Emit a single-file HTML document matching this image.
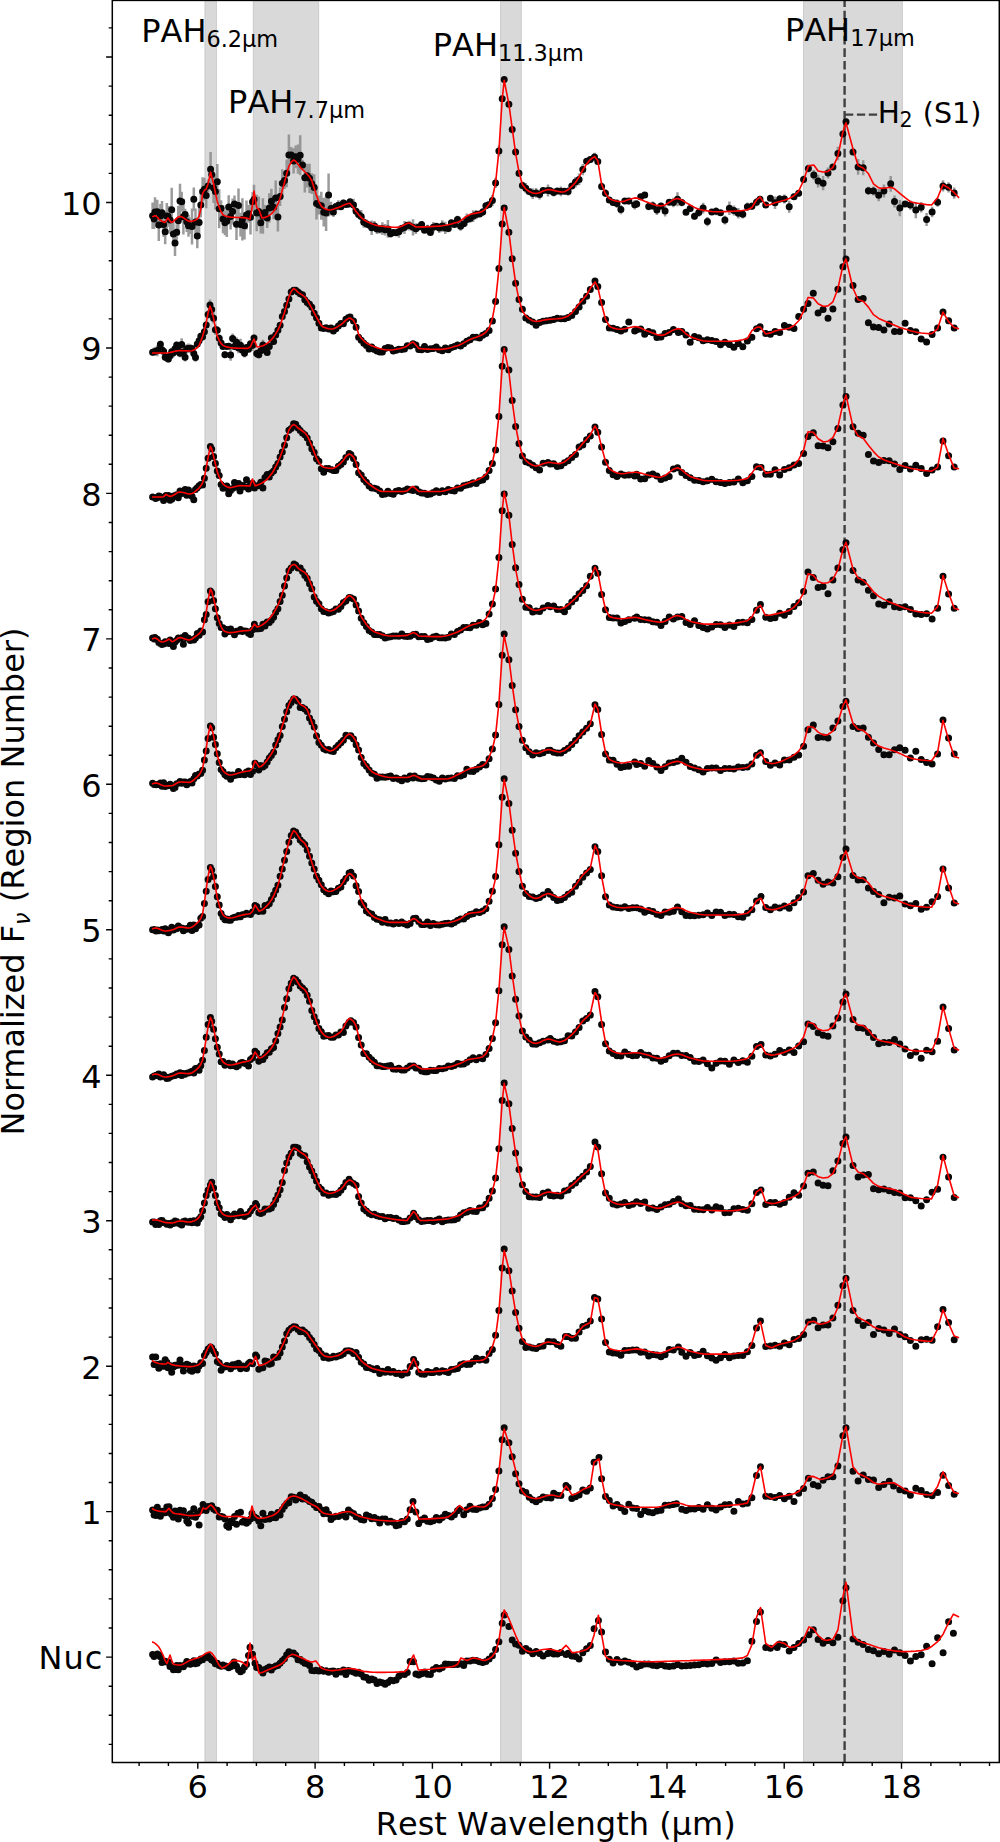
<!DOCTYPE html><html><head><meta charset="utf-8"><title>PAH spectra</title>
<style>html,body{margin:0;padding:0;background:#fff}svg{display:block}text{font-family:'DejaVu Sans', 'Liberation Sans', sans-serif;fill:#000;font-kerning:none}</style></head><body>
<svg width="1000" height="1842" viewBox="0 0 1000 1842">
<rect width="1000" height="1842" fill="#fff"/>
<rect x="204.6" y="0.4" width="12.3" height="1762.1" fill="#d9d9d9"/>
<path d="M205.1 0.4V1762.5M216.4 0.4V1762.5" stroke="#cdcdcd" stroke-width="1"/>
<rect x="252.9" y="0.4" width="66.2" height="1762.1" fill="#d9d9d9"/>
<path d="M253.4 0.4V1762.5M318.6 0.4V1762.5" stroke="#cdcdcd" stroke-width="1"/>
<rect x="500.1" y="0.4" width="21.6" height="1762.1" fill="#d9d9d9"/>
<path d="M500.6 0.4V1762.5M521.2 0.4V1762.5" stroke="#cdcdcd" stroke-width="1"/>
<rect x="803.1" y="0.4" width="99.7" height="1762.1" fill="#d9d9d9"/>
<path d="M803.6 0.4V1762.5M902.3 0.4V1762.5" stroke="#cdcdcd" stroke-width="1"/>
<line x1="844.6" y1="1762.5" x2="844.6" y2="0.4" stroke="#404040" stroke-width="2.4" stroke-dasharray="8.7 3.84"/>
<path d="M152.6 202.4V229M154.1 209V229M155 197.2V227.1M157.3 199.7V223.8M158.8 208.9V240.9M160.4 204V228.1M162 201V224.6M163.6 212.1V237.1M165.2 219.4V244.3M166.8 203V228.8M168 205.9V226.8M170.1 206.4V233.8M171.7 187.8V231.5M173.4 221.9V246.2M175 229.7V256.1M176.7 224.2V240.2M178.3 206.1V235.4M180 183.8V218.3M181.7 191.7V211.6M183.4 198.8V234.5M185.1 208.8V220.4M186.8 211.5V232.1M188.5 214.7V236.7M190.3 217.5V233.9M192 208.6V244.4M193.8 187.4V211.1M195.5 208.5V235.7M197.3 223.8V248.2M199.1 207.2V237.8M200.8 192.4V217.3M202.6 177.3V205.6M204.4 177.7V200.6M206.2 182.9V208.3M208.1 179.6V192.3M210.6 151.9V186.8M211.7 166V182.8M213.6 172.8V203M215.4 173.8V209.5M217.3 164.1V199.5M219.2 189.3V228.3M221.1 200.2V216.6M223 204.9V233.2M224.9 210.4V235.2M226.8 205.4V237.1M228.7 195.2V219M230.6 203.4V229.4M232.6 198.5V224.6M234.5 195.6V212.6M236.5 208.5V239.9M238.5 188.5V222.4M240.5 212.7V236.4M242.4 198.2V240.6M244.5 212.2V239.4M246.5 200.4V229.5M248.5 205.1V222.4M250.5 200.2V234.5M252.6 192V211.4M254 184.7V214.4M256.7 194.8V231.3M258.8 196.5V226.6M260.8 212V233.5M262.9 198.2V233.8M265 205.1V219.9M267.2 207.9V227.9M269.3 193.3V222.7M271.4 188.8V213.7M273.6 195.4V219.2M275.7 180.4V215.5M277.9 202.6V231.5M280.1 187.3V205.9M282.3 169.3V197.3M284.5 172V188.9M286.7 159.4V187.3M288.9 134.5V175.4M291.2 146.9V162.9M293.6 148.3V173.5M295.7 145.4V168.3M298 144.6V173.7M300.2 135.3V175.3M302.5 159.7V170.4M304.8 163.3V192.4M307.2 163.8V187.5M309.5 163.8V192.9M311.8 173.3V194M314.2 174.2V200.8M316.5 187.2V219.5M318.9 195.5V214.4M321.3 191.7V219.8M323.7 197.8V226.5M326.1 195.1V231.1M328.6 173.5V216.6M331 201.7V215.4M333.4 206.9V216.9M335.9 203.2V209.8M338.4 200.2V210.2M340.9 203.6V209.9M343.4 199.4V206.6M345.9 201.4V207.7M348.4 199.7V208M350 200.3V203.1M353.5 198.8V211.2M356.1 207.5V215.1M358.6 210.4V218.6M361.2 210V222.9M363.8 216.9V227.7M366.4 219.6V228.1M369.1 221.3V228.9M371.7 220.6V235M374.4 221V231M377 223.8V233.9M379.7 224.9V233.6M382.4 222.2V235.1M385.1 224V235.4M387.9 220.1V237.7M390.6 230V237.6M393.3 229.6V235.3M396.1 229.6V235.8M398.9 225.7V237.8M401.7 224.8V232.4M404.5 221.1V234M407.3 223.2V227.4M409.4 220.8V230.4M413 219.2V235.5M415.9 223.2V234.1M418.7 224.9V228.8M421.6 221.2V227.6M424.5 228.8V231.8M427.5 224.7V233.2M430.4 230.1V234.7M433.3 222.1V232.4M436.3 223.7V228.8M439.3 223.4V232.9M442.3 220.3V231.9M445.3 221.8V234.1M448.3 224.8V232.3M451.4 219.7V225.9M454.4 222.5V226.5M457.5 215.7V223.2M460.6 221.7V230.7M463.7 221.2V226.4M466.8 213.5V225.5M470 214.3V222.8M473.1 210.3V222.1M476.3 209.9V219.2M479.5 211.1V216.9M482.7 208.1V215.9M485.9 202.7V208.7M489.1 201.9V207.3M492.4 195.1V206.1M495.6 177.7V188M498.9 145.5V156.4M502.2 96.2V101.4M504.2 77.3V81.4M508.9 102.1V106.4M512.2 125.7V133.4M515.6 148.6V155.6M519 169.8V176.9M522.4 181.8V188.9M525.8 183.1V193.3M529.2 190.4V192.7M532.7 188.3V198.9M536.1 188.1V197.7M539.6 189.8V199.4M543.1 188.5V192.6M548 184.4V196.5M550.2 187.6V193.8M553.7 188.3V196.5M557.3 189.9V191.9M560.9 186.5V196.2M564.5 188.2V194.3M568.1 187.3V195.8M571.8 183V189.1M575.5 176.9V187.4M579.1 173.5V185.3M582.8 164V175.2M586.6 158.6V163.9M590.3 156.4V162.8M594.5 152.8V161M597.8 158.4V164.3M601.6 182.6V190.2M605.5 189.3V197.1M609.3 197.9V202.3M613.1 199.4V205.6M617 199V208.1M620.9 204.9V214.2M624.8 199.2V202.6M628.8 197.9V204.4M634.7 199.9V209.6M636.7 200V208M640.7 193.9V199.6M644.7 193.4V196.5M648.7 202.7V210.3M652.8 201.4V210M656.9 204.9V215.1M661 203V209.3M665.1 205.8V216.5M669.2 199.9V204.8M673.4 197.8V207.3M677.5 192.3V206.2M681.8 198.7V206.3M686 209.6V215M690.2 205.5V211.4M694.5 212.8V219.7M698.8 208.1V216.8M703.1 202.8V213.5M707.4 217V226.2M711.8 209.7V214.5M716.1 207.2V215.3M720.5 211.2V214.3M724.9 215.7V224.5M729.4 201.6V215.1M733.9 205.6V215.4M738.3 208V218.5M742.8 209.8V218.6M747.4 202.4V211M751.9 202.6V210.1M756.5 198.1V206.3M760 195.7V202.7M765.7 202.7V207.2M770.4 196.3V200.1M775 196.5V209.1M779.7 195.1V202.8M784.4 194.4V203.6M789.2 200.8V212.8M794 193.5V200.1M798.7 190.2V196.4M803.6 175.6V183.1M808.4 164.4V172.5M813.8 169.9V180.1M818.1 174.8V187.5M823.1 176.1V190.2M828 167.5V178.6M832.9 163.9V170.2M837.9 146.7V160.2M842.9 130.7V137.1M846 117.9V125.5M853 148.4V155.3M858.1 158.9V174.8M863.2 160.3V175.3M868.4 186.7V194.9M873.5 186.4V195.5M878.7 189.1V201.3M883.9 184.6V197.5M890.7 175.9V191.8M894.5 195.6V207.6M899.8 199.9V216.3M905.1 201.5V206.5M910.4 200.4V209.8M915.8 202V218.2M921.2 202.1V212.5M926.6 213V225.9M932.1 206.8V217.2M937.6 197.8V206.8M943 180.2V191.6M948.6 182.2V192.4M954.2 187.4V198.7" stroke="#8a8a8a" stroke-opacity="0.85" stroke-width="2.5" fill="none"/>
<path d="M149.1 215.7a3.5 3.5 0 1 0 7 0a3.5 3.5 0 1 0 -7 0M150.6 219a3.5 3.5 0 1 0 7 0a3.5 3.5 0 1 0 -7 0M151.5 212.1a3.5 3.5 0 1 0 7 0a3.5 3.5 0 1 0 -7 0M153.8 211.8a3.5 3.5 0 1 0 7 0a3.5 3.5 0 1 0 -7 0M155.3 224.9a3.5 3.5 0 1 0 7 0a3.5 3.5 0 1 0 -7 0M156.9 216.1a3.5 3.5 0 1 0 7 0a3.5 3.5 0 1 0 -7 0M158.5 212.8a3.5 3.5 0 1 0 7 0a3.5 3.5 0 1 0 -7 0M160.1 224.6a3.5 3.5 0 1 0 7 0a3.5 3.5 0 1 0 -7 0M161.7 231.8a3.5 3.5 0 1 0 7 0a3.5 3.5 0 1 0 -7 0M163.3 215.9a3.5 3.5 0 1 0 7 0a3.5 3.5 0 1 0 -7 0M164.5 216.3a3.5 3.5 0 1 0 7 0a3.5 3.5 0 1 0 -7 0M166.6 220.1a3.5 3.5 0 1 0 7 0a3.5 3.5 0 1 0 -7 0M168.2 209.7a3.5 3.5 0 1 0 7 0a3.5 3.5 0 1 0 -7 0M169.9 234.1a3.5 3.5 0 1 0 7 0a3.5 3.5 0 1 0 -7 0M171.5 242.9a3.5 3.5 0 1 0 7 0a3.5 3.5 0 1 0 -7 0M173.2 232.2a3.5 3.5 0 1 0 7 0a3.5 3.5 0 1 0 -7 0M174.8 220.8a3.5 3.5 0 1 0 7 0a3.5 3.5 0 1 0 -7 0M176.5 201.1a3.5 3.5 0 1 0 7 0a3.5 3.5 0 1 0 -7 0M178.2 201.7a3.5 3.5 0 1 0 7 0a3.5 3.5 0 1 0 -7 0M179.9 216.7a3.5 3.5 0 1 0 7 0a3.5 3.5 0 1 0 -7 0M181.6 214.6a3.5 3.5 0 1 0 7 0a3.5 3.5 0 1 0 -7 0M183.3 221.8a3.5 3.5 0 1 0 7 0a3.5 3.5 0 1 0 -7 0M185 225.7a3.5 3.5 0 1 0 7 0a3.5 3.5 0 1 0 -7 0M186.8 225.7a3.5 3.5 0 1 0 7 0a3.5 3.5 0 1 0 -7 0M188.5 226.5a3.5 3.5 0 1 0 7 0a3.5 3.5 0 1 0 -7 0M190.3 199.3a3.5 3.5 0 1 0 7 0a3.5 3.5 0 1 0 -7 0M192 222.1a3.5 3.5 0 1 0 7 0a3.5 3.5 0 1 0 -7 0M193.8 236a3.5 3.5 0 1 0 7 0a3.5 3.5 0 1 0 -7 0M195.6 222.5a3.5 3.5 0 1 0 7 0a3.5 3.5 0 1 0 -7 0M197.3 204.9a3.5 3.5 0 1 0 7 0a3.5 3.5 0 1 0 -7 0M199.1 191.4a3.5 3.5 0 1 0 7 0a3.5 3.5 0 1 0 -7 0M200.9 189.2a3.5 3.5 0 1 0 7 0a3.5 3.5 0 1 0 -7 0M202.7 195.6a3.5 3.5 0 1 0 7 0a3.5 3.5 0 1 0 -7 0M204.6 186a3.5 3.5 0 1 0 7 0a3.5 3.5 0 1 0 -7 0M207.1 169.3a3.5 3.5 0 1 0 7 0a3.5 3.5 0 1 0 -7 0M208.2 174.4a3.5 3.5 0 1 0 7 0a3.5 3.5 0 1 0 -7 0M210.1 187.9a3.5 3.5 0 1 0 7 0a3.5 3.5 0 1 0 -7 0M211.9 191.6a3.5 3.5 0 1 0 7 0a3.5 3.5 0 1 0 -7 0M213.8 181.8a3.5 3.5 0 1 0 7 0a3.5 3.5 0 1 0 -7 0M215.7 208.8a3.5 3.5 0 1 0 7 0a3.5 3.5 0 1 0 -7 0M217.6 208.4a3.5 3.5 0 1 0 7 0a3.5 3.5 0 1 0 -7 0M219.5 219a3.5 3.5 0 1 0 7 0a3.5 3.5 0 1 0 -7 0M221.4 222.8a3.5 3.5 0 1 0 7 0a3.5 3.5 0 1 0 -7 0M223.3 221.3a3.5 3.5 0 1 0 7 0a3.5 3.5 0 1 0 -7 0M225.2 207.1a3.5 3.5 0 1 0 7 0a3.5 3.5 0 1 0 -7 0M227.1 216.4a3.5 3.5 0 1 0 7 0a3.5 3.5 0 1 0 -7 0M229.1 211.5a3.5 3.5 0 1 0 7 0a3.5 3.5 0 1 0 -7 0M231 204.1a3.5 3.5 0 1 0 7 0a3.5 3.5 0 1 0 -7 0M233 224.2a3.5 3.5 0 1 0 7 0a3.5 3.5 0 1 0 -7 0M235 205.4a3.5 3.5 0 1 0 7 0a3.5 3.5 0 1 0 -7 0M237 224.6a3.5 3.5 0 1 0 7 0a3.5 3.5 0 1 0 -7 0M238.9 219.4a3.5 3.5 0 1 0 7 0a3.5 3.5 0 1 0 -7 0M241 225.8a3.5 3.5 0 1 0 7 0a3.5 3.5 0 1 0 -7 0M243 215a3.5 3.5 0 1 0 7 0a3.5 3.5 0 1 0 -7 0M245 213.7a3.5 3.5 0 1 0 7 0a3.5 3.5 0 1 0 -7 0M247 217.3a3.5 3.5 0 1 0 7 0a3.5 3.5 0 1 0 -7 0M249.1 201.7a3.5 3.5 0 1 0 7 0a3.5 3.5 0 1 0 -7 0M250.5 199.6a3.5 3.5 0 1 0 7 0a3.5 3.5 0 1 0 -7 0M253.2 213a3.5 3.5 0 1 0 7 0a3.5 3.5 0 1 0 -7 0M255.3 211.5a3.5 3.5 0 1 0 7 0a3.5 3.5 0 1 0 -7 0M257.3 222.7a3.5 3.5 0 1 0 7 0a3.5 3.5 0 1 0 -7 0M259.4 216a3.5 3.5 0 1 0 7 0a3.5 3.5 0 1 0 -7 0M261.5 212.5a3.5 3.5 0 1 0 7 0a3.5 3.5 0 1 0 -7 0M263.7 217.9a3.5 3.5 0 1 0 7 0a3.5 3.5 0 1 0 -7 0M265.8 208a3.5 3.5 0 1 0 7 0a3.5 3.5 0 1 0 -7 0M267.9 201.2a3.5 3.5 0 1 0 7 0a3.5 3.5 0 1 0 -7 0M270.1 207.3a3.5 3.5 0 1 0 7 0a3.5 3.5 0 1 0 -7 0M272.2 197.9a3.5 3.5 0 1 0 7 0a3.5 3.5 0 1 0 -7 0M274.4 217a3.5 3.5 0 1 0 7 0a3.5 3.5 0 1 0 -7 0M276.6 196.6a3.5 3.5 0 1 0 7 0a3.5 3.5 0 1 0 -7 0M278.8 183.3a3.5 3.5 0 1 0 7 0a3.5 3.5 0 1 0 -7 0M281 180.5a3.5 3.5 0 1 0 7 0a3.5 3.5 0 1 0 -7 0M283.2 173.3a3.5 3.5 0 1 0 7 0a3.5 3.5 0 1 0 -7 0M285.4 155a3.5 3.5 0 1 0 7 0a3.5 3.5 0 1 0 -7 0M287.7 154.9a3.5 3.5 0 1 0 7 0a3.5 3.5 0 1 0 -7 0M290.1 160.9a3.5 3.5 0 1 0 7 0a3.5 3.5 0 1 0 -7 0M292.2 156.8a3.5 3.5 0 1 0 7 0a3.5 3.5 0 1 0 -7 0M294.5 159.2a3.5 3.5 0 1 0 7 0a3.5 3.5 0 1 0 -7 0M296.7 155.3a3.5 3.5 0 1 0 7 0a3.5 3.5 0 1 0 -7 0M299 165.1a3.5 3.5 0 1 0 7 0a3.5 3.5 0 1 0 -7 0M301.3 177.8a3.5 3.5 0 1 0 7 0a3.5 3.5 0 1 0 -7 0M303.7 175.7a3.5 3.5 0 1 0 7 0a3.5 3.5 0 1 0 -7 0M306 178.3a3.5 3.5 0 1 0 7 0a3.5 3.5 0 1 0 -7 0M308.3 183.7a3.5 3.5 0 1 0 7 0a3.5 3.5 0 1 0 -7 0M310.7 187.5a3.5 3.5 0 1 0 7 0a3.5 3.5 0 1 0 -7 0M313 203.4a3.5 3.5 0 1 0 7 0a3.5 3.5 0 1 0 -7 0M315.4 204.9a3.5 3.5 0 1 0 7 0a3.5 3.5 0 1 0 -7 0M317.8 205.7a3.5 3.5 0 1 0 7 0a3.5 3.5 0 1 0 -7 0M320.2 212.2a3.5 3.5 0 1 0 7 0a3.5 3.5 0 1 0 -7 0M322.6 213.1a3.5 3.5 0 1 0 7 0a3.5 3.5 0 1 0 -7 0M325.1 195a3.5 3.5 0 1 0 7 0a3.5 3.5 0 1 0 -7 0M327.5 208.6a3.5 3.5 0 1 0 7 0a3.5 3.5 0 1 0 -7 0M329.9 211.9a3.5 3.5 0 1 0 7 0a3.5 3.5 0 1 0 -7 0M332.4 206.5a3.5 3.5 0 1 0 7 0a3.5 3.5 0 1 0 -7 0M334.9 205.2a3.5 3.5 0 1 0 7 0a3.5 3.5 0 1 0 -7 0M337.4 206.7a3.5 3.5 0 1 0 7 0a3.5 3.5 0 1 0 -7 0M339.9 203a3.5 3.5 0 1 0 7 0a3.5 3.5 0 1 0 -7 0M342.4 204.5a3.5 3.5 0 1 0 7 0a3.5 3.5 0 1 0 -7 0M344.9 203.9a3.5 3.5 0 1 0 7 0a3.5 3.5 0 1 0 -7 0M346.5 201.7a3.5 3.5 0 1 0 7 0a3.5 3.5 0 1 0 -7 0M350 205a3.5 3.5 0 1 0 7 0a3.5 3.5 0 1 0 -7 0M352.6 211.3a3.5 3.5 0 1 0 7 0a3.5 3.5 0 1 0 -7 0M355.1 214.5a3.5 3.5 0 1 0 7 0a3.5 3.5 0 1 0 -7 0M357.7 216.4a3.5 3.5 0 1 0 7 0a3.5 3.5 0 1 0 -7 0M360.3 222.3a3.5 3.5 0 1 0 7 0a3.5 3.5 0 1 0 -7 0M362.9 223.8a3.5 3.5 0 1 0 7 0a3.5 3.5 0 1 0 -7 0M365.6 225.1a3.5 3.5 0 1 0 7 0a3.5 3.5 0 1 0 -7 0M368.2 227.8a3.5 3.5 0 1 0 7 0a3.5 3.5 0 1 0 -7 0M370.9 226a3.5 3.5 0 1 0 7 0a3.5 3.5 0 1 0 -7 0M373.5 228.9a3.5 3.5 0 1 0 7 0a3.5 3.5 0 1 0 -7 0M376.2 229.2a3.5 3.5 0 1 0 7 0a3.5 3.5 0 1 0 -7 0M378.9 228.7a3.5 3.5 0 1 0 7 0a3.5 3.5 0 1 0 -7 0M381.6 229.7a3.5 3.5 0 1 0 7 0a3.5 3.5 0 1 0 -7 0M384.4 228.9a3.5 3.5 0 1 0 7 0a3.5 3.5 0 1 0 -7 0M387.1 233.8a3.5 3.5 0 1 0 7 0a3.5 3.5 0 1 0 -7 0M389.8 232.4a3.5 3.5 0 1 0 7 0a3.5 3.5 0 1 0 -7 0M392.6 232.7a3.5 3.5 0 1 0 7 0a3.5 3.5 0 1 0 -7 0M395.4 231.7a3.5 3.5 0 1 0 7 0a3.5 3.5 0 1 0 -7 0M398.2 228.6a3.5 3.5 0 1 0 7 0a3.5 3.5 0 1 0 -7 0M401 227.5a3.5 3.5 0 1 0 7 0a3.5 3.5 0 1 0 -7 0M403.8 225.3a3.5 3.5 0 1 0 7 0a3.5 3.5 0 1 0 -7 0M405.9 225.6a3.5 3.5 0 1 0 7 0a3.5 3.5 0 1 0 -7 0M409.5 227.3a3.5 3.5 0 1 0 7 0a3.5 3.5 0 1 0 -7 0M412.4 228.7a3.5 3.5 0 1 0 7 0a3.5 3.5 0 1 0 -7 0M415.2 226.9a3.5 3.5 0 1 0 7 0a3.5 3.5 0 1 0 -7 0M418.1 224.4a3.5 3.5 0 1 0 7 0a3.5 3.5 0 1 0 -7 0M421 230.3a3.5 3.5 0 1 0 7 0a3.5 3.5 0 1 0 -7 0M424 228.9a3.5 3.5 0 1 0 7 0a3.5 3.5 0 1 0 -7 0M426.9 232.4a3.5 3.5 0 1 0 7 0a3.5 3.5 0 1 0 -7 0M429.8 227.3a3.5 3.5 0 1 0 7 0a3.5 3.5 0 1 0 -7 0M432.8 226.2a3.5 3.5 0 1 0 7 0a3.5 3.5 0 1 0 -7 0M435.8 228.1a3.5 3.5 0 1 0 7 0a3.5 3.5 0 1 0 -7 0M438.8 226.1a3.5 3.5 0 1 0 7 0a3.5 3.5 0 1 0 -7 0M441.8 228a3.5 3.5 0 1 0 7 0a3.5 3.5 0 1 0 -7 0M444.8 228.5a3.5 3.5 0 1 0 7 0a3.5 3.5 0 1 0 -7 0M447.9 222.8a3.5 3.5 0 1 0 7 0a3.5 3.5 0 1 0 -7 0M450.9 224.5a3.5 3.5 0 1 0 7 0a3.5 3.5 0 1 0 -7 0M454 219.5a3.5 3.5 0 1 0 7 0a3.5 3.5 0 1 0 -7 0M457.1 226.2a3.5 3.5 0 1 0 7 0a3.5 3.5 0 1 0 -7 0M460.2 223.8a3.5 3.5 0 1 0 7 0a3.5 3.5 0 1 0 -7 0M463.3 219.5a3.5 3.5 0 1 0 7 0a3.5 3.5 0 1 0 -7 0M466.5 218.6a3.5 3.5 0 1 0 7 0a3.5 3.5 0 1 0 -7 0M469.6 216.2a3.5 3.5 0 1 0 7 0a3.5 3.5 0 1 0 -7 0M472.8 214.5a3.5 3.5 0 1 0 7 0a3.5 3.5 0 1 0 -7 0M476 214a3.5 3.5 0 1 0 7 0a3.5 3.5 0 1 0 -7 0M479.2 212a3.5 3.5 0 1 0 7 0a3.5 3.5 0 1 0 -7 0M482.4 205.7a3.5 3.5 0 1 0 7 0a3.5 3.5 0 1 0 -7 0M485.6 204.6a3.5 3.5 0 1 0 7 0a3.5 3.5 0 1 0 -7 0M488.9 200.6a3.5 3.5 0 1 0 7 0a3.5 3.5 0 1 0 -7 0M492.1 182.9a3.5 3.5 0 1 0 7 0a3.5 3.5 0 1 0 -7 0M495.4 150.9a3.5 3.5 0 1 0 7 0a3.5 3.5 0 1 0 -7 0M498.7 98.8a3.5 3.5 0 1 0 7 0a3.5 3.5 0 1 0 -7 0M500.7 79.4a3.5 3.5 0 1 0 7 0a3.5 3.5 0 1 0 -7 0M505.4 104.3a3.5 3.5 0 1 0 7 0a3.5 3.5 0 1 0 -7 0M508.7 129.5a3.5 3.5 0 1 0 7 0a3.5 3.5 0 1 0 -7 0M512.1 152.1a3.5 3.5 0 1 0 7 0a3.5 3.5 0 1 0 -7 0M515.5 173.3a3.5 3.5 0 1 0 7 0a3.5 3.5 0 1 0 -7 0M518.9 185.4a3.5 3.5 0 1 0 7 0a3.5 3.5 0 1 0 -7 0M522.3 188.2a3.5 3.5 0 1 0 7 0a3.5 3.5 0 1 0 -7 0M525.7 191.6a3.5 3.5 0 1 0 7 0a3.5 3.5 0 1 0 -7 0M529.2 193.6a3.5 3.5 0 1 0 7 0a3.5 3.5 0 1 0 -7 0M532.6 192.9a3.5 3.5 0 1 0 7 0a3.5 3.5 0 1 0 -7 0M536.1 194.6a3.5 3.5 0 1 0 7 0a3.5 3.5 0 1 0 -7 0M539.6 190.5a3.5 3.5 0 1 0 7 0a3.5 3.5 0 1 0 -7 0M544.5 190.5a3.5 3.5 0 1 0 7 0a3.5 3.5 0 1 0 -7 0M546.7 190.7a3.5 3.5 0 1 0 7 0a3.5 3.5 0 1 0 -7 0M550.2 192.4a3.5 3.5 0 1 0 7 0a3.5 3.5 0 1 0 -7 0M553.8 190.9a3.5 3.5 0 1 0 7 0a3.5 3.5 0 1 0 -7 0M557.4 191.3a3.5 3.5 0 1 0 7 0a3.5 3.5 0 1 0 -7 0M561 191.3a3.5 3.5 0 1 0 7 0a3.5 3.5 0 1 0 -7 0M564.6 191.6a3.5 3.5 0 1 0 7 0a3.5 3.5 0 1 0 -7 0M568.3 186.1a3.5 3.5 0 1 0 7 0a3.5 3.5 0 1 0 -7 0M572 182.1a3.5 3.5 0 1 0 7 0a3.5 3.5 0 1 0 -7 0M575.6 179.4a3.5 3.5 0 1 0 7 0a3.5 3.5 0 1 0 -7 0M579.3 169.6a3.5 3.5 0 1 0 7 0a3.5 3.5 0 1 0 -7 0M583.1 161.3a3.5 3.5 0 1 0 7 0a3.5 3.5 0 1 0 -7 0M586.8 159.6a3.5 3.5 0 1 0 7 0a3.5 3.5 0 1 0 -7 0M591 156.9a3.5 3.5 0 1 0 7 0a3.5 3.5 0 1 0 -7 0M594.3 161.4a3.5 3.5 0 1 0 7 0a3.5 3.5 0 1 0 -7 0M598.1 186.4a3.5 3.5 0 1 0 7 0a3.5 3.5 0 1 0 -7 0M602 193.2a3.5 3.5 0 1 0 7 0a3.5 3.5 0 1 0 -7 0M605.8 200.1a3.5 3.5 0 1 0 7 0a3.5 3.5 0 1 0 -7 0M609.6 202.5a3.5 3.5 0 1 0 7 0a3.5 3.5 0 1 0 -7 0M613.5 203.5a3.5 3.5 0 1 0 7 0a3.5 3.5 0 1 0 -7 0M617.4 209.6a3.5 3.5 0 1 0 7 0a3.5 3.5 0 1 0 -7 0M621.3 200.9a3.5 3.5 0 1 0 7 0a3.5 3.5 0 1 0 -7 0M625.3 201.1a3.5 3.5 0 1 0 7 0a3.5 3.5 0 1 0 -7 0M631.2 204.8a3.5 3.5 0 1 0 7 0a3.5 3.5 0 1 0 -7 0M633.2 204a3.5 3.5 0 1 0 7 0a3.5 3.5 0 1 0 -7 0M637.2 196.7a3.5 3.5 0 1 0 7 0a3.5 3.5 0 1 0 -7 0M641.2 195a3.5 3.5 0 1 0 7 0a3.5 3.5 0 1 0 -7 0M645.2 206.5a3.5 3.5 0 1 0 7 0a3.5 3.5 0 1 0 -7 0M649.3 205.7a3.5 3.5 0 1 0 7 0a3.5 3.5 0 1 0 -7 0M653.4 210a3.5 3.5 0 1 0 7 0a3.5 3.5 0 1 0 -7 0M657.5 206.1a3.5 3.5 0 1 0 7 0a3.5 3.5 0 1 0 -7 0M661.6 211.1a3.5 3.5 0 1 0 7 0a3.5 3.5 0 1 0 -7 0M665.7 202.3a3.5 3.5 0 1 0 7 0a3.5 3.5 0 1 0 -7 0M669.9 202.6a3.5 3.5 0 1 0 7 0a3.5 3.5 0 1 0 -7 0M674 199.2a3.5 3.5 0 1 0 7 0a3.5 3.5 0 1 0 -7 0M678.3 202.5a3.5 3.5 0 1 0 7 0a3.5 3.5 0 1 0 -7 0M682.5 212.3a3.5 3.5 0 1 0 7 0a3.5 3.5 0 1 0 -7 0M686.7 208.5a3.5 3.5 0 1 0 7 0a3.5 3.5 0 1 0 -7 0M691 216.3a3.5 3.5 0 1 0 7 0a3.5 3.5 0 1 0 -7 0M695.3 212.5a3.5 3.5 0 1 0 7 0a3.5 3.5 0 1 0 -7 0M699.6 208.1a3.5 3.5 0 1 0 7 0a3.5 3.5 0 1 0 -7 0M703.9 221.6a3.5 3.5 0 1 0 7 0a3.5 3.5 0 1 0 -7 0M708.3 212.1a3.5 3.5 0 1 0 7 0a3.5 3.5 0 1 0 -7 0M712.6 211.2a3.5 3.5 0 1 0 7 0a3.5 3.5 0 1 0 -7 0M717 212.8a3.5 3.5 0 1 0 7 0a3.5 3.5 0 1 0 -7 0M721.4 220.1a3.5 3.5 0 1 0 7 0a3.5 3.5 0 1 0 -7 0M725.9 208.3a3.5 3.5 0 1 0 7 0a3.5 3.5 0 1 0 -7 0M730.4 210.5a3.5 3.5 0 1 0 7 0a3.5 3.5 0 1 0 -7 0M734.8 213.3a3.5 3.5 0 1 0 7 0a3.5 3.5 0 1 0 -7 0M739.3 214.2a3.5 3.5 0 1 0 7 0a3.5 3.5 0 1 0 -7 0M743.9 206.7a3.5 3.5 0 1 0 7 0a3.5 3.5 0 1 0 -7 0M748.4 206.3a3.5 3.5 0 1 0 7 0a3.5 3.5 0 1 0 -7 0M753 202.2a3.5 3.5 0 1 0 7 0a3.5 3.5 0 1 0 -7 0M756.5 199.2a3.5 3.5 0 1 0 7 0a3.5 3.5 0 1 0 -7 0M762.2 205a3.5 3.5 0 1 0 7 0a3.5 3.5 0 1 0 -7 0M766.9 198.2a3.5 3.5 0 1 0 7 0a3.5 3.5 0 1 0 -7 0M771.5 202.8a3.5 3.5 0 1 0 7 0a3.5 3.5 0 1 0 -7 0M776.2 199a3.5 3.5 0 1 0 7 0a3.5 3.5 0 1 0 -7 0M780.9 199a3.5 3.5 0 1 0 7 0a3.5 3.5 0 1 0 -7 0M785.7 206.8a3.5 3.5 0 1 0 7 0a3.5 3.5 0 1 0 -7 0M790.5 196.8a3.5 3.5 0 1 0 7 0a3.5 3.5 0 1 0 -7 0M795.2 193.3a3.5 3.5 0 1 0 7 0a3.5 3.5 0 1 0 -7 0M800.1 179.4a3.5 3.5 0 1 0 7 0a3.5 3.5 0 1 0 -7 0M804.9 168.5a3.5 3.5 0 1 0 7 0a3.5 3.5 0 1 0 -7 0M810.3 175a3.5 3.5 0 1 0 7 0a3.5 3.5 0 1 0 -7 0M814.6 181.1a3.5 3.5 0 1 0 7 0a3.5 3.5 0 1 0 -7 0M819.6 183.2a3.5 3.5 0 1 0 7 0a3.5 3.5 0 1 0 -7 0M824.5 173.1a3.5 3.5 0 1 0 7 0a3.5 3.5 0 1 0 -7 0M829.4 167.1a3.5 3.5 0 1 0 7 0a3.5 3.5 0 1 0 -7 0M834.4 153.4a3.5 3.5 0 1 0 7 0a3.5 3.5 0 1 0 -7 0M839.4 133.9a3.5 3.5 0 1 0 7 0a3.5 3.5 0 1 0 -7 0M842.5 121.7a3.5 3.5 0 1 0 7 0a3.5 3.5 0 1 0 -7 0M849.5 151.9a3.5 3.5 0 1 0 7 0a3.5 3.5 0 1 0 -7 0M854.6 166.9a3.5 3.5 0 1 0 7 0a3.5 3.5 0 1 0 -7 0M859.7 167.8a3.5 3.5 0 1 0 7 0a3.5 3.5 0 1 0 -7 0M864.9 190.8a3.5 3.5 0 1 0 7 0a3.5 3.5 0 1 0 -7 0M870 190.9a3.5 3.5 0 1 0 7 0a3.5 3.5 0 1 0 -7 0M875.2 195.2a3.5 3.5 0 1 0 7 0a3.5 3.5 0 1 0 -7 0M880.4 191.1a3.5 3.5 0 1 0 7 0a3.5 3.5 0 1 0 -7 0M887.2 183.8a3.5 3.5 0 1 0 7 0a3.5 3.5 0 1 0 -7 0M891 201.6a3.5 3.5 0 1 0 7 0a3.5 3.5 0 1 0 -7 0M896.3 208.1a3.5 3.5 0 1 0 7 0a3.5 3.5 0 1 0 -7 0M901.6 204a3.5 3.5 0 1 0 7 0a3.5 3.5 0 1 0 -7 0M906.9 205.1a3.5 3.5 0 1 0 7 0a3.5 3.5 0 1 0 -7 0M912.3 210.1a3.5 3.5 0 1 0 7 0a3.5 3.5 0 1 0 -7 0M917.7 207.3a3.5 3.5 0 1 0 7 0a3.5 3.5 0 1 0 -7 0M923.1 219.5a3.5 3.5 0 1 0 7 0a3.5 3.5 0 1 0 -7 0M928.6 212a3.5 3.5 0 1 0 7 0a3.5 3.5 0 1 0 -7 0M934.1 202.3a3.5 3.5 0 1 0 7 0a3.5 3.5 0 1 0 -7 0M939.5 185.9a3.5 3.5 0 1 0 7 0a3.5 3.5 0 1 0 -7 0M945.1 187.3a3.5 3.5 0 1 0 7 0a3.5 3.5 0 1 0 -7 0M950.7 193a3.5 3.5 0 1 0 7 0a3.5 3.5 0 1 0 -7 0" fill="#080808"/>
<path d="M152.4 217 L152.6 216.8 L155 215.6 L157.3 217.1 L158.8 219 L160.4 220.3 L162 221.3 L163.6 222.1 L165 222.4 L168 218 L171 222.4 L173.4 221.4 L175 219.9 L176.7 218.3 L178.3 216.9 L180 216.4 L181.7 216.8 L183.4 217.7 L185.1 219 L186.8 220.2 L188.5 221.1 L190 221.4 L192 221.2 L193.8 220.8 L195.5 220.2 L197.3 219 L199.1 216.2 L200.8 209 L202.6 193.3 L204.4 190.3 L206.2 189 L208.1 183.7 L210.6 172 L213.6 184 L215.4 192.9 L217.3 201.7 L219.2 207.2 L221.1 211.8 L223 214.8 L224.9 215.9 L226.8 216.4 L228.7 216.8 L230.6 217.1 L232.6 217.3 L234.5 217.4 L236.5 217.5 L238.5 217.5 L240.5 217.5 L242.4 217.6 L244.5 217.6 L246.5 218.1 L248.5 218.8 L250 219 L252.6 204.6 L254 191 L256.7 207.5 L258.8 209.3 L262 218 L265 217.4 L267.2 216.6 L269.3 215.4 L271.4 213.9 L273.6 211.5 L275.7 208.2 L277.9 204.2 L280.1 198.2 L282.3 190.2 L284.5 182.3 L286.7 173.8 L288.9 166.3 L291.2 162.2 L293.6 160 L295.7 161.3 L298 164.3 L300.2 167.2 L302.5 169.5 L304.8 171.8 L307.2 174.2 L309.5 176.8 L311.8 180.8 L314.2 188.3 L316.5 195.4 L318.9 201.7 L321.3 206.3 L323.7 208.2 L326.1 209.4 L329 210 L331 209.8 L333.4 209.2 L335.9 208.3 L338.4 207.5 L340.9 206.5 L343.4 205.3 L345.9 204.3 L348.4 203.5 L350 203.4 L353.5 207.5 L356.1 211.6 L358.6 214.6 L361.2 217.4 L363.8 219.7 L366.4 221.3 L369.1 222.6 L371.7 223.7 L374.4 224.7 L377 225.5 L379.7 226 L382.4 226.3 L385.1 226.6 L387.9 226.9 L390.6 227.1 L393.3 227.3 L396.1 227.4 L398 227.4 L401.7 226.3 L404.5 224.7 L407.3 223.4 L409.4 223 L413 225.3 L416 227 L418.7 227 L421.6 226.9 L424.5 226.9 L427.5 226.7 L430.4 226.6 L433.3 226.4 L436.3 226.3 L439.3 226.1 L442.3 225.8 L445.3 225.3 L448.3 224.7 L451.4 224 L454.4 223.1 L457.5 222.2 L460.6 220.7 L463.7 218.5 L466.8 216.2 L470 214.5 L473.1 213.6 L476.3 213.1 L479.5 212.4 L482.7 211.2 L485.9 208.6 L489.1 204.3 L492.4 197.6 L495.6 182.9 L498.9 150.7 L502.2 99.1 L504.2 80.4 L508.9 104.1 L512.2 128.4 L515.6 153.1 L519 172.2 L522.4 184.5 L525.8 189.1 L529.2 191.5 L532.7 193 L536 193.5 L539.6 192.7 L543.1 191 L548 189.6 L550.2 189.7 L553.7 190.4 L557.3 191.2 L560.9 191.9 L563 192 L564.5 191.8 L568.1 189.8 L571.8 186.4 L575.5 182.5 L579.1 176.9 L582.8 170 L586.6 164 L590.3 159.5 L594.5 156.6 L597.8 160.7 L601.6 184.4 L605.5 193.8 L609.3 198.5 L613.1 200.3 L617 201.3 L621.4 201.7 L624.8 201.1 L628.8 199.5 L634.7 197.9 L636.7 198.1 L640.7 199.5 L644.7 201.3 L648.7 202.8 L652.8 204.2 L656.9 205.4 L661.3 206 L665.1 205 L669.2 202.3 L673.4 199.6 L677.5 198.4 L681.8 200 L686 202.6 L690.2 205 L694.5 207.4 L698.8 209.2 L703.1 210.1 L707.4 210.9 L711.8 211.5 L716.4 211.7 L720.5 211.7 L724.9 211.6 L729.4 211.4 L733.9 211.2 L738.3 210.9 L742.8 210.5 L747.4 209.8 L751.9 207.5 L756.5 200 L760 196.9 L765.8 205.5 L770.4 204.5 L775 202.7 L779.7 201.4 L784.4 200.2 L789.2 198.5 L794 195.8 L798.7 191.1 L803.6 180.5 L808.4 165.9 L813.8 165 L818.1 171 L823.1 172 L828 171.4 L832.9 167.4 L837.9 156.1 L842.9 132 L846 122.7 L853 149 L858.1 165.6 L863.2 168 L868.4 173.7 L873.5 183.9 L878.7 187.8 L881.2 188.4 L883.9 188.2 L890.7 187.3 L894.5 188.8 L899.8 193.3 L905.1 197.7 L910.4 201.7 L915.8 203 L921.2 203.8 L926.6 204.6 L931.6 205 L937.6 197.8 L943 184.6 L948.6 188 L954.2 192.7 L959.1 197.9" stroke="#ff0000" stroke-width="1.6" fill="none" stroke-linejoin="round"/>
<path d="M152.6 348.8V355.7M154.1 347.5V355.9M155.7 346.7V355.9M157.3 345.3V356.3M158.8 347.5V351.9M160.4 340.7V347.9M162 345.6V354.5M163.6 348.6V354M165.2 353.8V360.6M166.8 354V362.2M168.4 355.3V362.5M170.1 353V358.4M171.7 348V355.3M173.4 348V357.4M175 343.9V353.4M176.7 341.7V348.2M178.3 345.3V355.6M180 349.1V357.3M181.7 338.3V350.6M183.4 346.5V357.3M185.1 353.2V361.5M186.8 344.2V353.4M188.5 343.6V353.1M190.3 344.1V353.2M192 347.4V349.4M193.8 350.4V356.8M195.5 353.3V361.7M197.3 339.4V348.4M199.1 339.1V342.6M200.8 332.4V340M202.6 332.4V341M204.4 327.1V336.6M206.2 321.6V328.2M208.1 310.3V318.8M210 299.6V310.6M211.7 304.4V314.4M213.6 313V323.6M215.4 324.6V335.1M217.3 326.1V334.5M219.2 334.4V341.9M221.1 337.7V348.3M223 344V349.3M224.9 351.2V358.1M226.8 344.3V348.9M228.7 343.6V349M230.6 349.2V360.8M232.6 333.6V343.5M234.5 344.3V348.4M236.5 337.2V347.2M238.5 342.5V353.3M240.5 338.7V351.7M242.4 346.4V354M244.5 349V357.4M246.5 345V350.1M248.5 348.3V350.3M250.5 341.8V345.9M252.6 340V351.1M254 334.6V341.2M256.7 349.3V358M258.8 350.8V358.6M260.8 343.8V357.6M262.9 339.8V350.3M265 346.5V349.6M267.2 349.9V355.3M269.3 342.6V350.6M271.4 334.5V341.5M273.6 339.5V343.6M275.7 334.1V336.1M277.9 329.3V331.3M280.1 323.7V326.8M282.3 315.3V318M284.5 310.3V312.7M286.7 303.6V306.9M288.9 296.8V300.9M291.2 290.1V294.1M293.6 288.8V291.7M295.7 289.2V291.4M298 290.2V293.9M300.2 292.2V295.3M302.5 293.7V295.7M304.8 297.5V302.2M307.2 300.9V303.9M309.5 302V306.5M311.8 305.8V308.8M314.2 312.3V314.3M316.5 315.7V319.9M318.9 322.2V324.2M321.3 327V329M323.7 327V329.9M326.1 325.6V329.8M328.6 327.5V330.8M331 326.9V328.9M333.4 329.6V332.5M335.9 327.2V330.2M338.4 324.9V326.9M340.9 322V324.9M343.4 322V325.5M345.9 318.3V320.3M348.4 315.3V320M350 315.8V318.1M353.5 318.9V323.4M356.1 325.3V329.1M358.6 336.3V338.3M361.2 338.8V341.6M363.8 342V344.4M366.4 343.2V348M369.1 348V350.2M371.7 345.4V348.9M374.4 348.4V350.7M377 349.8V352.1M379.7 350.7V353.5M382.4 351.1V353.1M385.1 346.6V350.6M387.9 345.3V349.7M390.6 346.8V349.4M393.3 349.3V352.4M396.1 348.6V351.8M398.9 347.4V351.1M401.7 347.8V351.3M404.5 347.6V350.1M407.3 344.8V346.8M410.1 344.3V347.4M413 342.1V345.6M415.9 342.5V347.6M418.7 348.1V350.8M421.6 348.4V351M424.5 343.5V349.7M427.5 348.1V350.7M430.4 347.4V350M433.3 347.6V349.6M436.3 345.9V348.1M439.3 348.5V351.2M442.3 349.2V352.4M445.3 346.6V349.5M448.3 348.8V350.8M451.4 346.6V348.6M454.4 345.4V347.6M457.5 343.9V345.9M460.6 345.1V347.1M463.7 342.4V345M466.8 339.3V343.3M470 338V341.6M473.1 335.1V339.4M476.3 334.5V339.8M479.5 336.4V339.4M482.7 334.2V336.2M485.9 332.1V335.1M489.1 328.8V332.3M492.4 319.2V322.7M495.6 299.7V303.2M498.9 266.7V270.4M502.2 222.7V225.3M504.2 206.3V209.7M508.9 230.7V233.6M512.2 257.3V260.3M515.6 282V284.5M519 298.1V301M522.4 308.1V310.6M525.8 316.8V318.9M529.2 318.7V321.6M532.7 320.6V323.3M536.1 324.2V326.2M539.6 321.5V323.5M543.1 320V322.5M546.6 319.4V322.1M550.2 318.3V322.1M553.7 318.3V320.4M557.3 316.5V320.2M560.9 317.8V319.8M564.5 317.5V319.9M568.1 315.8V319M571.8 313.6V317.7M575.5 309.5V313.4M579.1 305.6V308.6M582.8 298.9V303.4M586.6 295.2V297.2M590.3 287.9V291M595 278.8V283.3M597.8 285V288.2M601.6 301V304.3M605.5 317.6V321.1M609.3 326.7V329.2M613.1 326.6V329.9M617 327.1V332.1M620.9 330V332.3M624.8 328.2V330.2M628.8 319.8V324.2M634.7 329.1V333.1M636.7 328.5V330.9M640.7 327.2V331M644.7 332.2V336.5M648.7 330.6V332.6M652.8 331.6V334M656.9 335.7V339.1M661 335.6V338.4M665.1 332V334.8M669.2 330.6V334.5M673.4 328.2V330.9M678.4 330.1V334.7M681.8 330.6V332.6M686 332.9V337.2M690.2 341.2V343.5M694.5 334.7V338.2M698.8 335.5V339.8M703.1 339.3V342.3M707.4 338.7V340.7M711.8 338.9V342M716.1 339.8V343.4M720.5 343.8V345.8M724.9 340.2V344.1M729.4 342.6V346.4M733.9 345.8V348.5M738.3 342.1V344.9M742.8 345.7V347.7M747.4 339.8V342.4M751.9 336.3V338.3M756.5 327.8V329.8M760.1 324.3V329M765.7 332.4V334.9M770.4 332.6V335.7M775 330.4V332.6M779.7 330.7V334.4M784.4 323.7V327.2M789.2 325.7V328.8M794 327.4V329.4M798.7 315.3V317.7M803.6 307.4V310.9M808 301.8V305.3M813.3 292.3V294.3M818.1 311.4V314.5M823.1 307.7V311.1M828 316.4V319.9M832.9 307.4V310.8M837.9 287.4V291.3M842.9 265.5V268M846 257.4V260.4M853 284.3V286.5M858.1 298.2V300.8M863.2 297.6V299.6M868.4 320.7V324.8M873.5 326.1V328.1M878.7 326.4V328.4M883.9 328.7V331.4M889.2 323V325M894.5 329.6V333.2M899.8 329.9V332.8M905.1 322.2V324.4M910.4 328.8V332.5M915.8 330.7V332.7M921.2 337.9V340.3M926.6 340.2V343.8M932.1 332.4V336.7M937.6 327.1V329.1M943 310.7V313.5M948.6 319.2V322.2M954.2 326.7V329.1" stroke="#8a8a8a" stroke-opacity="0.85" stroke-width="2.5" fill="none"/>
<path d="M149.1 352.3a3.5 3.5 0 1 0 7 0a3.5 3.5 0 1 0 -7 0M150.6 351.7a3.5 3.5 0 1 0 7 0a3.5 3.5 0 1 0 -7 0M152.2 351.3a3.5 3.5 0 1 0 7 0a3.5 3.5 0 1 0 -7 0M153.8 350.8a3.5 3.5 0 1 0 7 0a3.5 3.5 0 1 0 -7 0M155.3 349.7a3.5 3.5 0 1 0 7 0a3.5 3.5 0 1 0 -7 0M156.9 344.3a3.5 3.5 0 1 0 7 0a3.5 3.5 0 1 0 -7 0M158.5 350a3.5 3.5 0 1 0 7 0a3.5 3.5 0 1 0 -7 0M160.1 351.3a3.5 3.5 0 1 0 7 0a3.5 3.5 0 1 0 -7 0M161.7 357.2a3.5 3.5 0 1 0 7 0a3.5 3.5 0 1 0 -7 0M163.3 358.1a3.5 3.5 0 1 0 7 0a3.5 3.5 0 1 0 -7 0M164.9 358.9a3.5 3.5 0 1 0 7 0a3.5 3.5 0 1 0 -7 0M166.6 355.7a3.5 3.5 0 1 0 7 0a3.5 3.5 0 1 0 -7 0M168.2 351.7a3.5 3.5 0 1 0 7 0a3.5 3.5 0 1 0 -7 0M169.9 352.7a3.5 3.5 0 1 0 7 0a3.5 3.5 0 1 0 -7 0M171.5 348.7a3.5 3.5 0 1 0 7 0a3.5 3.5 0 1 0 -7 0M173.2 345a3.5 3.5 0 1 0 7 0a3.5 3.5 0 1 0 -7 0M174.8 350.4a3.5 3.5 0 1 0 7 0a3.5 3.5 0 1 0 -7 0M176.5 353.2a3.5 3.5 0 1 0 7 0a3.5 3.5 0 1 0 -7 0M178.2 344.4a3.5 3.5 0 1 0 7 0a3.5 3.5 0 1 0 -7 0M179.9 351.9a3.5 3.5 0 1 0 7 0a3.5 3.5 0 1 0 -7 0M181.6 357.3a3.5 3.5 0 1 0 7 0a3.5 3.5 0 1 0 -7 0M183.3 348.8a3.5 3.5 0 1 0 7 0a3.5 3.5 0 1 0 -7 0M185 348.4a3.5 3.5 0 1 0 7 0a3.5 3.5 0 1 0 -7 0M186.8 348.6a3.5 3.5 0 1 0 7 0a3.5 3.5 0 1 0 -7 0M188.5 348.4a3.5 3.5 0 1 0 7 0a3.5 3.5 0 1 0 -7 0M190.3 353.6a3.5 3.5 0 1 0 7 0a3.5 3.5 0 1 0 -7 0M192 357.5a3.5 3.5 0 1 0 7 0a3.5 3.5 0 1 0 -7 0M193.8 343.9a3.5 3.5 0 1 0 7 0a3.5 3.5 0 1 0 -7 0M195.6 340.8a3.5 3.5 0 1 0 7 0a3.5 3.5 0 1 0 -7 0M197.3 336.2a3.5 3.5 0 1 0 7 0a3.5 3.5 0 1 0 -7 0M199.1 336.7a3.5 3.5 0 1 0 7 0a3.5 3.5 0 1 0 -7 0M200.9 331.8a3.5 3.5 0 1 0 7 0a3.5 3.5 0 1 0 -7 0M202.7 324.9a3.5 3.5 0 1 0 7 0a3.5 3.5 0 1 0 -7 0M204.6 314.6a3.5 3.5 0 1 0 7 0a3.5 3.5 0 1 0 -7 0M206.5 305.1a3.5 3.5 0 1 0 7 0a3.5 3.5 0 1 0 -7 0M208.2 309.4a3.5 3.5 0 1 0 7 0a3.5 3.5 0 1 0 -7 0M210.1 318.3a3.5 3.5 0 1 0 7 0a3.5 3.5 0 1 0 -7 0M211.9 329.8a3.5 3.5 0 1 0 7 0a3.5 3.5 0 1 0 -7 0M213.8 330.3a3.5 3.5 0 1 0 7 0a3.5 3.5 0 1 0 -7 0M215.7 338.2a3.5 3.5 0 1 0 7 0a3.5 3.5 0 1 0 -7 0M217.6 343a3.5 3.5 0 1 0 7 0a3.5 3.5 0 1 0 -7 0M219.5 346.6a3.5 3.5 0 1 0 7 0a3.5 3.5 0 1 0 -7 0M221.4 354.7a3.5 3.5 0 1 0 7 0a3.5 3.5 0 1 0 -7 0M223.3 346.6a3.5 3.5 0 1 0 7 0a3.5 3.5 0 1 0 -7 0M225.2 346.3a3.5 3.5 0 1 0 7 0a3.5 3.5 0 1 0 -7 0M227.1 355a3.5 3.5 0 1 0 7 0a3.5 3.5 0 1 0 -7 0M229.1 338.6a3.5 3.5 0 1 0 7 0a3.5 3.5 0 1 0 -7 0M231 346.4a3.5 3.5 0 1 0 7 0a3.5 3.5 0 1 0 -7 0M233 342.2a3.5 3.5 0 1 0 7 0a3.5 3.5 0 1 0 -7 0M235 347.9a3.5 3.5 0 1 0 7 0a3.5 3.5 0 1 0 -7 0M237 345.2a3.5 3.5 0 1 0 7 0a3.5 3.5 0 1 0 -7 0M238.9 350.2a3.5 3.5 0 1 0 7 0a3.5 3.5 0 1 0 -7 0M241 353.2a3.5 3.5 0 1 0 7 0a3.5 3.5 0 1 0 -7 0M243 347.6a3.5 3.5 0 1 0 7 0a3.5 3.5 0 1 0 -7 0M245 349.3a3.5 3.5 0 1 0 7 0a3.5 3.5 0 1 0 -7 0M247 343.8a3.5 3.5 0 1 0 7 0a3.5 3.5 0 1 0 -7 0M249.1 345.5a3.5 3.5 0 1 0 7 0a3.5 3.5 0 1 0 -7 0M250.5 337.9a3.5 3.5 0 1 0 7 0a3.5 3.5 0 1 0 -7 0M253.2 353.6a3.5 3.5 0 1 0 7 0a3.5 3.5 0 1 0 -7 0M255.3 354.7a3.5 3.5 0 1 0 7 0a3.5 3.5 0 1 0 -7 0M257.3 350.7a3.5 3.5 0 1 0 7 0a3.5 3.5 0 1 0 -7 0M259.4 345.1a3.5 3.5 0 1 0 7 0a3.5 3.5 0 1 0 -7 0M261.5 348.1a3.5 3.5 0 1 0 7 0a3.5 3.5 0 1 0 -7 0M263.7 352.6a3.5 3.5 0 1 0 7 0a3.5 3.5 0 1 0 -7 0M265.8 346.6a3.5 3.5 0 1 0 7 0a3.5 3.5 0 1 0 -7 0M267.9 338a3.5 3.5 0 1 0 7 0a3.5 3.5 0 1 0 -7 0M270.1 341.5a3.5 3.5 0 1 0 7 0a3.5 3.5 0 1 0 -7 0M272.2 335.1a3.5 3.5 0 1 0 7 0a3.5 3.5 0 1 0 -7 0M274.4 330.3a3.5 3.5 0 1 0 7 0a3.5 3.5 0 1 0 -7 0M276.6 325.2a3.5 3.5 0 1 0 7 0a3.5 3.5 0 1 0 -7 0M278.8 316.6a3.5 3.5 0 1 0 7 0a3.5 3.5 0 1 0 -7 0M281 311.5a3.5 3.5 0 1 0 7 0a3.5 3.5 0 1 0 -7 0M283.2 305.2a3.5 3.5 0 1 0 7 0a3.5 3.5 0 1 0 -7 0M285.4 298.9a3.5 3.5 0 1 0 7 0a3.5 3.5 0 1 0 -7 0M287.7 292.1a3.5 3.5 0 1 0 7 0a3.5 3.5 0 1 0 -7 0M290.1 290.2a3.5 3.5 0 1 0 7 0a3.5 3.5 0 1 0 -7 0M292.2 290.3a3.5 3.5 0 1 0 7 0a3.5 3.5 0 1 0 -7 0M294.5 292.1a3.5 3.5 0 1 0 7 0a3.5 3.5 0 1 0 -7 0M296.7 293.7a3.5 3.5 0 1 0 7 0a3.5 3.5 0 1 0 -7 0M299 294.7a3.5 3.5 0 1 0 7 0a3.5 3.5 0 1 0 -7 0M301.3 299.8a3.5 3.5 0 1 0 7 0a3.5 3.5 0 1 0 -7 0M303.7 302.4a3.5 3.5 0 1 0 7 0a3.5 3.5 0 1 0 -7 0M306 304.2a3.5 3.5 0 1 0 7 0a3.5 3.5 0 1 0 -7 0M308.3 307.3a3.5 3.5 0 1 0 7 0a3.5 3.5 0 1 0 -7 0M310.7 313.3a3.5 3.5 0 1 0 7 0a3.5 3.5 0 1 0 -7 0M313 317.8a3.5 3.5 0 1 0 7 0a3.5 3.5 0 1 0 -7 0M315.4 323.2a3.5 3.5 0 1 0 7 0a3.5 3.5 0 1 0 -7 0M317.8 328a3.5 3.5 0 1 0 7 0a3.5 3.5 0 1 0 -7 0M320.2 328.5a3.5 3.5 0 1 0 7 0a3.5 3.5 0 1 0 -7 0M322.6 327.7a3.5 3.5 0 1 0 7 0a3.5 3.5 0 1 0 -7 0M325.1 329.1a3.5 3.5 0 1 0 7 0a3.5 3.5 0 1 0 -7 0M327.5 327.9a3.5 3.5 0 1 0 7 0a3.5 3.5 0 1 0 -7 0M329.9 331a3.5 3.5 0 1 0 7 0a3.5 3.5 0 1 0 -7 0M332.4 328.7a3.5 3.5 0 1 0 7 0a3.5 3.5 0 1 0 -7 0M334.9 325.9a3.5 3.5 0 1 0 7 0a3.5 3.5 0 1 0 -7 0M337.4 323.5a3.5 3.5 0 1 0 7 0a3.5 3.5 0 1 0 -7 0M339.9 323.8a3.5 3.5 0 1 0 7 0a3.5 3.5 0 1 0 -7 0M342.4 319.3a3.5 3.5 0 1 0 7 0a3.5 3.5 0 1 0 -7 0M344.9 317.6a3.5 3.5 0 1 0 7 0a3.5 3.5 0 1 0 -7 0M346.5 317a3.5 3.5 0 1 0 7 0a3.5 3.5 0 1 0 -7 0M350 321.1a3.5 3.5 0 1 0 7 0a3.5 3.5 0 1 0 -7 0M352.6 327.2a3.5 3.5 0 1 0 7 0a3.5 3.5 0 1 0 -7 0M355.1 337.3a3.5 3.5 0 1 0 7 0a3.5 3.5 0 1 0 -7 0M357.7 340.2a3.5 3.5 0 1 0 7 0a3.5 3.5 0 1 0 -7 0M360.3 343.2a3.5 3.5 0 1 0 7 0a3.5 3.5 0 1 0 -7 0M362.9 345.6a3.5 3.5 0 1 0 7 0a3.5 3.5 0 1 0 -7 0M365.6 349.1a3.5 3.5 0 1 0 7 0a3.5 3.5 0 1 0 -7 0M368.2 347.1a3.5 3.5 0 1 0 7 0a3.5 3.5 0 1 0 -7 0M370.9 349.5a3.5 3.5 0 1 0 7 0a3.5 3.5 0 1 0 -7 0M373.5 350.9a3.5 3.5 0 1 0 7 0a3.5 3.5 0 1 0 -7 0M376.2 352.1a3.5 3.5 0 1 0 7 0a3.5 3.5 0 1 0 -7 0M378.9 352.1a3.5 3.5 0 1 0 7 0a3.5 3.5 0 1 0 -7 0M381.6 348.6a3.5 3.5 0 1 0 7 0a3.5 3.5 0 1 0 -7 0M384.4 347.5a3.5 3.5 0 1 0 7 0a3.5 3.5 0 1 0 -7 0M387.1 348.1a3.5 3.5 0 1 0 7 0a3.5 3.5 0 1 0 -7 0M389.8 350.9a3.5 3.5 0 1 0 7 0a3.5 3.5 0 1 0 -7 0M392.6 350.2a3.5 3.5 0 1 0 7 0a3.5 3.5 0 1 0 -7 0M395.4 349.2a3.5 3.5 0 1 0 7 0a3.5 3.5 0 1 0 -7 0M398.2 349.5a3.5 3.5 0 1 0 7 0a3.5 3.5 0 1 0 -7 0M401 348.9a3.5 3.5 0 1 0 7 0a3.5 3.5 0 1 0 -7 0M403.8 345.8a3.5 3.5 0 1 0 7 0a3.5 3.5 0 1 0 -7 0M406.6 345.9a3.5 3.5 0 1 0 7 0a3.5 3.5 0 1 0 -7 0M409.5 343.8a3.5 3.5 0 1 0 7 0a3.5 3.5 0 1 0 -7 0M412.4 345.1a3.5 3.5 0 1 0 7 0a3.5 3.5 0 1 0 -7 0M415.2 349.4a3.5 3.5 0 1 0 7 0a3.5 3.5 0 1 0 -7 0M418.1 349.7a3.5 3.5 0 1 0 7 0a3.5 3.5 0 1 0 -7 0M421 346.6a3.5 3.5 0 1 0 7 0a3.5 3.5 0 1 0 -7 0M424 349.4a3.5 3.5 0 1 0 7 0a3.5 3.5 0 1 0 -7 0M426.9 348.7a3.5 3.5 0 1 0 7 0a3.5 3.5 0 1 0 -7 0M429.8 348.6a3.5 3.5 0 1 0 7 0a3.5 3.5 0 1 0 -7 0M432.8 347a3.5 3.5 0 1 0 7 0a3.5 3.5 0 1 0 -7 0M435.8 349.8a3.5 3.5 0 1 0 7 0a3.5 3.5 0 1 0 -7 0M438.8 350.8a3.5 3.5 0 1 0 7 0a3.5 3.5 0 1 0 -7 0M441.8 348a3.5 3.5 0 1 0 7 0a3.5 3.5 0 1 0 -7 0M444.8 349.8a3.5 3.5 0 1 0 7 0a3.5 3.5 0 1 0 -7 0M447.9 347.6a3.5 3.5 0 1 0 7 0a3.5 3.5 0 1 0 -7 0M450.9 346.5a3.5 3.5 0 1 0 7 0a3.5 3.5 0 1 0 -7 0M454 344.9a3.5 3.5 0 1 0 7 0a3.5 3.5 0 1 0 -7 0M457.1 346.1a3.5 3.5 0 1 0 7 0a3.5 3.5 0 1 0 -7 0M460.2 343.7a3.5 3.5 0 1 0 7 0a3.5 3.5 0 1 0 -7 0M463.3 341.3a3.5 3.5 0 1 0 7 0a3.5 3.5 0 1 0 -7 0M466.5 339.8a3.5 3.5 0 1 0 7 0a3.5 3.5 0 1 0 -7 0M469.6 337.3a3.5 3.5 0 1 0 7 0a3.5 3.5 0 1 0 -7 0M472.8 337.2a3.5 3.5 0 1 0 7 0a3.5 3.5 0 1 0 -7 0M476 337.9a3.5 3.5 0 1 0 7 0a3.5 3.5 0 1 0 -7 0M479.2 335.2a3.5 3.5 0 1 0 7 0a3.5 3.5 0 1 0 -7 0M482.4 333.6a3.5 3.5 0 1 0 7 0a3.5 3.5 0 1 0 -7 0M485.6 330.6a3.5 3.5 0 1 0 7 0a3.5 3.5 0 1 0 -7 0M488.9 320.9a3.5 3.5 0 1 0 7 0a3.5 3.5 0 1 0 -7 0M492.1 301.5a3.5 3.5 0 1 0 7 0a3.5 3.5 0 1 0 -7 0M495.4 268.6a3.5 3.5 0 1 0 7 0a3.5 3.5 0 1 0 -7 0M498.7 224a3.5 3.5 0 1 0 7 0a3.5 3.5 0 1 0 -7 0M500.7 208a3.5 3.5 0 1 0 7 0a3.5 3.5 0 1 0 -7 0M505.4 232.2a3.5 3.5 0 1 0 7 0a3.5 3.5 0 1 0 -7 0M508.7 258.8a3.5 3.5 0 1 0 7 0a3.5 3.5 0 1 0 -7 0M512.1 283.3a3.5 3.5 0 1 0 7 0a3.5 3.5 0 1 0 -7 0M515.5 299.5a3.5 3.5 0 1 0 7 0a3.5 3.5 0 1 0 -7 0M518.9 309.3a3.5 3.5 0 1 0 7 0a3.5 3.5 0 1 0 -7 0M522.3 317.9a3.5 3.5 0 1 0 7 0a3.5 3.5 0 1 0 -7 0M525.7 320.2a3.5 3.5 0 1 0 7 0a3.5 3.5 0 1 0 -7 0M529.2 321.9a3.5 3.5 0 1 0 7 0a3.5 3.5 0 1 0 -7 0M532.6 325.2a3.5 3.5 0 1 0 7 0a3.5 3.5 0 1 0 -7 0M536.1 322.5a3.5 3.5 0 1 0 7 0a3.5 3.5 0 1 0 -7 0M539.6 321.2a3.5 3.5 0 1 0 7 0a3.5 3.5 0 1 0 -7 0M543.1 320.8a3.5 3.5 0 1 0 7 0a3.5 3.5 0 1 0 -7 0M546.7 320.2a3.5 3.5 0 1 0 7 0a3.5 3.5 0 1 0 -7 0M550.2 319.4a3.5 3.5 0 1 0 7 0a3.5 3.5 0 1 0 -7 0M553.8 318.3a3.5 3.5 0 1 0 7 0a3.5 3.5 0 1 0 -7 0M557.4 318.8a3.5 3.5 0 1 0 7 0a3.5 3.5 0 1 0 -7 0M561 318.7a3.5 3.5 0 1 0 7 0a3.5 3.5 0 1 0 -7 0M564.6 317.4a3.5 3.5 0 1 0 7 0a3.5 3.5 0 1 0 -7 0M568.3 315.6a3.5 3.5 0 1 0 7 0a3.5 3.5 0 1 0 -7 0M572 311.4a3.5 3.5 0 1 0 7 0a3.5 3.5 0 1 0 -7 0M575.6 307.1a3.5 3.5 0 1 0 7 0a3.5 3.5 0 1 0 -7 0M579.3 301.2a3.5 3.5 0 1 0 7 0a3.5 3.5 0 1 0 -7 0M583.1 296.2a3.5 3.5 0 1 0 7 0a3.5 3.5 0 1 0 -7 0M586.8 289.5a3.5 3.5 0 1 0 7 0a3.5 3.5 0 1 0 -7 0M591.5 281a3.5 3.5 0 1 0 7 0a3.5 3.5 0 1 0 -7 0M594.3 286.6a3.5 3.5 0 1 0 7 0a3.5 3.5 0 1 0 -7 0M598.1 302.6a3.5 3.5 0 1 0 7 0a3.5 3.5 0 1 0 -7 0M602 319.4a3.5 3.5 0 1 0 7 0a3.5 3.5 0 1 0 -7 0M605.8 328a3.5 3.5 0 1 0 7 0a3.5 3.5 0 1 0 -7 0M609.6 328.2a3.5 3.5 0 1 0 7 0a3.5 3.5 0 1 0 -7 0M613.5 329.6a3.5 3.5 0 1 0 7 0a3.5 3.5 0 1 0 -7 0M617.4 331.1a3.5 3.5 0 1 0 7 0a3.5 3.5 0 1 0 -7 0M621.3 329.2a3.5 3.5 0 1 0 7 0a3.5 3.5 0 1 0 -7 0M625.3 322a3.5 3.5 0 1 0 7 0a3.5 3.5 0 1 0 -7 0M631.2 331.1a3.5 3.5 0 1 0 7 0a3.5 3.5 0 1 0 -7 0M633.2 329.7a3.5 3.5 0 1 0 7 0a3.5 3.5 0 1 0 -7 0M637.2 329.1a3.5 3.5 0 1 0 7 0a3.5 3.5 0 1 0 -7 0M641.2 334.3a3.5 3.5 0 1 0 7 0a3.5 3.5 0 1 0 -7 0M645.2 331.6a3.5 3.5 0 1 0 7 0a3.5 3.5 0 1 0 -7 0M649.3 332.8a3.5 3.5 0 1 0 7 0a3.5 3.5 0 1 0 -7 0M653.4 337.4a3.5 3.5 0 1 0 7 0a3.5 3.5 0 1 0 -7 0M657.5 337a3.5 3.5 0 1 0 7 0a3.5 3.5 0 1 0 -7 0M661.6 333.4a3.5 3.5 0 1 0 7 0a3.5 3.5 0 1 0 -7 0M665.7 332.6a3.5 3.5 0 1 0 7 0a3.5 3.5 0 1 0 -7 0M669.9 329.6a3.5 3.5 0 1 0 7 0a3.5 3.5 0 1 0 -7 0M674.9 332.4a3.5 3.5 0 1 0 7 0a3.5 3.5 0 1 0 -7 0M678.3 331.6a3.5 3.5 0 1 0 7 0a3.5 3.5 0 1 0 -7 0M682.5 335.1a3.5 3.5 0 1 0 7 0a3.5 3.5 0 1 0 -7 0M686.7 342.3a3.5 3.5 0 1 0 7 0a3.5 3.5 0 1 0 -7 0M691 336.5a3.5 3.5 0 1 0 7 0a3.5 3.5 0 1 0 -7 0M695.3 337.7a3.5 3.5 0 1 0 7 0a3.5 3.5 0 1 0 -7 0M699.6 340.8a3.5 3.5 0 1 0 7 0a3.5 3.5 0 1 0 -7 0M703.9 339.7a3.5 3.5 0 1 0 7 0a3.5 3.5 0 1 0 -7 0M708.3 340.5a3.5 3.5 0 1 0 7 0a3.5 3.5 0 1 0 -7 0M712.6 341.6a3.5 3.5 0 1 0 7 0a3.5 3.5 0 1 0 -7 0M717 344.8a3.5 3.5 0 1 0 7 0a3.5 3.5 0 1 0 -7 0M721.4 342.2a3.5 3.5 0 1 0 7 0a3.5 3.5 0 1 0 -7 0M725.9 344.5a3.5 3.5 0 1 0 7 0a3.5 3.5 0 1 0 -7 0M730.4 347.2a3.5 3.5 0 1 0 7 0a3.5 3.5 0 1 0 -7 0M734.8 343.5a3.5 3.5 0 1 0 7 0a3.5 3.5 0 1 0 -7 0M739.3 346.7a3.5 3.5 0 1 0 7 0a3.5 3.5 0 1 0 -7 0M743.9 341.1a3.5 3.5 0 1 0 7 0a3.5 3.5 0 1 0 -7 0M748.4 337.3a3.5 3.5 0 1 0 7 0a3.5 3.5 0 1 0 -7 0M753 328.8a3.5 3.5 0 1 0 7 0a3.5 3.5 0 1 0 -7 0M756.6 326.7a3.5 3.5 0 1 0 7 0a3.5 3.5 0 1 0 -7 0M762.2 333.6a3.5 3.5 0 1 0 7 0a3.5 3.5 0 1 0 -7 0M766.9 334.2a3.5 3.5 0 1 0 7 0a3.5 3.5 0 1 0 -7 0M771.5 331.5a3.5 3.5 0 1 0 7 0a3.5 3.5 0 1 0 -7 0M776.2 332.5a3.5 3.5 0 1 0 7 0a3.5 3.5 0 1 0 -7 0M780.9 325.4a3.5 3.5 0 1 0 7 0a3.5 3.5 0 1 0 -7 0M785.7 327.2a3.5 3.5 0 1 0 7 0a3.5 3.5 0 1 0 -7 0M790.5 328.4a3.5 3.5 0 1 0 7 0a3.5 3.5 0 1 0 -7 0M795.2 316.5a3.5 3.5 0 1 0 7 0a3.5 3.5 0 1 0 -7 0M800.1 309.2a3.5 3.5 0 1 0 7 0a3.5 3.5 0 1 0 -7 0M804.5 303.5a3.5 3.5 0 1 0 7 0a3.5 3.5 0 1 0 -7 0M809.8 293.3a3.5 3.5 0 1 0 7 0a3.5 3.5 0 1 0 -7 0M814.6 313a3.5 3.5 0 1 0 7 0a3.5 3.5 0 1 0 -7 0M819.6 309.4a3.5 3.5 0 1 0 7 0a3.5 3.5 0 1 0 -7 0M824.5 318.2a3.5 3.5 0 1 0 7 0a3.5 3.5 0 1 0 -7 0M829.4 309.1a3.5 3.5 0 1 0 7 0a3.5 3.5 0 1 0 -7 0M834.4 289.3a3.5 3.5 0 1 0 7 0a3.5 3.5 0 1 0 -7 0M839.4 266.8a3.5 3.5 0 1 0 7 0a3.5 3.5 0 1 0 -7 0M842.5 258.9a3.5 3.5 0 1 0 7 0a3.5 3.5 0 1 0 -7 0M849.5 285.4a3.5 3.5 0 1 0 7 0a3.5 3.5 0 1 0 -7 0M854.6 299.5a3.5 3.5 0 1 0 7 0a3.5 3.5 0 1 0 -7 0M859.7 298.6a3.5 3.5 0 1 0 7 0a3.5 3.5 0 1 0 -7 0M864.9 322.7a3.5 3.5 0 1 0 7 0a3.5 3.5 0 1 0 -7 0M870 327.1a3.5 3.5 0 1 0 7 0a3.5 3.5 0 1 0 -7 0M875.2 327.4a3.5 3.5 0 1 0 7 0a3.5 3.5 0 1 0 -7 0M880.4 330.1a3.5 3.5 0 1 0 7 0a3.5 3.5 0 1 0 -7 0M885.7 324a3.5 3.5 0 1 0 7 0a3.5 3.5 0 1 0 -7 0M891 331.4a3.5 3.5 0 1 0 7 0a3.5 3.5 0 1 0 -7 0M896.3 331.4a3.5 3.5 0 1 0 7 0a3.5 3.5 0 1 0 -7 0M901.6 323.3a3.5 3.5 0 1 0 7 0a3.5 3.5 0 1 0 -7 0M906.9 330.6a3.5 3.5 0 1 0 7 0a3.5 3.5 0 1 0 -7 0M912.3 331.7a3.5 3.5 0 1 0 7 0a3.5 3.5 0 1 0 -7 0M917.7 339.1a3.5 3.5 0 1 0 7 0a3.5 3.5 0 1 0 -7 0M923.1 342a3.5 3.5 0 1 0 7 0a3.5 3.5 0 1 0 -7 0M928.6 334.5a3.5 3.5 0 1 0 7 0a3.5 3.5 0 1 0 -7 0M934.1 328.1a3.5 3.5 0 1 0 7 0a3.5 3.5 0 1 0 -7 0M939.5 312.1a3.5 3.5 0 1 0 7 0a3.5 3.5 0 1 0 -7 0M945.1 320.7a3.5 3.5 0 1 0 7 0a3.5 3.5 0 1 0 -7 0M950.7 327.9a3.5 3.5 0 1 0 7 0a3.5 3.5 0 1 0 -7 0" fill="#080808"/>
<path d="M152 353 L152.6 353 L154.1 353 L155.7 353 L157.3 353 L158.8 353 L160.4 353 L162 353 L163.6 353 L165.2 353 L166.8 353 L168.4 352.8 L170.1 352.5 L171.7 352.1 L173.4 351.7 L175 351.3 L176.7 350.9 L178.3 350.7 L180 350.6 L181.7 350.6 L183.4 350.7 L185.1 350.8 L186.8 350.9 L188.5 351 L190 351 L192 350.7 L193.8 350 L195.5 349 L197.3 347.6 L199.1 345.5 L200.8 341.2 L202.6 336.2 L204.4 330 L206.2 322.9 L208.1 312.6 L210 306 L211.7 310.6 L213.6 318.4 L215.4 327.7 L217.3 336.1 L219.2 340.3 L221.1 343.4 L223 345.4 L224.9 346.3 L226.8 346.9 L228.7 347.3 L230.6 347.7 L232.6 347.9 L234.5 348 L236.5 348.1 L238.5 348.2 L240.5 348.3 L242.4 348.3 L244.5 348.4 L246.5 348.4 L248 348.4 L250.5 346.6 L252.6 341.8 L254 339 L257 347 L258.8 346.8 L260.8 346.3 L262.9 345.7 L265 344.7 L267.2 343.3 L269.3 341.6 L271.4 339.6 L273.6 337.1 L275.7 333.9 L277.9 330.2 L280.1 325.3 L282.3 319.1 L284.5 312.5 L286.7 304.4 L288.9 296.7 L291.2 291.5 L293.6 288.4 L295.7 289.8 L298 292.4 L300.2 293.8 L302.5 295.1 L304.8 296.8 L307.2 299.9 L309.5 304.1 L311.8 308.3 L314.2 312.9 L316.5 317.2 L318.9 321.5 L321.3 325.5 L323.7 327.3 L326.1 328.1 L328.6 328.7 L332 329 L333.4 328.8 L335.9 327.8 L338.4 326.2 L340.9 324.6 L343.4 322.6 L345.9 320.2 L348.4 318.4 L350 318 L353.5 320.3 L356.1 325.5 L358.6 334.3 L361.2 338 L363.8 340.8 L366.4 343 L369.1 344.6 L371.7 345.8 L374.4 346.8 L377 347.8 L379.7 348.6 L382.4 349.3 L385.1 349.7 L389 350 L390.6 350 L393.3 349.7 L396.1 349.3 L398.9 348.8 L401.7 348.1 L404.5 347.3 L407.3 345.9 L410.1 343.4 L413 342 L415.9 344.9 L418.7 348.4 L421.6 348.7 L424.5 349 L427.5 349.1 L430.4 349.2 L433.3 349.3 L436.3 349.4 L440 349.4 L442.3 349.3 L445.3 348.9 L448.3 348.3 L451.4 347.5 L454.4 346.6 L457.5 345.7 L460.6 344.5 L463.7 342.9 L466.8 341.1 L470 339.5 L473.1 338.3 L476.3 337.2 L479.5 336 L482.7 334.5 L485.9 332.2 L489.1 328.1 L492.4 318.6 L495.6 301.2 L498.9 269.2 L502.2 225 L504.2 207.5 L508.9 232.1 L512.2 258.9 L515.6 282.9 L519 299.8 L522.4 311 L525.8 315.9 L529.2 318.9 L532.7 320.8 L536 321.5 L539.6 321.1 L543.1 320.3 L546.6 319.6 L550.2 319.2 L553.7 319 L557.3 318.8 L560.9 318.4 L564.5 317.4 L568.1 315.9 L571.8 313.1 L575.5 308.3 L579.1 303.7 L582.8 299.6 L586.6 295.1 L590.3 288.3 L595 282 L597.8 287.2 L601.6 304.3 L605.5 319.2 L609.3 326.2 L613.1 328.1 L617 329 L621.4 329.3 L624.8 328.8 L628.8 327.7 L634.7 326.5 L636.7 326.7 L640.7 328 L644.7 329.9 L648.7 331.5 L652.8 333.1 L656.9 334.6 L661.3 335.4 L665.1 334.5 L669.2 332.3 L673.4 329.9 L678.4 328.5 L681.8 329.9 L686 333.8 L690.2 336.7 L694.5 338.3 L698.8 339.7 L703.1 340.7 L707.4 341.3 L711.8 341.3 L716.1 341.3 L720.5 341.3 L724.9 341.3 L729.4 341.3 L733.9 341.1 L738.3 340.6 L742.8 339.8 L747.4 338.5 L751.9 330.7 L756.5 327.3 L760.1 327 L765.8 334 L770.4 332.9 L775 331 L779.7 329.8 L784.4 329.2 L789.2 328.2 L794 325.5 L798.7 320.8 L803.6 311.1 L808 297.5 L813.3 297.9 L818.1 303.8 L823.1 306.3 L825.2 306.4 L828 305.8 L832.9 301.8 L837.9 288.7 L842.9 265.6 L846 258.9 L853 288.2 L858.1 299.7 L863.2 301.3 L868.4 307.1 L873.5 314.7 L878.7 318.4 L883.9 320.7 L889.2 322.9 L894.5 325.2 L899.8 327.4 L905.1 329.1 L910.4 330.7 L915.8 332.1 L921.2 333 L926.6 333.5 L930.6 333.6 L932.1 333.3 L937.6 328.8 L943 312.1 L948.6 321.6 L954.2 327.5 L959.1 328.8" stroke="#ff0000" stroke-width="1.6" fill="none" stroke-linejoin="round"/>
<path d="M149.1 496.9a3.5 3.5 0 1 0 7 0a3.5 3.5 0 1 0 -7 0M150.6 497.4a3.5 3.5 0 1 0 7 0a3.5 3.5 0 1 0 -7 0M152.2 498.4a3.5 3.5 0 1 0 7 0a3.5 3.5 0 1 0 -7 0M153.8 497.8a3.5 3.5 0 1 0 7 0a3.5 3.5 0 1 0 -7 0M155.3 496a3.5 3.5 0 1 0 7 0a3.5 3.5 0 1 0 -7 0M156.9 497.1a3.5 3.5 0 1 0 7 0a3.5 3.5 0 1 0 -7 0M158.5 497.2a3.5 3.5 0 1 0 7 0a3.5 3.5 0 1 0 -7 0M160.1 500.4a3.5 3.5 0 1 0 7 0a3.5 3.5 0 1 0 -7 0M162.5 495.6a3.5 3.5 0 1 0 7 0a3.5 3.5 0 1 0 -7 0M163.3 497.8a3.5 3.5 0 1 0 7 0a3.5 3.5 0 1 0 -7 0M164.9 495.6a3.5 3.5 0 1 0 7 0a3.5 3.5 0 1 0 -7 0M166.6 500.3a3.5 3.5 0 1 0 7 0a3.5 3.5 0 1 0 -7 0M168.2 499.3a3.5 3.5 0 1 0 7 0a3.5 3.5 0 1 0 -7 0M169.9 495.9a3.5 3.5 0 1 0 7 0a3.5 3.5 0 1 0 -7 0M171.5 495.4a3.5 3.5 0 1 0 7 0a3.5 3.5 0 1 0 -7 0M173.2 494.8a3.5 3.5 0 1 0 7 0a3.5 3.5 0 1 0 -7 0M174.8 497.7a3.5 3.5 0 1 0 7 0a3.5 3.5 0 1 0 -7 0M176.5 490.9a3.5 3.5 0 1 0 7 0a3.5 3.5 0 1 0 -7 0M178.2 493.5a3.5 3.5 0 1 0 7 0a3.5 3.5 0 1 0 -7 0M179.9 491.9a3.5 3.5 0 1 0 7 0a3.5 3.5 0 1 0 -7 0M181.6 489.5a3.5 3.5 0 1 0 7 0a3.5 3.5 0 1 0 -7 0M183.3 495.3a3.5 3.5 0 1 0 7 0a3.5 3.5 0 1 0 -7 0M185 490.1a3.5 3.5 0 1 0 7 0a3.5 3.5 0 1 0 -7 0M186.8 493.2a3.5 3.5 0 1 0 7 0a3.5 3.5 0 1 0 -7 0M188.5 496.3a3.5 3.5 0 1 0 7 0a3.5 3.5 0 1 0 -7 0M190.3 499.7a3.5 3.5 0 1 0 7 0a3.5 3.5 0 1 0 -7 0M192 489.5a3.5 3.5 0 1 0 7 0a3.5 3.5 0 1 0 -7 0M193.8 487.8a3.5 3.5 0 1 0 7 0a3.5 3.5 0 1 0 -7 0M195.6 485.7a3.5 3.5 0 1 0 7 0a3.5 3.5 0 1 0 -7 0M197.3 484.5a3.5 3.5 0 1 0 7 0a3.5 3.5 0 1 0 -7 0M199.1 485a3.5 3.5 0 1 0 7 0a3.5 3.5 0 1 0 -7 0M200.9 478.2a3.5 3.5 0 1 0 7 0a3.5 3.5 0 1 0 -7 0M202.7 468.2a3.5 3.5 0 1 0 7 0a3.5 3.5 0 1 0 -7 0M204.6 458.2a3.5 3.5 0 1 0 7 0a3.5 3.5 0 1 0 -7 0M206.9 446.6a3.5 3.5 0 1 0 7 0a3.5 3.5 0 1 0 -7 0M208.2 449.1a3.5 3.5 0 1 0 7 0a3.5 3.5 0 1 0 -7 0M210.1 456.6a3.5 3.5 0 1 0 7 0a3.5 3.5 0 1 0 -7 0M211.9 463.5a3.5 3.5 0 1 0 7 0a3.5 3.5 0 1 0 -7 0M213.8 470.9a3.5 3.5 0 1 0 7 0a3.5 3.5 0 1 0 -7 0M215.7 475.6a3.5 3.5 0 1 0 7 0a3.5 3.5 0 1 0 -7 0M217.6 484.6a3.5 3.5 0 1 0 7 0a3.5 3.5 0 1 0 -7 0M219.5 488.3a3.5 3.5 0 1 0 7 0a3.5 3.5 0 1 0 -7 0M221.4 487.9a3.5 3.5 0 1 0 7 0a3.5 3.5 0 1 0 -7 0M223.3 485.9a3.5 3.5 0 1 0 7 0a3.5 3.5 0 1 0 -7 0M225.2 493.8a3.5 3.5 0 1 0 7 0a3.5 3.5 0 1 0 -7 0M227.1 490.6a3.5 3.5 0 1 0 7 0a3.5 3.5 0 1 0 -7 0M229.1 488.5a3.5 3.5 0 1 0 7 0a3.5 3.5 0 1 0 -7 0M231 482.5a3.5 3.5 0 1 0 7 0a3.5 3.5 0 1 0 -7 0M233 487a3.5 3.5 0 1 0 7 0a3.5 3.5 0 1 0 -7 0M235 483.5a3.5 3.5 0 1 0 7 0a3.5 3.5 0 1 0 -7 0M236.5 491.1a3.5 3.5 0 1 0 7 0a3.5 3.5 0 1 0 -7 0M238.9 485.5a3.5 3.5 0 1 0 7 0a3.5 3.5 0 1 0 -7 0M241 486.7a3.5 3.5 0 1 0 7 0a3.5 3.5 0 1 0 -7 0M243 479.7a3.5 3.5 0 1 0 7 0a3.5 3.5 0 1 0 -7 0M245 488.9a3.5 3.5 0 1 0 7 0a3.5 3.5 0 1 0 -7 0M247 484.2a3.5 3.5 0 1 0 7 0a3.5 3.5 0 1 0 -7 0M248.9 483.2a3.5 3.5 0 1 0 7 0a3.5 3.5 0 1 0 -7 0M251.1 487.9a3.5 3.5 0 1 0 7 0a3.5 3.5 0 1 0 -7 0M253.2 485.9a3.5 3.5 0 1 0 7 0a3.5 3.5 0 1 0 -7 0M255.3 485.4a3.5 3.5 0 1 0 7 0a3.5 3.5 0 1 0 -7 0M257.3 482.2a3.5 3.5 0 1 0 7 0a3.5 3.5 0 1 0 -7 0M259.4 488a3.5 3.5 0 1 0 7 0a3.5 3.5 0 1 0 -7 0M261.5 477.6a3.5 3.5 0 1 0 7 0a3.5 3.5 0 1 0 -7 0M263.7 474.4a3.5 3.5 0 1 0 7 0a3.5 3.5 0 1 0 -7 0M265.8 476.9a3.5 3.5 0 1 0 7 0a3.5 3.5 0 1 0 -7 0M267.9 472.9a3.5 3.5 0 1 0 7 0a3.5 3.5 0 1 0 -7 0M270.1 471a3.5 3.5 0 1 0 7 0a3.5 3.5 0 1 0 -7 0M272.2 467a3.5 3.5 0 1 0 7 0a3.5 3.5 0 1 0 -7 0M274.4 463.6a3.5 3.5 0 1 0 7 0a3.5 3.5 0 1 0 -7 0M276.6 457.1a3.5 3.5 0 1 0 7 0a3.5 3.5 0 1 0 -7 0M278.8 451.9a3.5 3.5 0 1 0 7 0a3.5 3.5 0 1 0 -7 0M281 445.3a3.5 3.5 0 1 0 7 0a3.5 3.5 0 1 0 -7 0M283.2 437.7a3.5 3.5 0 1 0 7 0a3.5 3.5 0 1 0 -7 0M285.4 430.3a3.5 3.5 0 1 0 7 0a3.5 3.5 0 1 0 -7 0M287.7 428.6a3.5 3.5 0 1 0 7 0a3.5 3.5 0 1 0 -7 0M290.1 423.8a3.5 3.5 0 1 0 7 0a3.5 3.5 0 1 0 -7 0M292.2 424.3a3.5 3.5 0 1 0 7 0a3.5 3.5 0 1 0 -7 0M294.5 428a3.5 3.5 0 1 0 7 0a3.5 3.5 0 1 0 -7 0M296.7 430.4a3.5 3.5 0 1 0 7 0a3.5 3.5 0 1 0 -7 0M299 433.1a3.5 3.5 0 1 0 7 0a3.5 3.5 0 1 0 -7 0M301.3 434.8a3.5 3.5 0 1 0 7 0a3.5 3.5 0 1 0 -7 0M303.7 437.9a3.5 3.5 0 1 0 7 0a3.5 3.5 0 1 0 -7 0M306 443a3.5 3.5 0 1 0 7 0a3.5 3.5 0 1 0 -7 0M308.3 448.7a3.5 3.5 0 1 0 7 0a3.5 3.5 0 1 0 -7 0M310.7 452.5a3.5 3.5 0 1 0 7 0a3.5 3.5 0 1 0 -7 0M313 458.8a3.5 3.5 0 1 0 7 0a3.5 3.5 0 1 0 -7 0M315.4 461.2a3.5 3.5 0 1 0 7 0a3.5 3.5 0 1 0 -7 0M317.8 468.7a3.5 3.5 0 1 0 7 0a3.5 3.5 0 1 0 -7 0M320.2 472.2a3.5 3.5 0 1 0 7 0a3.5 3.5 0 1 0 -7 0M322.6 468.6a3.5 3.5 0 1 0 7 0a3.5 3.5 0 1 0 -7 0M325.1 468.6a3.5 3.5 0 1 0 7 0a3.5 3.5 0 1 0 -7 0M327.5 469.5a3.5 3.5 0 1 0 7 0a3.5 3.5 0 1 0 -7 0M329.9 470.5a3.5 3.5 0 1 0 7 0a3.5 3.5 0 1 0 -7 0M332.4 470.5a3.5 3.5 0 1 0 7 0a3.5 3.5 0 1 0 -7 0M334.9 466.3a3.5 3.5 0 1 0 7 0a3.5 3.5 0 1 0 -7 0M337.4 464.6a3.5 3.5 0 1 0 7 0a3.5 3.5 0 1 0 -7 0M339.9 462.1a3.5 3.5 0 1 0 7 0a3.5 3.5 0 1 0 -7 0M342.4 457.4a3.5 3.5 0 1 0 7 0a3.5 3.5 0 1 0 -7 0M345.6 453.5a3.5 3.5 0 1 0 7 0a3.5 3.5 0 1 0 -7 0M347.4 454.6a3.5 3.5 0 1 0 7 0a3.5 3.5 0 1 0 -7 0M350 458.6a3.5 3.5 0 1 0 7 0a3.5 3.5 0 1 0 -7 0M352.6 464.4a3.5 3.5 0 1 0 7 0a3.5 3.5 0 1 0 -7 0M355.1 472.8a3.5 3.5 0 1 0 7 0a3.5 3.5 0 1 0 -7 0M357.7 475a3.5 3.5 0 1 0 7 0a3.5 3.5 0 1 0 -7 0M360.3 479.6a3.5 3.5 0 1 0 7 0a3.5 3.5 0 1 0 -7 0M362.9 482.3a3.5 3.5 0 1 0 7 0a3.5 3.5 0 1 0 -7 0M365.6 485.9a3.5 3.5 0 1 0 7 0a3.5 3.5 0 1 0 -7 0M368.2 488a3.5 3.5 0 1 0 7 0a3.5 3.5 0 1 0 -7 0M370.9 488.2a3.5 3.5 0 1 0 7 0a3.5 3.5 0 1 0 -7 0M373.5 489.1a3.5 3.5 0 1 0 7 0a3.5 3.5 0 1 0 -7 0M376.2 490.9a3.5 3.5 0 1 0 7 0a3.5 3.5 0 1 0 -7 0M378.9 494.5a3.5 3.5 0 1 0 7 0a3.5 3.5 0 1 0 -7 0M381.6 494.1a3.5 3.5 0 1 0 7 0a3.5 3.5 0 1 0 -7 0M384.4 491.3a3.5 3.5 0 1 0 7 0a3.5 3.5 0 1 0 -7 0M387.1 493.5a3.5 3.5 0 1 0 7 0a3.5 3.5 0 1 0 -7 0M389.8 494.3a3.5 3.5 0 1 0 7 0a3.5 3.5 0 1 0 -7 0M392.6 491.2a3.5 3.5 0 1 0 7 0a3.5 3.5 0 1 0 -7 0M395.4 490.6a3.5 3.5 0 1 0 7 0a3.5 3.5 0 1 0 -7 0M398.2 491.6a3.5 3.5 0 1 0 7 0a3.5 3.5 0 1 0 -7 0M401 490.4a3.5 3.5 0 1 0 7 0a3.5 3.5 0 1 0 -7 0M403.8 489.1a3.5 3.5 0 1 0 7 0a3.5 3.5 0 1 0 -7 0M406.6 489.8a3.5 3.5 0 1 0 7 0a3.5 3.5 0 1 0 -7 0M409.5 490.4a3.5 3.5 0 1 0 7 0a3.5 3.5 0 1 0 -7 0M412.4 489a3.5 3.5 0 1 0 7 0a3.5 3.5 0 1 0 -7 0M415.2 491.8a3.5 3.5 0 1 0 7 0a3.5 3.5 0 1 0 -7 0M418.1 493a3.5 3.5 0 1 0 7 0a3.5 3.5 0 1 0 -7 0M421 493.2a3.5 3.5 0 1 0 7 0a3.5 3.5 0 1 0 -7 0M424 494.5a3.5 3.5 0 1 0 7 0a3.5 3.5 0 1 0 -7 0M426.9 493.9a3.5 3.5 0 1 0 7 0a3.5 3.5 0 1 0 -7 0M429.8 492.6a3.5 3.5 0 1 0 7 0a3.5 3.5 0 1 0 -7 0M432.8 490.8a3.5 3.5 0 1 0 7 0a3.5 3.5 0 1 0 -7 0M435.8 492.4a3.5 3.5 0 1 0 7 0a3.5 3.5 0 1 0 -7 0M438.8 490.7a3.5 3.5 0 1 0 7 0a3.5 3.5 0 1 0 -7 0M441.8 491.8a3.5 3.5 0 1 0 7 0a3.5 3.5 0 1 0 -7 0M444.8 489.4a3.5 3.5 0 1 0 7 0a3.5 3.5 0 1 0 -7 0M447.9 490.4a3.5 3.5 0 1 0 7 0a3.5 3.5 0 1 0 -7 0M450.9 491.1a3.5 3.5 0 1 0 7 0a3.5 3.5 0 1 0 -7 0M454 488.1a3.5 3.5 0 1 0 7 0a3.5 3.5 0 1 0 -7 0M457.1 488.2a3.5 3.5 0 1 0 7 0a3.5 3.5 0 1 0 -7 0M460.2 485.7a3.5 3.5 0 1 0 7 0a3.5 3.5 0 1 0 -7 0M463.3 485.1a3.5 3.5 0 1 0 7 0a3.5 3.5 0 1 0 -7 0M466.5 484.2a3.5 3.5 0 1 0 7 0a3.5 3.5 0 1 0 -7 0M469.6 482.7a3.5 3.5 0 1 0 7 0a3.5 3.5 0 1 0 -7 0M472.8 483.5a3.5 3.5 0 1 0 7 0a3.5 3.5 0 1 0 -7 0M476 480.7a3.5 3.5 0 1 0 7 0a3.5 3.5 0 1 0 -7 0M479.2 479.9a3.5 3.5 0 1 0 7 0a3.5 3.5 0 1 0 -7 0M482.4 477a3.5 3.5 0 1 0 7 0a3.5 3.5 0 1 0 -7 0M485.6 470.4a3.5 3.5 0 1 0 7 0a3.5 3.5 0 1 0 -7 0M488.9 463.4a3.5 3.5 0 1 0 7 0a3.5 3.5 0 1 0 -7 0M492.1 449.9a3.5 3.5 0 1 0 7 0a3.5 3.5 0 1 0 -7 0M495.4 416.5a3.5 3.5 0 1 0 7 0a3.5 3.5 0 1 0 -7 0M498.7 366.2a3.5 3.5 0 1 0 7 0a3.5 3.5 0 1 0 -7 0M500.7 349.6a3.5 3.5 0 1 0 7 0a3.5 3.5 0 1 0 -7 0M505.4 370.1a3.5 3.5 0 1 0 7 0a3.5 3.5 0 1 0 -7 0M508.7 400.4a3.5 3.5 0 1 0 7 0a3.5 3.5 0 1 0 -7 0M512.1 426.6a3.5 3.5 0 1 0 7 0a3.5 3.5 0 1 0 -7 0M515.5 443.5a3.5 3.5 0 1 0 7 0a3.5 3.5 0 1 0 -7 0M518.9 456.1a3.5 3.5 0 1 0 7 0a3.5 3.5 0 1 0 -7 0M522.3 461.7a3.5 3.5 0 1 0 7 0a3.5 3.5 0 1 0 -7 0M525.7 462.9a3.5 3.5 0 1 0 7 0a3.5 3.5 0 1 0 -7 0M529.2 465.3a3.5 3.5 0 1 0 7 0a3.5 3.5 0 1 0 -7 0M532.6 467.7a3.5 3.5 0 1 0 7 0a3.5 3.5 0 1 0 -7 0M536.1 470.1a3.5 3.5 0 1 0 7 0a3.5 3.5 0 1 0 -7 0M539.6 463.2a3.5 3.5 0 1 0 7 0a3.5 3.5 0 1 0 -7 0M544.5 462.4a3.5 3.5 0 1 0 7 0a3.5 3.5 0 1 0 -7 0M546.7 464a3.5 3.5 0 1 0 7 0a3.5 3.5 0 1 0 -7 0M550.2 463.7a3.5 3.5 0 1 0 7 0a3.5 3.5 0 1 0 -7 0M553.8 466.5a3.5 3.5 0 1 0 7 0a3.5 3.5 0 1 0 -7 0M557.4 465.7a3.5 3.5 0 1 0 7 0a3.5 3.5 0 1 0 -7 0M561 462.7a3.5 3.5 0 1 0 7 0a3.5 3.5 0 1 0 -7 0M564.6 460.7a3.5 3.5 0 1 0 7 0a3.5 3.5 0 1 0 -7 0M568.3 457.5a3.5 3.5 0 1 0 7 0a3.5 3.5 0 1 0 -7 0M572 454.5a3.5 3.5 0 1 0 7 0a3.5 3.5 0 1 0 -7 0M575.6 446.9a3.5 3.5 0 1 0 7 0a3.5 3.5 0 1 0 -7 0M579.3 445a3.5 3.5 0 1 0 7 0a3.5 3.5 0 1 0 -7 0M583.1 439.8a3.5 3.5 0 1 0 7 0a3.5 3.5 0 1 0 -7 0M586.8 435.9a3.5 3.5 0 1 0 7 0a3.5 3.5 0 1 0 -7 0M591.5 427a3.5 3.5 0 1 0 7 0a3.5 3.5 0 1 0 -7 0M594.3 432.3a3.5 3.5 0 1 0 7 0a3.5 3.5 0 1 0 -7 0M598.1 446.9a3.5 3.5 0 1 0 7 0a3.5 3.5 0 1 0 -7 0M602 462.3a3.5 3.5 0 1 0 7 0a3.5 3.5 0 1 0 -7 0M605.8 470.6a3.5 3.5 0 1 0 7 0a3.5 3.5 0 1 0 -7 0M609.6 474.8a3.5 3.5 0 1 0 7 0a3.5 3.5 0 1 0 -7 0M613.5 476.4a3.5 3.5 0 1 0 7 0a3.5 3.5 0 1 0 -7 0M617.4 473.9a3.5 3.5 0 1 0 7 0a3.5 3.5 0 1 0 -7 0M621.3 475.3a3.5 3.5 0 1 0 7 0a3.5 3.5 0 1 0 -7 0M625.3 474.9a3.5 3.5 0 1 0 7 0a3.5 3.5 0 1 0 -7 0M631.2 475.9a3.5 3.5 0 1 0 7 0a3.5 3.5 0 1 0 -7 0M633.2 474.2a3.5 3.5 0 1 0 7 0a3.5 3.5 0 1 0 -7 0M637.2 479a3.5 3.5 0 1 0 7 0a3.5 3.5 0 1 0 -7 0M641.2 478.8a3.5 3.5 0 1 0 7 0a3.5 3.5 0 1 0 -7 0M645.2 475.1a3.5 3.5 0 1 0 7 0a3.5 3.5 0 1 0 -7 0M649.3 474.1a3.5 3.5 0 1 0 7 0a3.5 3.5 0 1 0 -7 0M653.4 476a3.5 3.5 0 1 0 7 0a3.5 3.5 0 1 0 -7 0M657.5 479.4a3.5 3.5 0 1 0 7 0a3.5 3.5 0 1 0 -7 0M661.6 477.9a3.5 3.5 0 1 0 7 0a3.5 3.5 0 1 0 -7 0M665.7 476.4a3.5 3.5 0 1 0 7 0a3.5 3.5 0 1 0 -7 0M669.9 468.9a3.5 3.5 0 1 0 7 0a3.5 3.5 0 1 0 -7 0M674 467.8a3.5 3.5 0 1 0 7 0a3.5 3.5 0 1 0 -7 0M678.3 472.4a3.5 3.5 0 1 0 7 0a3.5 3.5 0 1 0 -7 0M682.5 475.4a3.5 3.5 0 1 0 7 0a3.5 3.5 0 1 0 -7 0M686.7 477.8a3.5 3.5 0 1 0 7 0a3.5 3.5 0 1 0 -7 0M691 480.3a3.5 3.5 0 1 0 7 0a3.5 3.5 0 1 0 -7 0M695.3 480.4a3.5 3.5 0 1 0 7 0a3.5 3.5 0 1 0 -7 0M699.6 481.8a3.5 3.5 0 1 0 7 0a3.5 3.5 0 1 0 -7 0M703.9 480.8a3.5 3.5 0 1 0 7 0a3.5 3.5 0 1 0 -7 0M708.3 479.3a3.5 3.5 0 1 0 7 0a3.5 3.5 0 1 0 -7 0M712.6 481.8a3.5 3.5 0 1 0 7 0a3.5 3.5 0 1 0 -7 0M717 482.5a3.5 3.5 0 1 0 7 0a3.5 3.5 0 1 0 -7 0M721.4 483.5a3.5 3.5 0 1 0 7 0a3.5 3.5 0 1 0 -7 0M725.9 482.5a3.5 3.5 0 1 0 7 0a3.5 3.5 0 1 0 -7 0M730.4 482a3.5 3.5 0 1 0 7 0a3.5 3.5 0 1 0 -7 0M734.8 479a3.5 3.5 0 1 0 7 0a3.5 3.5 0 1 0 -7 0M739.3 482.7a3.5 3.5 0 1 0 7 0a3.5 3.5 0 1 0 -7 0M743.9 480.7a3.5 3.5 0 1 0 7 0a3.5 3.5 0 1 0 -7 0M748.4 476.6a3.5 3.5 0 1 0 7 0a3.5 3.5 0 1 0 -7 0M753 466.7a3.5 3.5 0 1 0 7 0a3.5 3.5 0 1 0 -7 0M757.5 467.4a3.5 3.5 0 1 0 7 0a3.5 3.5 0 1 0 -7 0M762.2 474.2a3.5 3.5 0 1 0 7 0a3.5 3.5 0 1 0 -7 0M766.9 474.3a3.5 3.5 0 1 0 7 0a3.5 3.5 0 1 0 -7 0M771.5 469.7a3.5 3.5 0 1 0 7 0a3.5 3.5 0 1 0 -7 0M776.2 474.9a3.5 3.5 0 1 0 7 0a3.5 3.5 0 1 0 -7 0M780.9 469.5a3.5 3.5 0 1 0 7 0a3.5 3.5 0 1 0 -7 0M785.7 467.8a3.5 3.5 0 1 0 7 0a3.5 3.5 0 1 0 -7 0M790.5 465.1a3.5 3.5 0 1 0 7 0a3.5 3.5 0 1 0 -7 0M795.2 463.5a3.5 3.5 0 1 0 7 0a3.5 3.5 0 1 0 -7 0M800.1 453.6a3.5 3.5 0 1 0 7 0a3.5 3.5 0 1 0 -7 0M804.5 436.6a3.5 3.5 0 1 0 7 0a3.5 3.5 0 1 0 -7 0M809.8 432.7a3.5 3.5 0 1 0 7 0a3.5 3.5 0 1 0 -7 0M814.6 445.7a3.5 3.5 0 1 0 7 0a3.5 3.5 0 1 0 -7 0M819.6 446a3.5 3.5 0 1 0 7 0a3.5 3.5 0 1 0 -7 0M824.5 447.8a3.5 3.5 0 1 0 7 0a3.5 3.5 0 1 0 -7 0M829.4 441.8a3.5 3.5 0 1 0 7 0a3.5 3.5 0 1 0 -7 0M834.4 428.6a3.5 3.5 0 1 0 7 0a3.5 3.5 0 1 0 -7 0M839.4 404.9a3.5 3.5 0 1 0 7 0a3.5 3.5 0 1 0 -7 0M842.5 396.5a3.5 3.5 0 1 0 7 0a3.5 3.5 0 1 0 -7 0M849.5 426.7a3.5 3.5 0 1 0 7 0a3.5 3.5 0 1 0 -7 0M854.6 433.3a3.5 3.5 0 1 0 7 0a3.5 3.5 0 1 0 -7 0M859.7 435.2a3.5 3.5 0 1 0 7 0a3.5 3.5 0 1 0 -7 0M864.9 454.5a3.5 3.5 0 1 0 7 0a3.5 3.5 0 1 0 -7 0M870 461a3.5 3.5 0 1 0 7 0a3.5 3.5 0 1 0 -7 0M875.2 462.4a3.5 3.5 0 1 0 7 0a3.5 3.5 0 1 0 -7 0M880.4 460.4a3.5 3.5 0 1 0 7 0a3.5 3.5 0 1 0 -7 0M885.7 460.8a3.5 3.5 0 1 0 7 0a3.5 3.5 0 1 0 -7 0M891 463.9a3.5 3.5 0 1 0 7 0a3.5 3.5 0 1 0 -7 0M896.3 469.4a3.5 3.5 0 1 0 7 0a3.5 3.5 0 1 0 -7 0M901.6 465.5a3.5 3.5 0 1 0 7 0a3.5 3.5 0 1 0 -7 0M906.9 469.1a3.5 3.5 0 1 0 7 0a3.5 3.5 0 1 0 -7 0M912.3 465.3a3.5 3.5 0 1 0 7 0a3.5 3.5 0 1 0 -7 0M917.7 468.5a3.5 3.5 0 1 0 7 0a3.5 3.5 0 1 0 -7 0M923.1 473.6a3.5 3.5 0 1 0 7 0a3.5 3.5 0 1 0 -7 0M928.6 470.1a3.5 3.5 0 1 0 7 0a3.5 3.5 0 1 0 -7 0M934.1 467.1a3.5 3.5 0 1 0 7 0a3.5 3.5 0 1 0 -7 0M939.5 441a3.5 3.5 0 1 0 7 0a3.5 3.5 0 1 0 -7 0M945.1 455.7a3.5 3.5 0 1 0 7 0a3.5 3.5 0 1 0 -7 0M950.7 466.9a3.5 3.5 0 1 0 7 0a3.5 3.5 0 1 0 -7 0" fill="#080808"/>
<path d="M152 497 L152.6 497 L154.1 497 L155.7 497 L157.3 497 L158.8 497 L160.4 497 L162 497 L163.6 496.7 L166 494.4 L168.4 495.7 L170 496.4 L171.7 496.1 L173.4 495.2 L175 494.2 L176.7 493.1 L178.3 492.3 L180 492 L181.7 492.2 L183.4 492.5 L185.1 493 L186.8 493.5 L188.5 493.9 L190 494 L192 493.5 L193.8 492.6 L195.5 491.2 L197.3 489.6 L199.1 488 L200.8 485.8 L202.6 482.8 L204.4 477 L206.2 467.8 L208.1 457.5 L210.4 446.4 L211.7 448.9 L213.6 456.4 L215.4 464 L217.3 471.9 L219.2 477 L221.1 481 L223 484 L224.9 485.6 L226.8 486.7 L228.7 487.4 L230 487.6 L232.6 487.3 L234.5 486.7 L236.5 486.2 L238.5 485.7 L240 485.6 L242.4 485.7 L244.5 485.8 L246.5 485.9 L248.5 486 L250 486 L252.4 479 L255 485.6 L256.7 485.4 L258.8 484.6 L260.8 483.6 L262.9 482.5 L265 481 L267.2 479.1 L269.3 476.8 L271.4 474.1 L273.6 470.7 L275.7 466.7 L277.9 462.2 L280.1 457 L282.3 450.9 L284.5 444.5 L286.7 437 L288.9 430.1 L291.2 426.3 L293.6 424.4 L295.7 425.6 L298 428 L300.2 429.5 L302.5 431 L304.8 432.8 L307.2 435.7 L309.5 440.5 L311.8 446 L314.2 452.4 L316.5 458.2 L318.9 462.4 L321.3 465.8 L323.7 467.2 L326.1 467.8 L328.6 468.2 L332 468.4 L333.4 468.2 L335.9 467 L338.4 465.1 L340.9 463.1 L343.4 460.2 L345.9 456.5 L349.1 454 L350.9 454.7 L353.5 457.2 L356.1 462.5 L358.6 471.2 L361.2 475.6 L363.8 479 L366.4 481.8 L369.1 484.1 L371.7 486 L374.4 487.9 L377 489.6 L379.7 490.9 L382.4 491.5 L385.1 491.5 L387.9 491.5 L390.6 491.5 L393.3 491.5 L396.1 491.5 L398.9 491.5 L401.7 491.5 L404.5 491.5 L407.3 490.8 L410.1 488.1 L413 486.4 L415.9 488.8 L418.7 491.5 L421.6 491.5 L424.5 491.5 L427.5 491.5 L430.4 491.5 L433.3 491.5 L436.3 491.5 L439.3 491.5 L442.3 491.3 L445.3 490.6 L448.3 489.7 L451.4 488.7 L454.4 487.8 L457.5 486.9 L460.6 485.9 L463.7 484.8 L466.8 483.7 L470 482.5 L473.1 481.4 L476.3 480.2 L479.5 478.9 L482.7 477.1 L485.9 474.3 L489.1 469.7 L492.4 462.4 L495.6 447.8 L498.9 415.5 L502.2 365.9 L504.2 348.4 L508.9 372 L512.2 401.2 L515.6 426 L519 443 L522.4 455.3 L525.8 460.4 L529.2 463.4 L532.7 465.3 L536 466 L539.6 465.2 L543.1 463.7 L548 462.4 L550.2 462.5 L553.7 463 L557.3 463.4 L560 463.6 L564.5 461.9 L568.1 459 L571.8 455.7 L575.5 452.1 L579.1 447.9 L582.8 443.4 L586.6 439.2 L590.3 434.7 L595 426 L597.8 431.1 L601.6 447 L605.5 461.3 L609.3 468.8 L613.1 471.3 L617 473 L621.4 473.7 L624.8 473.5 L628.8 472.8 L634.7 472.2 L636.7 472.3 L640.7 473.1 L644.7 474.2 L648.7 475.2 L652.8 476.1 L656.9 477 L660.4 477.3 L665.1 475.6 L669.2 472.3 L673.4 469.2 L677.5 467.8 L681.8 469.8 L686 473.7 L690.2 476.5 L694.5 477.9 L698.8 479.2 L703.1 480.2 L707.4 480.7 L711.8 480.7 L716.1 480.7 L720.5 480.7 L724.9 480.7 L729.4 480.7 L733.9 480.5 L738.3 480.2 L742.8 479.5 L747.4 478.5 L751.9 473.1 L756.5 466.6 L761 465.9 L765.8 473.1 L770.4 472.4 L775 470.9 L779.7 469.8 L784.4 469 L789.2 467.8 L794 465.1 L798.7 459.7 L803.6 450.1 L808 431.8 L813.3 432.2 L818.1 438.8 L823.1 441.7 L825.2 441.8 L828 441.2 L832.9 437.7 L837.9 426.9 L842.9 403.9 L846 395.1 L853 426.9 L858.1 435.9 L863.2 438.3 L868.4 445.2 L873.5 451.6 L878.7 457 L883.9 459.8 L889.2 461.8 L894.5 463.5 L899.8 465.2 L905.1 466.8 L910.4 468.2 L915.8 469.2 L921.2 470.1 L926.6 470.8 L931.6 471.1 L937.6 467.4 L943 438.4 L948.6 454.6 L954.2 468.1 L959.1 468.8" stroke="#ff0000" stroke-width="1.6" fill="none" stroke-linejoin="round"/>
<path d="M149.1 638a3.5 3.5 0 1 0 7 0a3.5 3.5 0 1 0 -7 0M150.6 639a3.5 3.5 0 1 0 7 0a3.5 3.5 0 1 0 -7 0M151.5 637.4a3.5 3.5 0 1 0 7 0a3.5 3.5 0 1 0 -7 0M153.8 639.2a3.5 3.5 0 1 0 7 0a3.5 3.5 0 1 0 -7 0M155.3 642.4a3.5 3.5 0 1 0 7 0a3.5 3.5 0 1 0 -7 0M156.9 643.4a3.5 3.5 0 1 0 7 0a3.5 3.5 0 1 0 -7 0M158.5 644.6a3.5 3.5 0 1 0 7 0a3.5 3.5 0 1 0 -7 0M160.1 644.1a3.5 3.5 0 1 0 7 0a3.5 3.5 0 1 0 -7 0M161.7 641.7a3.5 3.5 0 1 0 7 0a3.5 3.5 0 1 0 -7 0M163.3 642.7a3.5 3.5 0 1 0 7 0a3.5 3.5 0 1 0 -7 0M165.5 643.5a3.5 3.5 0 1 0 7 0a3.5 3.5 0 1 0 -7 0M166.6 640.1a3.5 3.5 0 1 0 7 0a3.5 3.5 0 1 0 -7 0M168.2 641.9a3.5 3.5 0 1 0 7 0a3.5 3.5 0 1 0 -7 0M169.9 646.5a3.5 3.5 0 1 0 7 0a3.5 3.5 0 1 0 -7 0M171.5 642.1a3.5 3.5 0 1 0 7 0a3.5 3.5 0 1 0 -7 0M173.2 640.2a3.5 3.5 0 1 0 7 0a3.5 3.5 0 1 0 -7 0M174.8 638.1a3.5 3.5 0 1 0 7 0a3.5 3.5 0 1 0 -7 0M176.5 638.3a3.5 3.5 0 1 0 7 0a3.5 3.5 0 1 0 -7 0M178.2 637.8a3.5 3.5 0 1 0 7 0a3.5 3.5 0 1 0 -7 0M179.9 644.2a3.5 3.5 0 1 0 7 0a3.5 3.5 0 1 0 -7 0M181.6 635.4a3.5 3.5 0 1 0 7 0a3.5 3.5 0 1 0 -7 0M183.3 637.9a3.5 3.5 0 1 0 7 0a3.5 3.5 0 1 0 -7 0M185 638.3a3.5 3.5 0 1 0 7 0a3.5 3.5 0 1 0 -7 0M186.8 640.5a3.5 3.5 0 1 0 7 0a3.5 3.5 0 1 0 -7 0M188.5 639.9a3.5 3.5 0 1 0 7 0a3.5 3.5 0 1 0 -7 0M190.3 640.1a3.5 3.5 0 1 0 7 0a3.5 3.5 0 1 0 -7 0M192 638a3.5 3.5 0 1 0 7 0a3.5 3.5 0 1 0 -7 0M193.8 633.4a3.5 3.5 0 1 0 7 0a3.5 3.5 0 1 0 -7 0M195.6 635.2a3.5 3.5 0 1 0 7 0a3.5 3.5 0 1 0 -7 0M197.3 630.9a3.5 3.5 0 1 0 7 0a3.5 3.5 0 1 0 -7 0M199.1 632a3.5 3.5 0 1 0 7 0a3.5 3.5 0 1 0 -7 0M200.9 619.8a3.5 3.5 0 1 0 7 0a3.5 3.5 0 1 0 -7 0M202.7 614.6a3.5 3.5 0 1 0 7 0a3.5 3.5 0 1 0 -7 0M204.6 601.8a3.5 3.5 0 1 0 7 0a3.5 3.5 0 1 0 -7 0M206.9 591.1a3.5 3.5 0 1 0 7 0a3.5 3.5 0 1 0 -7 0M208.2 593a3.5 3.5 0 1 0 7 0a3.5 3.5 0 1 0 -7 0M210.1 600.6a3.5 3.5 0 1 0 7 0a3.5 3.5 0 1 0 -7 0M211.9 608.8a3.5 3.5 0 1 0 7 0a3.5 3.5 0 1 0 -7 0M213.8 617.8a3.5 3.5 0 1 0 7 0a3.5 3.5 0 1 0 -7 0M215.7 623.4a3.5 3.5 0 1 0 7 0a3.5 3.5 0 1 0 -7 0M217.6 627.4a3.5 3.5 0 1 0 7 0a3.5 3.5 0 1 0 -7 0M219.5 627.7a3.5 3.5 0 1 0 7 0a3.5 3.5 0 1 0 -7 0M221.4 633.9a3.5 3.5 0 1 0 7 0a3.5 3.5 0 1 0 -7 0M223.3 629.6a3.5 3.5 0 1 0 7 0a3.5 3.5 0 1 0 -7 0M225.2 631.4a3.5 3.5 0 1 0 7 0a3.5 3.5 0 1 0 -7 0M227.1 629a3.5 3.5 0 1 0 7 0a3.5 3.5 0 1 0 -7 0M229.1 631.4a3.5 3.5 0 1 0 7 0a3.5 3.5 0 1 0 -7 0M231 634.7a3.5 3.5 0 1 0 7 0a3.5 3.5 0 1 0 -7 0M233 631.2a3.5 3.5 0 1 0 7 0a3.5 3.5 0 1 0 -7 0M235 631.3a3.5 3.5 0 1 0 7 0a3.5 3.5 0 1 0 -7 0M237 629.4a3.5 3.5 0 1 0 7 0a3.5 3.5 0 1 0 -7 0M238.9 631.5a3.5 3.5 0 1 0 7 0a3.5 3.5 0 1 0 -7 0M241 630.9a3.5 3.5 0 1 0 7 0a3.5 3.5 0 1 0 -7 0M243 631.2a3.5 3.5 0 1 0 7 0a3.5 3.5 0 1 0 -7 0M245 633.3a3.5 3.5 0 1 0 7 0a3.5 3.5 0 1 0 -7 0M247 634.4a3.5 3.5 0 1 0 7 0a3.5 3.5 0 1 0 -7 0M249.1 630a3.5 3.5 0 1 0 7 0a3.5 3.5 0 1 0 -7 0M250.9 624.3a3.5 3.5 0 1 0 7 0a3.5 3.5 0 1 0 -7 0M253.2 628.7a3.5 3.5 0 1 0 7 0a3.5 3.5 0 1 0 -7 0M255.3 628.7a3.5 3.5 0 1 0 7 0a3.5 3.5 0 1 0 -7 0M257.3 628.5a3.5 3.5 0 1 0 7 0a3.5 3.5 0 1 0 -7 0M259.4 624.3a3.5 3.5 0 1 0 7 0a3.5 3.5 0 1 0 -7 0M261.5 625.9a3.5 3.5 0 1 0 7 0a3.5 3.5 0 1 0 -7 0M263.7 622.1a3.5 3.5 0 1 0 7 0a3.5 3.5 0 1 0 -7 0M265.8 622.4a3.5 3.5 0 1 0 7 0a3.5 3.5 0 1 0 -7 0M267.9 620.3a3.5 3.5 0 1 0 7 0a3.5 3.5 0 1 0 -7 0M270.1 617.3a3.5 3.5 0 1 0 7 0a3.5 3.5 0 1 0 -7 0M272.2 612.3a3.5 3.5 0 1 0 7 0a3.5 3.5 0 1 0 -7 0M274.4 608.8a3.5 3.5 0 1 0 7 0a3.5 3.5 0 1 0 -7 0M276.6 601.6a3.5 3.5 0 1 0 7 0a3.5 3.5 0 1 0 -7 0M278.8 595.2a3.5 3.5 0 1 0 7 0a3.5 3.5 0 1 0 -7 0M281 586a3.5 3.5 0 1 0 7 0a3.5 3.5 0 1 0 -7 0M283.2 578a3.5 3.5 0 1 0 7 0a3.5 3.5 0 1 0 -7 0M285.4 570.8a3.5 3.5 0 1 0 7 0a3.5 3.5 0 1 0 -7 0M287.7 567.9a3.5 3.5 0 1 0 7 0a3.5 3.5 0 1 0 -7 0M290.5 563.9a3.5 3.5 0 1 0 7 0a3.5 3.5 0 1 0 -7 0M292.2 564.9a3.5 3.5 0 1 0 7 0a3.5 3.5 0 1 0 -7 0M294.5 568a3.5 3.5 0 1 0 7 0a3.5 3.5 0 1 0 -7 0M296.7 568a3.5 3.5 0 1 0 7 0a3.5 3.5 0 1 0 -7 0M299 571.4a3.5 3.5 0 1 0 7 0a3.5 3.5 0 1 0 -7 0M301.3 575.5a3.5 3.5 0 1 0 7 0a3.5 3.5 0 1 0 -7 0M303.7 578.5a3.5 3.5 0 1 0 7 0a3.5 3.5 0 1 0 -7 0M306 583.7a3.5 3.5 0 1 0 7 0a3.5 3.5 0 1 0 -7 0M308.3 588.7a3.5 3.5 0 1 0 7 0a3.5 3.5 0 1 0 -7 0M310.7 596.9a3.5 3.5 0 1 0 7 0a3.5 3.5 0 1 0 -7 0M313 601.2a3.5 3.5 0 1 0 7 0a3.5 3.5 0 1 0 -7 0M315.4 603.8a3.5 3.5 0 1 0 7 0a3.5 3.5 0 1 0 -7 0M317.8 608.8a3.5 3.5 0 1 0 7 0a3.5 3.5 0 1 0 -7 0M320.2 611.6a3.5 3.5 0 1 0 7 0a3.5 3.5 0 1 0 -7 0M322.6 611.8a3.5 3.5 0 1 0 7 0a3.5 3.5 0 1 0 -7 0M325.1 613a3.5 3.5 0 1 0 7 0a3.5 3.5 0 1 0 -7 0M327.5 612.2a3.5 3.5 0 1 0 7 0a3.5 3.5 0 1 0 -7 0M329.9 611.6a3.5 3.5 0 1 0 7 0a3.5 3.5 0 1 0 -7 0M332.4 609a3.5 3.5 0 1 0 7 0a3.5 3.5 0 1 0 -7 0M334.9 609.3a3.5 3.5 0 1 0 7 0a3.5 3.5 0 1 0 -7 0M337.4 606.4a3.5 3.5 0 1 0 7 0a3.5 3.5 0 1 0 -7 0M339.9 602.5a3.5 3.5 0 1 0 7 0a3.5 3.5 0 1 0 -7 0M342.4 600.9a3.5 3.5 0 1 0 7 0a3.5 3.5 0 1 0 -7 0M345.6 597.6a3.5 3.5 0 1 0 7 0a3.5 3.5 0 1 0 -7 0M347.4 597.7a3.5 3.5 0 1 0 7 0a3.5 3.5 0 1 0 -7 0M350 599.1a3.5 3.5 0 1 0 7 0a3.5 3.5 0 1 0 -7 0M352.6 604.9a3.5 3.5 0 1 0 7 0a3.5 3.5 0 1 0 -7 0M355.1 611a3.5 3.5 0 1 0 7 0a3.5 3.5 0 1 0 -7 0M357.7 618.2a3.5 3.5 0 1 0 7 0a3.5 3.5 0 1 0 -7 0M360.3 622.8a3.5 3.5 0 1 0 7 0a3.5 3.5 0 1 0 -7 0M362.9 626.5a3.5 3.5 0 1 0 7 0a3.5 3.5 0 1 0 -7 0M365.6 630.4a3.5 3.5 0 1 0 7 0a3.5 3.5 0 1 0 -7 0M368.2 632.1a3.5 3.5 0 1 0 7 0a3.5 3.5 0 1 0 -7 0M370.9 634.4a3.5 3.5 0 1 0 7 0a3.5 3.5 0 1 0 -7 0M373.5 634.4a3.5 3.5 0 1 0 7 0a3.5 3.5 0 1 0 -7 0M376.2 634.6a3.5 3.5 0 1 0 7 0a3.5 3.5 0 1 0 -7 0M378.9 635.7a3.5 3.5 0 1 0 7 0a3.5 3.5 0 1 0 -7 0M381.6 637.9a3.5 3.5 0 1 0 7 0a3.5 3.5 0 1 0 -7 0M384.4 637.3a3.5 3.5 0 1 0 7 0a3.5 3.5 0 1 0 -7 0M387.1 636.8a3.5 3.5 0 1 0 7 0a3.5 3.5 0 1 0 -7 0M389.8 636a3.5 3.5 0 1 0 7 0a3.5 3.5 0 1 0 -7 0M392.6 636a3.5 3.5 0 1 0 7 0a3.5 3.5 0 1 0 -7 0M395.4 636.2a3.5 3.5 0 1 0 7 0a3.5 3.5 0 1 0 -7 0M398.2 634a3.5 3.5 0 1 0 7 0a3.5 3.5 0 1 0 -7 0M401 636.2a3.5 3.5 0 1 0 7 0a3.5 3.5 0 1 0 -7 0M403.8 636.6a3.5 3.5 0 1 0 7 0a3.5 3.5 0 1 0 -7 0M406.6 636.3a3.5 3.5 0 1 0 7 0a3.5 3.5 0 1 0 -7 0M410.1 634.5a3.5 3.5 0 1 0 7 0a3.5 3.5 0 1 0 -7 0M412.4 634.3a3.5 3.5 0 1 0 7 0a3.5 3.5 0 1 0 -7 0M415.2 636.8a3.5 3.5 0 1 0 7 0a3.5 3.5 0 1 0 -7 0M418.1 636.4a3.5 3.5 0 1 0 7 0a3.5 3.5 0 1 0 -7 0M421 636.6a3.5 3.5 0 1 0 7 0a3.5 3.5 0 1 0 -7 0M424 639.4a3.5 3.5 0 1 0 7 0a3.5 3.5 0 1 0 -7 0M426.9 638.7a3.5 3.5 0 1 0 7 0a3.5 3.5 0 1 0 -7 0M429.8 637a3.5 3.5 0 1 0 7 0a3.5 3.5 0 1 0 -7 0M432.8 636.2a3.5 3.5 0 1 0 7 0a3.5 3.5 0 1 0 -7 0M435.8 637.7a3.5 3.5 0 1 0 7 0a3.5 3.5 0 1 0 -7 0M438.8 637.8a3.5 3.5 0 1 0 7 0a3.5 3.5 0 1 0 -7 0M441.8 638a3.5 3.5 0 1 0 7 0a3.5 3.5 0 1 0 -7 0M444.8 637.3a3.5 3.5 0 1 0 7 0a3.5 3.5 0 1 0 -7 0M447.9 633.9a3.5 3.5 0 1 0 7 0a3.5 3.5 0 1 0 -7 0M450.9 634.6a3.5 3.5 0 1 0 7 0a3.5 3.5 0 1 0 -7 0M454 631.6a3.5 3.5 0 1 0 7 0a3.5 3.5 0 1 0 -7 0M457.1 630.1a3.5 3.5 0 1 0 7 0a3.5 3.5 0 1 0 -7 0M460.2 627.6a3.5 3.5 0 1 0 7 0a3.5 3.5 0 1 0 -7 0M463.3 627.6a3.5 3.5 0 1 0 7 0a3.5 3.5 0 1 0 -7 0M466.5 627.8a3.5 3.5 0 1 0 7 0a3.5 3.5 0 1 0 -7 0M469.6 625.2a3.5 3.5 0 1 0 7 0a3.5 3.5 0 1 0 -7 0M472.8 625.3a3.5 3.5 0 1 0 7 0a3.5 3.5 0 1 0 -7 0M476 622.6a3.5 3.5 0 1 0 7 0a3.5 3.5 0 1 0 -7 0M479.2 624.7a3.5 3.5 0 1 0 7 0a3.5 3.5 0 1 0 -7 0M482.4 623.5a3.5 3.5 0 1 0 7 0a3.5 3.5 0 1 0 -7 0M485.6 614.1a3.5 3.5 0 1 0 7 0a3.5 3.5 0 1 0 -7 0M488.9 604a3.5 3.5 0 1 0 7 0a3.5 3.5 0 1 0 -7 0M492.1 589.1a3.5 3.5 0 1 0 7 0a3.5 3.5 0 1 0 -7 0M495.4 557.6a3.5 3.5 0 1 0 7 0a3.5 3.5 0 1 0 -7 0M498.7 510.8a3.5 3.5 0 1 0 7 0a3.5 3.5 0 1 0 -7 0M500.7 494a3.5 3.5 0 1 0 7 0a3.5 3.5 0 1 0 -7 0M505.4 515.2a3.5 3.5 0 1 0 7 0a3.5 3.5 0 1 0 -7 0M508.7 544.5a3.5 3.5 0 1 0 7 0a3.5 3.5 0 1 0 -7 0M512.1 567.8a3.5 3.5 0 1 0 7 0a3.5 3.5 0 1 0 -7 0M515.5 584.4a3.5 3.5 0 1 0 7 0a3.5 3.5 0 1 0 -7 0M518.9 599.2a3.5 3.5 0 1 0 7 0a3.5 3.5 0 1 0 -7 0M522.3 607.2a3.5 3.5 0 1 0 7 0a3.5 3.5 0 1 0 -7 0M525.7 607.8a3.5 3.5 0 1 0 7 0a3.5 3.5 0 1 0 -7 0M529.2 612.1a3.5 3.5 0 1 0 7 0a3.5 3.5 0 1 0 -7 0M532.6 611.1a3.5 3.5 0 1 0 7 0a3.5 3.5 0 1 0 -7 0M536.1 611.6a3.5 3.5 0 1 0 7 0a3.5 3.5 0 1 0 -7 0M539.6 608.1a3.5 3.5 0 1 0 7 0a3.5 3.5 0 1 0 -7 0M544.5 605.6a3.5 3.5 0 1 0 7 0a3.5 3.5 0 1 0 -7 0M546.7 606.8a3.5 3.5 0 1 0 7 0a3.5 3.5 0 1 0 -7 0M550.2 606.1a3.5 3.5 0 1 0 7 0a3.5 3.5 0 1 0 -7 0M553.8 609.6a3.5 3.5 0 1 0 7 0a3.5 3.5 0 1 0 -7 0M557.4 609.5a3.5 3.5 0 1 0 7 0a3.5 3.5 0 1 0 -7 0M561 611.8a3.5 3.5 0 1 0 7 0a3.5 3.5 0 1 0 -7 0M564.6 606.5a3.5 3.5 0 1 0 7 0a3.5 3.5 0 1 0 -7 0M568.3 601.9a3.5 3.5 0 1 0 7 0a3.5 3.5 0 1 0 -7 0M572 598.5a3.5 3.5 0 1 0 7 0a3.5 3.5 0 1 0 -7 0M575.6 593.8a3.5 3.5 0 1 0 7 0a3.5 3.5 0 1 0 -7 0M579.3 590.6a3.5 3.5 0 1 0 7 0a3.5 3.5 0 1 0 -7 0M583.1 585.7a3.5 3.5 0 1 0 7 0a3.5 3.5 0 1 0 -7 0M586.8 576.3a3.5 3.5 0 1 0 7 0a3.5 3.5 0 1 0 -7 0M591.5 568.2a3.5 3.5 0 1 0 7 0a3.5 3.5 0 1 0 -7 0M594.3 573.3a3.5 3.5 0 1 0 7 0a3.5 3.5 0 1 0 -7 0M598.1 594.6a3.5 3.5 0 1 0 7 0a3.5 3.5 0 1 0 -7 0M602 609.7a3.5 3.5 0 1 0 7 0a3.5 3.5 0 1 0 -7 0M605.8 617.4a3.5 3.5 0 1 0 7 0a3.5 3.5 0 1 0 -7 0M609.6 618.1a3.5 3.5 0 1 0 7 0a3.5 3.5 0 1 0 -7 0M613.5 618a3.5 3.5 0 1 0 7 0a3.5 3.5 0 1 0 -7 0M617.4 623a3.5 3.5 0 1 0 7 0a3.5 3.5 0 1 0 -7 0M621.3 621.6a3.5 3.5 0 1 0 7 0a3.5 3.5 0 1 0 -7 0M625.3 619.8a3.5 3.5 0 1 0 7 0a3.5 3.5 0 1 0 -7 0M631.2 618.2a3.5 3.5 0 1 0 7 0a3.5 3.5 0 1 0 -7 0M633.2 617a3.5 3.5 0 1 0 7 0a3.5 3.5 0 1 0 -7 0M637.2 619.6a3.5 3.5 0 1 0 7 0a3.5 3.5 0 1 0 -7 0M641.2 619.8a3.5 3.5 0 1 0 7 0a3.5 3.5 0 1 0 -7 0M645.2 620a3.5 3.5 0 1 0 7 0a3.5 3.5 0 1 0 -7 0M649.3 621.7a3.5 3.5 0 1 0 7 0a3.5 3.5 0 1 0 -7 0M653.4 622.3a3.5 3.5 0 1 0 7 0a3.5 3.5 0 1 0 -7 0M657.5 625.5a3.5 3.5 0 1 0 7 0a3.5 3.5 0 1 0 -7 0M661.6 621.6a3.5 3.5 0 1 0 7 0a3.5 3.5 0 1 0 -7 0M665.7 617.1a3.5 3.5 0 1 0 7 0a3.5 3.5 0 1 0 -7 0M669.9 619a3.5 3.5 0 1 0 7 0a3.5 3.5 0 1 0 -7 0M674 617a3.5 3.5 0 1 0 7 0a3.5 3.5 0 1 0 -7 0M678.3 616.5a3.5 3.5 0 1 0 7 0a3.5 3.5 0 1 0 -7 0M682.5 622.5a3.5 3.5 0 1 0 7 0a3.5 3.5 0 1 0 -7 0M686.7 624.5a3.5 3.5 0 1 0 7 0a3.5 3.5 0 1 0 -7 0M691 620.8a3.5 3.5 0 1 0 7 0a3.5 3.5 0 1 0 -7 0M695.3 625.4a3.5 3.5 0 1 0 7 0a3.5 3.5 0 1 0 -7 0M699.6 627.5a3.5 3.5 0 1 0 7 0a3.5 3.5 0 1 0 -7 0M703.9 628.9a3.5 3.5 0 1 0 7 0a3.5 3.5 0 1 0 -7 0M708.3 627.1a3.5 3.5 0 1 0 7 0a3.5 3.5 0 1 0 -7 0M712.6 624.6a3.5 3.5 0 1 0 7 0a3.5 3.5 0 1 0 -7 0M717 624.8a3.5 3.5 0 1 0 7 0a3.5 3.5 0 1 0 -7 0M721.4 627.4a3.5 3.5 0 1 0 7 0a3.5 3.5 0 1 0 -7 0M725.9 624.9a3.5 3.5 0 1 0 7 0a3.5 3.5 0 1 0 -7 0M730.4 626.5a3.5 3.5 0 1 0 7 0a3.5 3.5 0 1 0 -7 0M734.8 622.6a3.5 3.5 0 1 0 7 0a3.5 3.5 0 1 0 -7 0M739.3 622.3a3.5 3.5 0 1 0 7 0a3.5 3.5 0 1 0 -7 0M743.9 622.8a3.5 3.5 0 1 0 7 0a3.5 3.5 0 1 0 -7 0M748.4 619.4a3.5 3.5 0 1 0 7 0a3.5 3.5 0 1 0 -7 0M753 610.3a3.5 3.5 0 1 0 7 0a3.5 3.5 0 1 0 -7 0M757 604.6a3.5 3.5 0 1 0 7 0a3.5 3.5 0 1 0 -7 0M762.2 617.2a3.5 3.5 0 1 0 7 0a3.5 3.5 0 1 0 -7 0M766.9 618.4a3.5 3.5 0 1 0 7 0a3.5 3.5 0 1 0 -7 0M771.5 617.8a3.5 3.5 0 1 0 7 0a3.5 3.5 0 1 0 -7 0M776.2 613.2a3.5 3.5 0 1 0 7 0a3.5 3.5 0 1 0 -7 0M780.9 615.3a3.5 3.5 0 1 0 7 0a3.5 3.5 0 1 0 -7 0M785.7 611.6a3.5 3.5 0 1 0 7 0a3.5 3.5 0 1 0 -7 0M790.5 606.5a3.5 3.5 0 1 0 7 0a3.5 3.5 0 1 0 -7 0M795.2 602.7a3.5 3.5 0 1 0 7 0a3.5 3.5 0 1 0 -7 0M800.1 591.6a3.5 3.5 0 1 0 7 0a3.5 3.5 0 1 0 -7 0M804.5 571.9a3.5 3.5 0 1 0 7 0a3.5 3.5 0 1 0 -7 0M809.8 577.6a3.5 3.5 0 1 0 7 0a3.5 3.5 0 1 0 -7 0M814.6 587.5a3.5 3.5 0 1 0 7 0a3.5 3.5 0 1 0 -7 0M819.6 586.4a3.5 3.5 0 1 0 7 0a3.5 3.5 0 1 0 -7 0M824.5 593.8a3.5 3.5 0 1 0 7 0a3.5 3.5 0 1 0 -7 0M829.4 580.1a3.5 3.5 0 1 0 7 0a3.5 3.5 0 1 0 -7 0M834.4 568.1a3.5 3.5 0 1 0 7 0a3.5 3.5 0 1 0 -7 0M839.4 549.7a3.5 3.5 0 1 0 7 0a3.5 3.5 0 1 0 -7 0M842.5 542.7a3.5 3.5 0 1 0 7 0a3.5 3.5 0 1 0 -7 0M849.5 570.5a3.5 3.5 0 1 0 7 0a3.5 3.5 0 1 0 -7 0M854.6 579.9a3.5 3.5 0 1 0 7 0a3.5 3.5 0 1 0 -7 0M859.7 582.3a3.5 3.5 0 1 0 7 0a3.5 3.5 0 1 0 -7 0M864.9 590.3a3.5 3.5 0 1 0 7 0a3.5 3.5 0 1 0 -7 0M870 595.8a3.5 3.5 0 1 0 7 0a3.5 3.5 0 1 0 -7 0M875.2 604a3.5 3.5 0 1 0 7 0a3.5 3.5 0 1 0 -7 0M880.4 605.3a3.5 3.5 0 1 0 7 0a3.5 3.5 0 1 0 -7 0M885.7 601.8a3.5 3.5 0 1 0 7 0a3.5 3.5 0 1 0 -7 0M891 606.7a3.5 3.5 0 1 0 7 0a3.5 3.5 0 1 0 -7 0M896.3 607.6a3.5 3.5 0 1 0 7 0a3.5 3.5 0 1 0 -7 0M901.6 606.8a3.5 3.5 0 1 0 7 0a3.5 3.5 0 1 0 -7 0M906.9 609.5a3.5 3.5 0 1 0 7 0a3.5 3.5 0 1 0 -7 0M912.3 614.1a3.5 3.5 0 1 0 7 0a3.5 3.5 0 1 0 -7 0M917.7 614.6a3.5 3.5 0 1 0 7 0a3.5 3.5 0 1 0 -7 0M923.1 613.7a3.5 3.5 0 1 0 7 0a3.5 3.5 0 1 0 -7 0M928.6 618.9a3.5 3.5 0 1 0 7 0a3.5 3.5 0 1 0 -7 0M934.1 608.2a3.5 3.5 0 1 0 7 0a3.5 3.5 0 1 0 -7 0M939.5 576.2a3.5 3.5 0 1 0 7 0a3.5 3.5 0 1 0 -7 0M945.1 594a3.5 3.5 0 1 0 7 0a3.5 3.5 0 1 0 -7 0M950.7 608.2a3.5 3.5 0 1 0 7 0a3.5 3.5 0 1 0 -7 0" fill="#080808"/>
<path d="M152 639 L152.6 638.7 L155 638 L157.3 639 L158.8 640.3 L160.4 641.5 L162 642 L163.6 641.8 L165.2 641.3 L166.8 640.5 L169 639 L172 641.6 L173.4 641.3 L175 640.3 L176.7 639.1 L178.3 638 L180 637.6 L181.7 637.8 L183.4 638.4 L185.1 639 L186.8 639.6 L189 640 L190.3 639.8 L192 639 L193.8 637.7 L195.5 636.4 L197.3 635.1 L199.1 633.6 L200.8 631.7 L202.6 628.6 L204.4 621.5 L206.2 612.7 L208.1 599.9 L210.4 589 L211.7 591.3 L213.6 598.4 L215.4 606.5 L217.3 615.5 L219.2 621.5 L221.1 626.6 L223 630.1 L224.9 631.4 L226.8 632.1 L228.7 632.5 L230 632.6 L232.6 632.5 L234.5 632.2 L236.5 631.9 L238.5 631.5 L240.5 631.2 L242.4 630.9 L244.5 630.8 L246.5 630.6 L248.5 630.4 L250.5 630.1 L252.6 627.2 L254.4 624 L257 627 L258.8 626.6 L260.8 625.6 L262.9 624.5 L265 622.9 L267.2 621 L269.3 618.8 L271.4 616.2 L273.6 613.1 L275.7 609.4 L277.9 605.2 L280.1 600 L282.3 593.6 L284.5 586.2 L286.7 576.6 L288.9 569.4 L291.2 565.5 L294 564.4 L295.7 565.3 L298 568 L300.2 569.8 L302.5 571.1 L304.8 572.6 L307.2 575.2 L309.5 580.3 L311.8 586.1 L314.2 592.9 L316.5 599.1 L318.9 603.3 L321.3 606.5 L323.7 608.4 L326.1 609.8 L328.6 610.7 L330.5 611 L333.4 610.2 L335.9 608.7 L338.4 606.7 L340.9 604.6 L343.4 601.7 L345.9 598 L349.1 595.5 L350.9 596.2 L353.5 598.8 L356.1 602.8 L358.6 609.8 L361.2 616.6 L363.8 620.8 L366.4 624.5 L369.1 627.7 L371.7 630.1 L374.4 631.7 L377 632.7 L379.7 633.7 L382.4 634.6 L385.1 635.2 L387.9 635.7 L390.6 636 L392 636 L393.3 636 L396.1 636 L398.9 635.9 L401.7 635.8 L404.5 635.6 L407.3 635.4 L410.1 633.9 L413.6 632.4 L415.9 633.7 L418.7 636 L421.6 636.2 L424.5 636.3 L427.5 636.4 L430.4 636.5 L433.3 636.6 L436.3 636.6 L440 636.6 L442.3 636.5 L445.3 636 L448.3 635.2 L451.4 634.2 L454.4 633.2 L457.5 632 L460.6 630.5 L463.7 628.7 L466.8 627 L470 625.5 L473.1 624.5 L476.3 623.7 L479.5 622.8 L482.7 621.5 L485.9 618.6 L489.1 612.8 L492.4 604.1 L495.6 589.5 L498.9 558.3 L502.2 510.4 L504.2 492 L508.9 515.1 L512.2 544.2 L515.6 568.8 L519 586.3 L522.4 599.6 L525.8 604.9 L529.2 607.9 L532.7 609.8 L536 610.5 L539.6 609.8 L543.1 608.6 L548 607.5 L550.2 607.6 L553.7 608.2 L557.3 608.8 L560 609 L564.5 607.5 L568.1 604.8 L571.8 601.7 L575.5 598.3 L579.1 594.2 L582.8 589.5 L586.6 584.4 L590.3 578.3 L595 567 L597.8 572.3 L601.6 592.3 L605.5 609.2 L609.3 616.4 L613.1 617.7 L617 618.4 L621.4 618.7 L624.8 618.5 L628.8 617.9 L634.7 617.4 L636.7 617.5 L640.7 618.4 L644.7 619.5 L648.7 620.4 L652.8 621.2 L656.9 621.9 L661.3 622.2 L665.1 621.3 L669.2 619 L673.4 616.6 L677.5 615.5 L681.8 616.8 L686 619.4 L690.2 621.3 L694.5 622.4 L698.8 623.3 L703.1 623.9 L706.9 624.1 L711.8 624.1 L716.1 624 L720.5 623.8 L724.9 623.6 L729.4 623.4 L733.9 623.1 L738.3 622.6 L742.8 621.8 L747.4 620.7 L751.9 616.8 L756.5 608.5 L760.5 605.4 L765.4 615.5 L770.4 615 L775 614.1 L779.7 613.1 L784.4 612 L789.2 610.4 L794 607.2 L798.7 601.7 L803.6 592.9 L808 573.7 L813.3 575.3 L818.1 581.4 L823.1 583.2 L828 582.7 L832.9 579.3 L837.9 569.5 L842.9 549.5 L846 542.3 L853 569.2 L858.1 578.1 L863.2 580.3 L868.4 585.4 L873.5 591.8 L878.7 596.4 L883.9 599.4 L889.2 601.9 L894.5 604.1 L899.8 606.3 L905.1 608.3 L910.4 610 L915.8 611.2 L921.2 612.2 L926.6 612.9 L931.6 613.2 L937.6 606.6 L943 575.6 L948.6 593 L954.2 608.3 L959.1 609.8" stroke="#ff0000" stroke-width="1.6" fill="none" stroke-linejoin="round"/>
<path d="M149.1 783.3a3.5 3.5 0 1 0 7 0a3.5 3.5 0 1 0 -7 0M150.6 784.6a3.5 3.5 0 1 0 7 0a3.5 3.5 0 1 0 -7 0M152.5 784.7a3.5 3.5 0 1 0 7 0a3.5 3.5 0 1 0 -7 0M153.8 784.4a3.5 3.5 0 1 0 7 0a3.5 3.5 0 1 0 -7 0M155.3 784.5a3.5 3.5 0 1 0 7 0a3.5 3.5 0 1 0 -7 0M156.9 782.9a3.5 3.5 0 1 0 7 0a3.5 3.5 0 1 0 -7 0M158.5 786.3a3.5 3.5 0 1 0 7 0a3.5 3.5 0 1 0 -7 0M160.1 782.8a3.5 3.5 0 1 0 7 0a3.5 3.5 0 1 0 -7 0M161.7 786.6a3.5 3.5 0 1 0 7 0a3.5 3.5 0 1 0 -7 0M163.3 785.9a3.5 3.5 0 1 0 7 0a3.5 3.5 0 1 0 -7 0M164.9 785.2a3.5 3.5 0 1 0 7 0a3.5 3.5 0 1 0 -7 0M166.6 784.3a3.5 3.5 0 1 0 7 0a3.5 3.5 0 1 0 -7 0M168.2 786.1a3.5 3.5 0 1 0 7 0a3.5 3.5 0 1 0 -7 0M169.9 788.5a3.5 3.5 0 1 0 7 0a3.5 3.5 0 1 0 -7 0M171.5 787.6a3.5 3.5 0 1 0 7 0a3.5 3.5 0 1 0 -7 0M173.2 783.7a3.5 3.5 0 1 0 7 0a3.5 3.5 0 1 0 -7 0M174.8 783.3a3.5 3.5 0 1 0 7 0a3.5 3.5 0 1 0 -7 0M176.5 781.6a3.5 3.5 0 1 0 7 0a3.5 3.5 0 1 0 -7 0M178.2 783.3a3.5 3.5 0 1 0 7 0a3.5 3.5 0 1 0 -7 0M179.9 781.9a3.5 3.5 0 1 0 7 0a3.5 3.5 0 1 0 -7 0M181.6 782.1a3.5 3.5 0 1 0 7 0a3.5 3.5 0 1 0 -7 0M183.3 784.7a3.5 3.5 0 1 0 7 0a3.5 3.5 0 1 0 -7 0M185 782.4a3.5 3.5 0 1 0 7 0a3.5 3.5 0 1 0 -7 0M186.8 781.6a3.5 3.5 0 1 0 7 0a3.5 3.5 0 1 0 -7 0M188.5 782.9a3.5 3.5 0 1 0 7 0a3.5 3.5 0 1 0 -7 0M190.3 778.8a3.5 3.5 0 1 0 7 0a3.5 3.5 0 1 0 -7 0M192 775.5a3.5 3.5 0 1 0 7 0a3.5 3.5 0 1 0 -7 0M193.8 776a3.5 3.5 0 1 0 7 0a3.5 3.5 0 1 0 -7 0M195.6 774a3.5 3.5 0 1 0 7 0a3.5 3.5 0 1 0 -7 0M197.3 773.4a3.5 3.5 0 1 0 7 0a3.5 3.5 0 1 0 -7 0M199.1 770.3a3.5 3.5 0 1 0 7 0a3.5 3.5 0 1 0 -7 0M200.9 760.1a3.5 3.5 0 1 0 7 0a3.5 3.5 0 1 0 -7 0M202.7 751a3.5 3.5 0 1 0 7 0a3.5 3.5 0 1 0 -7 0M204.6 738.5a3.5 3.5 0 1 0 7 0a3.5 3.5 0 1 0 -7 0M206.9 726.1a3.5 3.5 0 1 0 7 0a3.5 3.5 0 1 0 -7 0M208.2 727.7a3.5 3.5 0 1 0 7 0a3.5 3.5 0 1 0 -7 0M210.1 737.3a3.5 3.5 0 1 0 7 0a3.5 3.5 0 1 0 -7 0M211.9 744.6a3.5 3.5 0 1 0 7 0a3.5 3.5 0 1 0 -7 0M213.8 753.7a3.5 3.5 0 1 0 7 0a3.5 3.5 0 1 0 -7 0M215.7 762.4a3.5 3.5 0 1 0 7 0a3.5 3.5 0 1 0 -7 0M217.6 769.6a3.5 3.5 0 1 0 7 0a3.5 3.5 0 1 0 -7 0M219.5 771.5a3.5 3.5 0 1 0 7 0a3.5 3.5 0 1 0 -7 0M221.4 774.8a3.5 3.5 0 1 0 7 0a3.5 3.5 0 1 0 -7 0M223.3 776.2a3.5 3.5 0 1 0 7 0a3.5 3.5 0 1 0 -7 0M225.2 774.8a3.5 3.5 0 1 0 7 0a3.5 3.5 0 1 0 -7 0M227.1 779.2a3.5 3.5 0 1 0 7 0a3.5 3.5 0 1 0 -7 0M229.1 775.1a3.5 3.5 0 1 0 7 0a3.5 3.5 0 1 0 -7 0M231 775.5a3.5 3.5 0 1 0 7 0a3.5 3.5 0 1 0 -7 0M233 774.9a3.5 3.5 0 1 0 7 0a3.5 3.5 0 1 0 -7 0M235 771.4a3.5 3.5 0 1 0 7 0a3.5 3.5 0 1 0 -7 0M237 774.5a3.5 3.5 0 1 0 7 0a3.5 3.5 0 1 0 -7 0M238.9 774.2a3.5 3.5 0 1 0 7 0a3.5 3.5 0 1 0 -7 0M241 774.7a3.5 3.5 0 1 0 7 0a3.5 3.5 0 1 0 -7 0M243 772a3.5 3.5 0 1 0 7 0a3.5 3.5 0 1 0 -7 0M245 771.1a3.5 3.5 0 1 0 7 0a3.5 3.5 0 1 0 -7 0M247 774.5a3.5 3.5 0 1 0 7 0a3.5 3.5 0 1 0 -7 0M249.1 771.4a3.5 3.5 0 1 0 7 0a3.5 3.5 0 1 0 -7 0M251.5 763.3a3.5 3.5 0 1 0 7 0a3.5 3.5 0 1 0 -7 0M253.2 765.2a3.5 3.5 0 1 0 7 0a3.5 3.5 0 1 0 -7 0M255.3 769.9a3.5 3.5 0 1 0 7 0a3.5 3.5 0 1 0 -7 0M257.3 765.4a3.5 3.5 0 1 0 7 0a3.5 3.5 0 1 0 -7 0M259.4 767.1a3.5 3.5 0 1 0 7 0a3.5 3.5 0 1 0 -7 0M261.5 765.4a3.5 3.5 0 1 0 7 0a3.5 3.5 0 1 0 -7 0M263.7 762.1a3.5 3.5 0 1 0 7 0a3.5 3.5 0 1 0 -7 0M265.8 758a3.5 3.5 0 1 0 7 0a3.5 3.5 0 1 0 -7 0M267.9 755.4a3.5 3.5 0 1 0 7 0a3.5 3.5 0 1 0 -7 0M270.1 752.3a3.5 3.5 0 1 0 7 0a3.5 3.5 0 1 0 -7 0M272.2 745a3.5 3.5 0 1 0 7 0a3.5 3.5 0 1 0 -7 0M274.4 739.7a3.5 3.5 0 1 0 7 0a3.5 3.5 0 1 0 -7 0M276.6 735.4a3.5 3.5 0 1 0 7 0a3.5 3.5 0 1 0 -7 0M278.8 726.5a3.5 3.5 0 1 0 7 0a3.5 3.5 0 1 0 -7 0M281 719.3a3.5 3.5 0 1 0 7 0a3.5 3.5 0 1 0 -7 0M283.2 711.8a3.5 3.5 0 1 0 7 0a3.5 3.5 0 1 0 -7 0M285.4 705.6a3.5 3.5 0 1 0 7 0a3.5 3.5 0 1 0 -7 0M287.7 702.4a3.5 3.5 0 1 0 7 0a3.5 3.5 0 1 0 -7 0M290.1 699a3.5 3.5 0 1 0 7 0a3.5 3.5 0 1 0 -7 0M292.2 699.3a3.5 3.5 0 1 0 7 0a3.5 3.5 0 1 0 -7 0M294.5 701.2a3.5 3.5 0 1 0 7 0a3.5 3.5 0 1 0 -7 0M296.7 707.5a3.5 3.5 0 1 0 7 0a3.5 3.5 0 1 0 -7 0M299 707.5a3.5 3.5 0 1 0 7 0a3.5 3.5 0 1 0 -7 0M301.3 709a3.5 3.5 0 1 0 7 0a3.5 3.5 0 1 0 -7 0M303.7 711.4a3.5 3.5 0 1 0 7 0a3.5 3.5 0 1 0 -7 0M306 717.9a3.5 3.5 0 1 0 7 0a3.5 3.5 0 1 0 -7 0M308.3 721.9a3.5 3.5 0 1 0 7 0a3.5 3.5 0 1 0 -7 0M310.7 727.1a3.5 3.5 0 1 0 7 0a3.5 3.5 0 1 0 -7 0M313 735.9a3.5 3.5 0 1 0 7 0a3.5 3.5 0 1 0 -7 0M315.4 742.6a3.5 3.5 0 1 0 7 0a3.5 3.5 0 1 0 -7 0M317.8 745.3a3.5 3.5 0 1 0 7 0a3.5 3.5 0 1 0 -7 0M320.2 748.7a3.5 3.5 0 1 0 7 0a3.5 3.5 0 1 0 -7 0M322.6 750.1a3.5 3.5 0 1 0 7 0a3.5 3.5 0 1 0 -7 0M325.1 749.4a3.5 3.5 0 1 0 7 0a3.5 3.5 0 1 0 -7 0M327.5 750.9a3.5 3.5 0 1 0 7 0a3.5 3.5 0 1 0 -7 0M329.9 751.4a3.5 3.5 0 1 0 7 0a3.5 3.5 0 1 0 -7 0M332.4 747.8a3.5 3.5 0 1 0 7 0a3.5 3.5 0 1 0 -7 0M334.9 745.3a3.5 3.5 0 1 0 7 0a3.5 3.5 0 1 0 -7 0M337.4 742.8a3.5 3.5 0 1 0 7 0a3.5 3.5 0 1 0 -7 0M339.9 740.3a3.5 3.5 0 1 0 7 0a3.5 3.5 0 1 0 -7 0M342.4 735.3a3.5 3.5 0 1 0 7 0a3.5 3.5 0 1 0 -7 0M345.6 735.9a3.5 3.5 0 1 0 7 0a3.5 3.5 0 1 0 -7 0M347.4 735.7a3.5 3.5 0 1 0 7 0a3.5 3.5 0 1 0 -7 0M350 739a3.5 3.5 0 1 0 7 0a3.5 3.5 0 1 0 -7 0M352.6 744.7a3.5 3.5 0 1 0 7 0a3.5 3.5 0 1 0 -7 0M355.1 749.9a3.5 3.5 0 1 0 7 0a3.5 3.5 0 1 0 -7 0M357.7 757.5a3.5 3.5 0 1 0 7 0a3.5 3.5 0 1 0 -7 0M360.3 763.5a3.5 3.5 0 1 0 7 0a3.5 3.5 0 1 0 -7 0M362.9 766.2a3.5 3.5 0 1 0 7 0a3.5 3.5 0 1 0 -7 0M365.6 770.1a3.5 3.5 0 1 0 7 0a3.5 3.5 0 1 0 -7 0M368.2 773.3a3.5 3.5 0 1 0 7 0a3.5 3.5 0 1 0 -7 0M370.9 774.2a3.5 3.5 0 1 0 7 0a3.5 3.5 0 1 0 -7 0M373.5 778.2a3.5 3.5 0 1 0 7 0a3.5 3.5 0 1 0 -7 0M376.2 777.1a3.5 3.5 0 1 0 7 0a3.5 3.5 0 1 0 -7 0M378.9 776.9a3.5 3.5 0 1 0 7 0a3.5 3.5 0 1 0 -7 0M381.6 777.2a3.5 3.5 0 1 0 7 0a3.5 3.5 0 1 0 -7 0M384.4 776.8a3.5 3.5 0 1 0 7 0a3.5 3.5 0 1 0 -7 0M387.1 775.9a3.5 3.5 0 1 0 7 0a3.5 3.5 0 1 0 -7 0M389.8 778.4a3.5 3.5 0 1 0 7 0a3.5 3.5 0 1 0 -7 0M392.6 778a3.5 3.5 0 1 0 7 0a3.5 3.5 0 1 0 -7 0M395.4 779.3a3.5 3.5 0 1 0 7 0a3.5 3.5 0 1 0 -7 0M398.2 780.7a3.5 3.5 0 1 0 7 0a3.5 3.5 0 1 0 -7 0M401 778a3.5 3.5 0 1 0 7 0a3.5 3.5 0 1 0 -7 0M403.8 779.3a3.5 3.5 0 1 0 7 0a3.5 3.5 0 1 0 -7 0M406.6 775.9a3.5 3.5 0 1 0 7 0a3.5 3.5 0 1 0 -7 0M409.5 778.1a3.5 3.5 0 1 0 7 0a3.5 3.5 0 1 0 -7 0M411 776.1a3.5 3.5 0 1 0 7 0a3.5 3.5 0 1 0 -7 0M415.2 778.3a3.5 3.5 0 1 0 7 0a3.5 3.5 0 1 0 -7 0M418.1 778.7a3.5 3.5 0 1 0 7 0a3.5 3.5 0 1 0 -7 0M421 778.6a3.5 3.5 0 1 0 7 0a3.5 3.5 0 1 0 -7 0M424 776.4a3.5 3.5 0 1 0 7 0a3.5 3.5 0 1 0 -7 0M426.9 776.9a3.5 3.5 0 1 0 7 0a3.5 3.5 0 1 0 -7 0M429.8 778a3.5 3.5 0 1 0 7 0a3.5 3.5 0 1 0 -7 0M432.8 779.9a3.5 3.5 0 1 0 7 0a3.5 3.5 0 1 0 -7 0M435.8 781.2a3.5 3.5 0 1 0 7 0a3.5 3.5 0 1 0 -7 0M438.8 778.1a3.5 3.5 0 1 0 7 0a3.5 3.5 0 1 0 -7 0M441.8 778.9a3.5 3.5 0 1 0 7 0a3.5 3.5 0 1 0 -7 0M444.8 778.3a3.5 3.5 0 1 0 7 0a3.5 3.5 0 1 0 -7 0M447.9 778.1a3.5 3.5 0 1 0 7 0a3.5 3.5 0 1 0 -7 0M450.9 778.6a3.5 3.5 0 1 0 7 0a3.5 3.5 0 1 0 -7 0M454 775.8a3.5 3.5 0 1 0 7 0a3.5 3.5 0 1 0 -7 0M457.1 776a3.5 3.5 0 1 0 7 0a3.5 3.5 0 1 0 -7 0M460.2 774.7a3.5 3.5 0 1 0 7 0a3.5 3.5 0 1 0 -7 0M463.3 769.2a3.5 3.5 0 1 0 7 0a3.5 3.5 0 1 0 -7 0M466.5 771.3a3.5 3.5 0 1 0 7 0a3.5 3.5 0 1 0 -7 0M469.6 771.4a3.5 3.5 0 1 0 7 0a3.5 3.5 0 1 0 -7 0M472.8 769.3a3.5 3.5 0 1 0 7 0a3.5 3.5 0 1 0 -7 0M476 767a3.5 3.5 0 1 0 7 0a3.5 3.5 0 1 0 -7 0M479.2 764.6a3.5 3.5 0 1 0 7 0a3.5 3.5 0 1 0 -7 0M482.4 764.9a3.5 3.5 0 1 0 7 0a3.5 3.5 0 1 0 -7 0M485.6 758.7a3.5 3.5 0 1 0 7 0a3.5 3.5 0 1 0 -7 0M488.9 748.9a3.5 3.5 0 1 0 7 0a3.5 3.5 0 1 0 -7 0M492.1 735.1a3.5 3.5 0 1 0 7 0a3.5 3.5 0 1 0 -7 0M495.4 704.4a3.5 3.5 0 1 0 7 0a3.5 3.5 0 1 0 -7 0M498.7 655.2a3.5 3.5 0 1 0 7 0a3.5 3.5 0 1 0 -7 0M500.7 634.1a3.5 3.5 0 1 0 7 0a3.5 3.5 0 1 0 -7 0M505.4 659.7a3.5 3.5 0 1 0 7 0a3.5 3.5 0 1 0 -7 0M508.7 685.4a3.5 3.5 0 1 0 7 0a3.5 3.5 0 1 0 -7 0M512.1 709.7a3.5 3.5 0 1 0 7 0a3.5 3.5 0 1 0 -7 0M515.5 726.5a3.5 3.5 0 1 0 7 0a3.5 3.5 0 1 0 -7 0M518.9 740.3a3.5 3.5 0 1 0 7 0a3.5 3.5 0 1 0 -7 0M522.3 747.7a3.5 3.5 0 1 0 7 0a3.5 3.5 0 1 0 -7 0M525.7 751.7a3.5 3.5 0 1 0 7 0a3.5 3.5 0 1 0 -7 0M529.2 755a3.5 3.5 0 1 0 7 0a3.5 3.5 0 1 0 -7 0M532.6 752.8a3.5 3.5 0 1 0 7 0a3.5 3.5 0 1 0 -7 0M536.1 753.8a3.5 3.5 0 1 0 7 0a3.5 3.5 0 1 0 -7 0M539.6 752.7a3.5 3.5 0 1 0 7 0a3.5 3.5 0 1 0 -7 0M544.5 750.4a3.5 3.5 0 1 0 7 0a3.5 3.5 0 1 0 -7 0M546.7 750.2a3.5 3.5 0 1 0 7 0a3.5 3.5 0 1 0 -7 0M550.2 752.2a3.5 3.5 0 1 0 7 0a3.5 3.5 0 1 0 -7 0M553.8 753a3.5 3.5 0 1 0 7 0a3.5 3.5 0 1 0 -7 0M557.4 753.1a3.5 3.5 0 1 0 7 0a3.5 3.5 0 1 0 -7 0M561 750.4a3.5 3.5 0 1 0 7 0a3.5 3.5 0 1 0 -7 0M564.6 748.3a3.5 3.5 0 1 0 7 0a3.5 3.5 0 1 0 -7 0M568.3 744.6a3.5 3.5 0 1 0 7 0a3.5 3.5 0 1 0 -7 0M572 740.4a3.5 3.5 0 1 0 7 0a3.5 3.5 0 1 0 -7 0M575.6 735.7a3.5 3.5 0 1 0 7 0a3.5 3.5 0 1 0 -7 0M579.3 732.1a3.5 3.5 0 1 0 7 0a3.5 3.5 0 1 0 -7 0M583.1 728.3a3.5 3.5 0 1 0 7 0a3.5 3.5 0 1 0 -7 0M586.8 723.7a3.5 3.5 0 1 0 7 0a3.5 3.5 0 1 0 -7 0M591.5 704.7a3.5 3.5 0 1 0 7 0a3.5 3.5 0 1 0 -7 0M594.3 709.5a3.5 3.5 0 1 0 7 0a3.5 3.5 0 1 0 -7 0M598.1 734.6a3.5 3.5 0 1 0 7 0a3.5 3.5 0 1 0 -7 0M602 754.1a3.5 3.5 0 1 0 7 0a3.5 3.5 0 1 0 -7 0M605.8 760a3.5 3.5 0 1 0 7 0a3.5 3.5 0 1 0 -7 0M609.6 760.2a3.5 3.5 0 1 0 7 0a3.5 3.5 0 1 0 -7 0M613.5 764.2a3.5 3.5 0 1 0 7 0a3.5 3.5 0 1 0 -7 0M617.4 767.5a3.5 3.5 0 1 0 7 0a3.5 3.5 0 1 0 -7 0M621.3 766.5a3.5 3.5 0 1 0 7 0a3.5 3.5 0 1 0 -7 0M625.3 766.2a3.5 3.5 0 1 0 7 0a3.5 3.5 0 1 0 -7 0M631.2 761.9a3.5 3.5 0 1 0 7 0a3.5 3.5 0 1 0 -7 0M633.2 764.4a3.5 3.5 0 1 0 7 0a3.5 3.5 0 1 0 -7 0M637.2 763.4a3.5 3.5 0 1 0 7 0a3.5 3.5 0 1 0 -7 0M641.2 766.3a3.5 3.5 0 1 0 7 0a3.5 3.5 0 1 0 -7 0M645.2 760.5a3.5 3.5 0 1 0 7 0a3.5 3.5 0 1 0 -7 0M649.3 763.5a3.5 3.5 0 1 0 7 0a3.5 3.5 0 1 0 -7 0M653.4 767a3.5 3.5 0 1 0 7 0a3.5 3.5 0 1 0 -7 0M657.5 770.6a3.5 3.5 0 1 0 7 0a3.5 3.5 0 1 0 -7 0M661.6 766.7a3.5 3.5 0 1 0 7 0a3.5 3.5 0 1 0 -7 0M665.7 763a3.5 3.5 0 1 0 7 0a3.5 3.5 0 1 0 -7 0M669.9 762.6a3.5 3.5 0 1 0 7 0a3.5 3.5 0 1 0 -7 0M674 761.3a3.5 3.5 0 1 0 7 0a3.5 3.5 0 1 0 -7 0M678.3 758.3a3.5 3.5 0 1 0 7 0a3.5 3.5 0 1 0 -7 0M682.5 762.3a3.5 3.5 0 1 0 7 0a3.5 3.5 0 1 0 -7 0M686.7 766.6a3.5 3.5 0 1 0 7 0a3.5 3.5 0 1 0 -7 0M691 768a3.5 3.5 0 1 0 7 0a3.5 3.5 0 1 0 -7 0M695.3 769.7a3.5 3.5 0 1 0 7 0a3.5 3.5 0 1 0 -7 0M699.6 771.9a3.5 3.5 0 1 0 7 0a3.5 3.5 0 1 0 -7 0M703.9 768.5a3.5 3.5 0 1 0 7 0a3.5 3.5 0 1 0 -7 0M708.3 768.1a3.5 3.5 0 1 0 7 0a3.5 3.5 0 1 0 -7 0M712.6 767.9a3.5 3.5 0 1 0 7 0a3.5 3.5 0 1 0 -7 0M717 770.6a3.5 3.5 0 1 0 7 0a3.5 3.5 0 1 0 -7 0M721.4 768.6a3.5 3.5 0 1 0 7 0a3.5 3.5 0 1 0 -7 0M725.9 768.6a3.5 3.5 0 1 0 7 0a3.5 3.5 0 1 0 -7 0M730.4 769.1a3.5 3.5 0 1 0 7 0a3.5 3.5 0 1 0 -7 0M734.8 767a3.5 3.5 0 1 0 7 0a3.5 3.5 0 1 0 -7 0M739.3 767.6a3.5 3.5 0 1 0 7 0a3.5 3.5 0 1 0 -7 0M743.9 767a3.5 3.5 0 1 0 7 0a3.5 3.5 0 1 0 -7 0M748.4 763.9a3.5 3.5 0 1 0 7 0a3.5 3.5 0 1 0 -7 0M753 755.3a3.5 3.5 0 1 0 7 0a3.5 3.5 0 1 0 -7 0M757 752.8a3.5 3.5 0 1 0 7 0a3.5 3.5 0 1 0 -7 0M762.2 761.4a3.5 3.5 0 1 0 7 0a3.5 3.5 0 1 0 -7 0M766.9 765.3a3.5 3.5 0 1 0 7 0a3.5 3.5 0 1 0 -7 0M771.5 762.9a3.5 3.5 0 1 0 7 0a3.5 3.5 0 1 0 -7 0M776.2 764.9a3.5 3.5 0 1 0 7 0a3.5 3.5 0 1 0 -7 0M780.9 760.1a3.5 3.5 0 1 0 7 0a3.5 3.5 0 1 0 -7 0M785.7 759.9a3.5 3.5 0 1 0 7 0a3.5 3.5 0 1 0 -7 0M790.5 757.3a3.5 3.5 0 1 0 7 0a3.5 3.5 0 1 0 -7 0M795.2 754.9a3.5 3.5 0 1 0 7 0a3.5 3.5 0 1 0 -7 0M800.1 746.2a3.5 3.5 0 1 0 7 0a3.5 3.5 0 1 0 -7 0M804.5 729.8a3.5 3.5 0 1 0 7 0a3.5 3.5 0 1 0 -7 0M809.8 724.9a3.5 3.5 0 1 0 7 0a3.5 3.5 0 1 0 -7 0M814.6 737.4a3.5 3.5 0 1 0 7 0a3.5 3.5 0 1 0 -7 0M819.6 736.9a3.5 3.5 0 1 0 7 0a3.5 3.5 0 1 0 -7 0M824.5 738.1a3.5 3.5 0 1 0 7 0a3.5 3.5 0 1 0 -7 0M829.4 727.9a3.5 3.5 0 1 0 7 0a3.5 3.5 0 1 0 -7 0M834.4 720.9a3.5 3.5 0 1 0 7 0a3.5 3.5 0 1 0 -7 0M839.4 706.6a3.5 3.5 0 1 0 7 0a3.5 3.5 0 1 0 -7 0M842.5 701.2a3.5 3.5 0 1 0 7 0a3.5 3.5 0 1 0 -7 0M849.5 726.5a3.5 3.5 0 1 0 7 0a3.5 3.5 0 1 0 -7 0M854.6 728.5a3.5 3.5 0 1 0 7 0a3.5 3.5 0 1 0 -7 0M859.7 727.9a3.5 3.5 0 1 0 7 0a3.5 3.5 0 1 0 -7 0M864.9 737.3a3.5 3.5 0 1 0 7 0a3.5 3.5 0 1 0 -7 0M870 743.1a3.5 3.5 0 1 0 7 0a3.5 3.5 0 1 0 -7 0M875.2 749.5a3.5 3.5 0 1 0 7 0a3.5 3.5 0 1 0 -7 0M880.4 754.7a3.5 3.5 0 1 0 7 0a3.5 3.5 0 1 0 -7 0M885.7 754.7a3.5 3.5 0 1 0 7 0a3.5 3.5 0 1 0 -7 0M891 749.8a3.5 3.5 0 1 0 7 0a3.5 3.5 0 1 0 -7 0M896.3 747.8a3.5 3.5 0 1 0 7 0a3.5 3.5 0 1 0 -7 0M901.6 750.2a3.5 3.5 0 1 0 7 0a3.5 3.5 0 1 0 -7 0M906.9 758.1a3.5 3.5 0 1 0 7 0a3.5 3.5 0 1 0 -7 0M912.3 751.2a3.5 3.5 0 1 0 7 0a3.5 3.5 0 1 0 -7 0M917.7 759.4a3.5 3.5 0 1 0 7 0a3.5 3.5 0 1 0 -7 0M923.1 762.5a3.5 3.5 0 1 0 7 0a3.5 3.5 0 1 0 -7 0M928.6 763.9a3.5 3.5 0 1 0 7 0a3.5 3.5 0 1 0 -7 0M934.1 754a3.5 3.5 0 1 0 7 0a3.5 3.5 0 1 0 -7 0M939.5 720.1a3.5 3.5 0 1 0 7 0a3.5 3.5 0 1 0 -7 0M945.1 737.9a3.5 3.5 0 1 0 7 0a3.5 3.5 0 1 0 -7 0M950.7 754.1a3.5 3.5 0 1 0 7 0a3.5 3.5 0 1 0 -7 0" fill="#080808"/>
<path d="M152 784 L152.6 783.8 L154.1 783.2 L156 783 L157.3 783.2 L158.8 783.7 L160.4 784.5 L162 785.2 L163.6 785.8 L165 786 L166.8 786 L168.4 785.9 L170.1 785.8 L171.7 785.6 L173.4 785.2 L175 784.3 L176.7 783.3 L178.3 782.4 L180 782 L181.7 782 L183.4 782.1 L185.1 782.2 L186.8 782.3 L189 782.4 L190.3 782.2 L192 781.3 L193.8 780 L195.5 778.4 L197.3 776.8 L199.1 774.9 L200.8 772.3 L202.6 768.1 L204.4 759 L206.2 748.6 L208.1 735.5 L210.4 725 L211.7 727.7 L213.6 736.2 L215.4 745.3 L217.3 755.3 L219.2 761.8 L221.1 767 L223 770.8 L224.9 772.7 L226.8 774 L228.7 774.8 L230 775 L232.6 774.7 L234.5 774.3 L236.5 773.7 L238.5 773 L240.5 772.4 L242.4 771.9 L244.5 771.6 L246.5 771.3 L248.5 771 L250.5 770.4 L252.6 768 L255 761 L256.7 763.3 L259 767 L260.8 766.5 L262.9 765 L265 762.7 L267.2 759.9 L269.3 757 L271.4 753.9 L273.6 750 L275.7 745.4 L277.9 740.2 L280.1 733.6 L282.3 725.8 L284.5 718.4 L286.7 711.1 L288.9 704.5 L291.2 699.4 L293.6 696 L295.7 697.6 L298 701.2 L300.2 704.2 L302.5 705.6 L304.8 707 L307.2 709.8 L309.5 715.8 L311.8 722.2 L314.2 728.8 L316.5 735 L318.9 740.2 L321.3 744.9 L323.7 747.6 L326.1 749.4 L328.6 750.6 L330.5 751 L333.4 750 L335.9 748.1 L338.4 745.6 L340.9 743.1 L343.4 740.1 L345.9 736.4 L349.1 734 L350.9 734.7 L353.5 737.3 L356.1 741.4 L358.6 749 L361.2 756.4 L363.8 761.1 L366.4 765.3 L369.1 768.8 L371.7 771.5 L374.4 773.2 L377 774.3 L379.7 775.2 L382.4 776.1 L385.1 776.7 L387.9 777.2 L390.6 777.5 L393.3 777.5 L396.1 777.5 L398.9 777.5 L401.7 777.5 L404.5 777.5 L407.3 777.5 L410.1 776.7 L413 775.6 L414.5 775.4 L418.7 777.5 L421.6 779 L424.5 779 L427.5 779 L430.4 779 L433.3 779 L436.3 779 L439.3 779 L442.3 779 L445.3 779 L448.3 778.7 L451.4 777.8 L454.4 776.4 L457.5 774.7 L460.6 773.2 L463.7 771.6 L466.8 769.9 L470 768.5 L473.1 767.7 L476.3 767.3 L479.5 766.7 L482.7 765.8 L485.9 763.2 L489.1 757.3 L492.4 749 L495.6 735.3 L498.9 703.3 L502.2 654.2 L504.2 635.6 L508.9 658.1 L512.2 684.9 L515.6 708.6 L519 726.5 L522.4 740.7 L525.8 746.8 L529.2 750.4 L532.7 752.7 L536 753.5 L539.6 752.7 L543.1 751 L548 749.6 L550.2 749.8 L553.7 750.7 L557.3 751.7 L560 752 L564.5 750.5 L568.1 747.8 L571.8 744.7 L575.5 741.2 L579.1 736.9 L582.8 732.4 L586.6 728.5 L590.3 724.2 L595 704 L597.8 709.2 L601.6 733 L605.5 752.3 L609.3 759.4 L613.1 761.3 L617 762.5 L621.4 763 L624.8 762.7 L628.8 762 L634.7 761.3 L636.7 761.5 L640.7 762.6 L644.7 764.1 L648.7 765.3 L652.8 766.2 L656.9 766.9 L659.4 767 L661 766.9 L665.1 765.7 L669.2 763.8 L673.4 762.1 L677.5 761.3 L681.8 762.5 L686 764.8 L690.2 766.6 L694.5 767.7 L698.8 768.8 L703.1 769.5 L706.9 769.7 L711.8 769.7 L716.1 769.6 L720.5 769.5 L724.9 769.4 L729.4 769.2 L733.9 769.1 L738.3 768.8 L742.8 768.3 L747.4 767.5 L751.9 763.7 L756.5 754.7 L760.5 751.8 L765.7 761.9 L771.5 763.6 L775 763.3 L779.7 761.9 L784.4 759.9 L789.2 757.6 L794 755 L798.7 751.1 L803.6 744 L808 726.5 L813.3 727.3 L818.1 732.1 L823.1 734.9 L825.2 735.1 L828 734.5 L832.9 731.2 L837.9 722.5 L842.9 706 L846 699.9 L853 723.5 L858.1 729.2 L863.2 730.3 L868.4 735.1 L873.5 742 L878.7 746.1 L883.9 748.1 L889.2 749.6 L894.5 751.2 L899.8 753.4 L905.1 756 L910.4 758.1 L915.8 759.2 L921.2 760 L926.6 760.5 L931.6 760.7 L937.6 752.3 L943 720.4 L948.6 739.7 L954.2 756.4 L959.1 757.9" stroke="#ff0000" stroke-width="1.6" fill="none" stroke-linejoin="round"/>
<path d="M149.1 929.7a3.5 3.5 0 1 0 7 0a3.5 3.5 0 1 0 -7 0M150.6 929.6a3.5 3.5 0 1 0 7 0a3.5 3.5 0 1 0 -7 0M152.5 931.1a3.5 3.5 0 1 0 7 0a3.5 3.5 0 1 0 -7 0M153.8 929.9a3.5 3.5 0 1 0 7 0a3.5 3.5 0 1 0 -7 0M155.3 930.8a3.5 3.5 0 1 0 7 0a3.5 3.5 0 1 0 -7 0M156.9 930.3a3.5 3.5 0 1 0 7 0a3.5 3.5 0 1 0 -7 0M158.5 929.4a3.5 3.5 0 1 0 7 0a3.5 3.5 0 1 0 -7 0M160.1 931.1a3.5 3.5 0 1 0 7 0a3.5 3.5 0 1 0 -7 0M161.7 928.8a3.5 3.5 0 1 0 7 0a3.5 3.5 0 1 0 -7 0M163.3 930.9a3.5 3.5 0 1 0 7 0a3.5 3.5 0 1 0 -7 0M164.9 932.8a3.5 3.5 0 1 0 7 0a3.5 3.5 0 1 0 -7 0M166.6 930.3a3.5 3.5 0 1 0 7 0a3.5 3.5 0 1 0 -7 0M168.2 927.3a3.5 3.5 0 1 0 7 0a3.5 3.5 0 1 0 -7 0M169.9 929.9a3.5 3.5 0 1 0 7 0a3.5 3.5 0 1 0 -7 0M171.5 928.2a3.5 3.5 0 1 0 7 0a3.5 3.5 0 1 0 -7 0M173.2 928.8a3.5 3.5 0 1 0 7 0a3.5 3.5 0 1 0 -7 0M174.8 925.9a3.5 3.5 0 1 0 7 0a3.5 3.5 0 1 0 -7 0M176.5 927.4a3.5 3.5 0 1 0 7 0a3.5 3.5 0 1 0 -7 0M178.2 928a3.5 3.5 0 1 0 7 0a3.5 3.5 0 1 0 -7 0M179.9 930.7a3.5 3.5 0 1 0 7 0a3.5 3.5 0 1 0 -7 0M181.6 928.8a3.5 3.5 0 1 0 7 0a3.5 3.5 0 1 0 -7 0M183.3 929.2a3.5 3.5 0 1 0 7 0a3.5 3.5 0 1 0 -7 0M185 927.9a3.5 3.5 0 1 0 7 0a3.5 3.5 0 1 0 -7 0M186.8 925.3a3.5 3.5 0 1 0 7 0a3.5 3.5 0 1 0 -7 0M188.5 930.5a3.5 3.5 0 1 0 7 0a3.5 3.5 0 1 0 -7 0M190.3 925.1a3.5 3.5 0 1 0 7 0a3.5 3.5 0 1 0 -7 0M192 928.7a3.5 3.5 0 1 0 7 0a3.5 3.5 0 1 0 -7 0M193.8 926a3.5 3.5 0 1 0 7 0a3.5 3.5 0 1 0 -7 0M195.6 925.1a3.5 3.5 0 1 0 7 0a3.5 3.5 0 1 0 -7 0M197.3 918.3a3.5 3.5 0 1 0 7 0a3.5 3.5 0 1 0 -7 0M199.1 916.6a3.5 3.5 0 1 0 7 0a3.5 3.5 0 1 0 -7 0M200.9 903.6a3.5 3.5 0 1 0 7 0a3.5 3.5 0 1 0 -7 0M202.7 891.2a3.5 3.5 0 1 0 7 0a3.5 3.5 0 1 0 -7 0M204.6 879.6a3.5 3.5 0 1 0 7 0a3.5 3.5 0 1 0 -7 0M206.9 867.5a3.5 3.5 0 1 0 7 0a3.5 3.5 0 1 0 -7 0M208.2 870.1a3.5 3.5 0 1 0 7 0a3.5 3.5 0 1 0 -7 0M210.1 876.6a3.5 3.5 0 1 0 7 0a3.5 3.5 0 1 0 -7 0M211.9 886.4a3.5 3.5 0 1 0 7 0a3.5 3.5 0 1 0 -7 0M213.8 896.7a3.5 3.5 0 1 0 7 0a3.5 3.5 0 1 0 -7 0M215.7 905a3.5 3.5 0 1 0 7 0a3.5 3.5 0 1 0 -7 0M217.6 913.6a3.5 3.5 0 1 0 7 0a3.5 3.5 0 1 0 -7 0M219.5 917.3a3.5 3.5 0 1 0 7 0a3.5 3.5 0 1 0 -7 0M221.4 919.8a3.5 3.5 0 1 0 7 0a3.5 3.5 0 1 0 -7 0M223.3 919a3.5 3.5 0 1 0 7 0a3.5 3.5 0 1 0 -7 0M225.2 920.3a3.5 3.5 0 1 0 7 0a3.5 3.5 0 1 0 -7 0M227.1 920.2a3.5 3.5 0 1 0 7 0a3.5 3.5 0 1 0 -7 0M229.1 918a3.5 3.5 0 1 0 7 0a3.5 3.5 0 1 0 -7 0M231 917.3a3.5 3.5 0 1 0 7 0a3.5 3.5 0 1 0 -7 0M233 917.3a3.5 3.5 0 1 0 7 0a3.5 3.5 0 1 0 -7 0M235 915.6a3.5 3.5 0 1 0 7 0a3.5 3.5 0 1 0 -7 0M237 916.8a3.5 3.5 0 1 0 7 0a3.5 3.5 0 1 0 -7 0M238.9 914.8a3.5 3.5 0 1 0 7 0a3.5 3.5 0 1 0 -7 0M241 914.4a3.5 3.5 0 1 0 7 0a3.5 3.5 0 1 0 -7 0M243 913.3a3.5 3.5 0 1 0 7 0a3.5 3.5 0 1 0 -7 0M245 913.9a3.5 3.5 0 1 0 7 0a3.5 3.5 0 1 0 -7 0M247 914.6a3.5 3.5 0 1 0 7 0a3.5 3.5 0 1 0 -7 0M249.1 911.7a3.5 3.5 0 1 0 7 0a3.5 3.5 0 1 0 -7 0M251.5 905.4a3.5 3.5 0 1 0 7 0a3.5 3.5 0 1 0 -7 0M253.2 906.4a3.5 3.5 0 1 0 7 0a3.5 3.5 0 1 0 -7 0M255.3 911.5a3.5 3.5 0 1 0 7 0a3.5 3.5 0 1 0 -7 0M257.3 911.1a3.5 3.5 0 1 0 7 0a3.5 3.5 0 1 0 -7 0M259.4 911.3a3.5 3.5 0 1 0 7 0a3.5 3.5 0 1 0 -7 0M261.5 905.6a3.5 3.5 0 1 0 7 0a3.5 3.5 0 1 0 -7 0M263.7 905.6a3.5 3.5 0 1 0 7 0a3.5 3.5 0 1 0 -7 0M265.8 903.8a3.5 3.5 0 1 0 7 0a3.5 3.5 0 1 0 -7 0M267.9 899.6a3.5 3.5 0 1 0 7 0a3.5 3.5 0 1 0 -7 0M270.1 894.7a3.5 3.5 0 1 0 7 0a3.5 3.5 0 1 0 -7 0M272.2 890.2a3.5 3.5 0 1 0 7 0a3.5 3.5 0 1 0 -7 0M274.4 885.2a3.5 3.5 0 1 0 7 0a3.5 3.5 0 1 0 -7 0M276.6 876.3a3.5 3.5 0 1 0 7 0a3.5 3.5 0 1 0 -7 0M278.8 869a3.5 3.5 0 1 0 7 0a3.5 3.5 0 1 0 -7 0M281 860.2a3.5 3.5 0 1 0 7 0a3.5 3.5 0 1 0 -7 0M283.2 851.5a3.5 3.5 0 1 0 7 0a3.5 3.5 0 1 0 -7 0M285.4 842.2a3.5 3.5 0 1 0 7 0a3.5 3.5 0 1 0 -7 0M287.7 835.5a3.5 3.5 0 1 0 7 0a3.5 3.5 0 1 0 -7 0M290.1 831a3.5 3.5 0 1 0 7 0a3.5 3.5 0 1 0 -7 0M292.2 831.9a3.5 3.5 0 1 0 7 0a3.5 3.5 0 1 0 -7 0M294.5 835.8a3.5 3.5 0 1 0 7 0a3.5 3.5 0 1 0 -7 0M296.7 840a3.5 3.5 0 1 0 7 0a3.5 3.5 0 1 0 -7 0M299 842.2a3.5 3.5 0 1 0 7 0a3.5 3.5 0 1 0 -7 0M301.3 844.4a3.5 3.5 0 1 0 7 0a3.5 3.5 0 1 0 -7 0M303.7 849.9a3.5 3.5 0 1 0 7 0a3.5 3.5 0 1 0 -7 0M306 856.3a3.5 3.5 0 1 0 7 0a3.5 3.5 0 1 0 -7 0M308.3 863.1a3.5 3.5 0 1 0 7 0a3.5 3.5 0 1 0 -7 0M310.7 869.1a3.5 3.5 0 1 0 7 0a3.5 3.5 0 1 0 -7 0M313 876.3a3.5 3.5 0 1 0 7 0a3.5 3.5 0 1 0 -7 0M315.4 880.3a3.5 3.5 0 1 0 7 0a3.5 3.5 0 1 0 -7 0M317.8 884.8a3.5 3.5 0 1 0 7 0a3.5 3.5 0 1 0 -7 0M320.2 889.7a3.5 3.5 0 1 0 7 0a3.5 3.5 0 1 0 -7 0M322.6 891.9a3.5 3.5 0 1 0 7 0a3.5 3.5 0 1 0 -7 0M325.1 893.8a3.5 3.5 0 1 0 7 0a3.5 3.5 0 1 0 -7 0M327.5 891.1a3.5 3.5 0 1 0 7 0a3.5 3.5 0 1 0 -7 0M329.9 891.8a3.5 3.5 0 1 0 7 0a3.5 3.5 0 1 0 -7 0M332.4 891.5a3.5 3.5 0 1 0 7 0a3.5 3.5 0 1 0 -7 0M334.9 888.2a3.5 3.5 0 1 0 7 0a3.5 3.5 0 1 0 -7 0M337.4 887a3.5 3.5 0 1 0 7 0a3.5 3.5 0 1 0 -7 0M339.9 881.7a3.5 3.5 0 1 0 7 0a3.5 3.5 0 1 0 -7 0M342.4 878.4a3.5 3.5 0 1 0 7 0a3.5 3.5 0 1 0 -7 0M345.6 872.9a3.5 3.5 0 1 0 7 0a3.5 3.5 0 1 0 -7 0M347.4 872.3a3.5 3.5 0 1 0 7 0a3.5 3.5 0 1 0 -7 0M350 876.1a3.5 3.5 0 1 0 7 0a3.5 3.5 0 1 0 -7 0M352.6 885.8a3.5 3.5 0 1 0 7 0a3.5 3.5 0 1 0 -7 0M355.1 891.6a3.5 3.5 0 1 0 7 0a3.5 3.5 0 1 0 -7 0M357.7 902.4a3.5 3.5 0 1 0 7 0a3.5 3.5 0 1 0 -7 0M360.3 905.3a3.5 3.5 0 1 0 7 0a3.5 3.5 0 1 0 -7 0M362.9 910.9a3.5 3.5 0 1 0 7 0a3.5 3.5 0 1 0 -7 0M365.6 913a3.5 3.5 0 1 0 7 0a3.5 3.5 0 1 0 -7 0M368.2 914.1a3.5 3.5 0 1 0 7 0a3.5 3.5 0 1 0 -7 0M370.9 917.6a3.5 3.5 0 1 0 7 0a3.5 3.5 0 1 0 -7 0M373.5 919.3a3.5 3.5 0 1 0 7 0a3.5 3.5 0 1 0 -7 0M376.2 919.8a3.5 3.5 0 1 0 7 0a3.5 3.5 0 1 0 -7 0M378.9 922.2a3.5 3.5 0 1 0 7 0a3.5 3.5 0 1 0 -7 0M381.6 919.5a3.5 3.5 0 1 0 7 0a3.5 3.5 0 1 0 -7 0M384.4 923.1a3.5 3.5 0 1 0 7 0a3.5 3.5 0 1 0 -7 0M387.1 922.9a3.5 3.5 0 1 0 7 0a3.5 3.5 0 1 0 -7 0M389.8 924a3.5 3.5 0 1 0 7 0a3.5 3.5 0 1 0 -7 0M392.6 922.4a3.5 3.5 0 1 0 7 0a3.5 3.5 0 1 0 -7 0M395.4 923.5a3.5 3.5 0 1 0 7 0a3.5 3.5 0 1 0 -7 0M398.2 921.9a3.5 3.5 0 1 0 7 0a3.5 3.5 0 1 0 -7 0M401 923.7a3.5 3.5 0 1 0 7 0a3.5 3.5 0 1 0 -7 0M403.8 925a3.5 3.5 0 1 0 7 0a3.5 3.5 0 1 0 -7 0M406.6 923.4a3.5 3.5 0 1 0 7 0a3.5 3.5 0 1 0 -7 0M410.1 918.4a3.5 3.5 0 1 0 7 0a3.5 3.5 0 1 0 -7 0M412.4 918.3a3.5 3.5 0 1 0 7 0a3.5 3.5 0 1 0 -7 0M415.2 921.5a3.5 3.5 0 1 0 7 0a3.5 3.5 0 1 0 -7 0M418.1 924.6a3.5 3.5 0 1 0 7 0a3.5 3.5 0 1 0 -7 0M421 924.5a3.5 3.5 0 1 0 7 0a3.5 3.5 0 1 0 -7 0M424 921.9a3.5 3.5 0 1 0 7 0a3.5 3.5 0 1 0 -7 0M426.9 925.4a3.5 3.5 0 1 0 7 0a3.5 3.5 0 1 0 -7 0M429.8 923.4a3.5 3.5 0 1 0 7 0a3.5 3.5 0 1 0 -7 0M432.8 924.8a3.5 3.5 0 1 0 7 0a3.5 3.5 0 1 0 -7 0M435.8 925.1a3.5 3.5 0 1 0 7 0a3.5 3.5 0 1 0 -7 0M438.8 924.2a3.5 3.5 0 1 0 7 0a3.5 3.5 0 1 0 -7 0M441.8 923.5a3.5 3.5 0 1 0 7 0a3.5 3.5 0 1 0 -7 0M444.8 923.2a3.5 3.5 0 1 0 7 0a3.5 3.5 0 1 0 -7 0M447.9 924.1a3.5 3.5 0 1 0 7 0a3.5 3.5 0 1 0 -7 0M450.9 922.4a3.5 3.5 0 1 0 7 0a3.5 3.5 0 1 0 -7 0M454 920.6a3.5 3.5 0 1 0 7 0a3.5 3.5 0 1 0 -7 0M457.1 919.1a3.5 3.5 0 1 0 7 0a3.5 3.5 0 1 0 -7 0M460.2 919a3.5 3.5 0 1 0 7 0a3.5 3.5 0 1 0 -7 0M463.3 916.5a3.5 3.5 0 1 0 7 0a3.5 3.5 0 1 0 -7 0M466.5 914.6a3.5 3.5 0 1 0 7 0a3.5 3.5 0 1 0 -7 0M469.6 913.7a3.5 3.5 0 1 0 7 0a3.5 3.5 0 1 0 -7 0M472.8 911.8a3.5 3.5 0 1 0 7 0a3.5 3.5 0 1 0 -7 0M476 912.4a3.5 3.5 0 1 0 7 0a3.5 3.5 0 1 0 -7 0M479.2 910.9a3.5 3.5 0 1 0 7 0a3.5 3.5 0 1 0 -7 0M482.4 908.7a3.5 3.5 0 1 0 7 0a3.5 3.5 0 1 0 -7 0M485.6 901.3a3.5 3.5 0 1 0 7 0a3.5 3.5 0 1 0 -7 0M488.9 891.3a3.5 3.5 0 1 0 7 0a3.5 3.5 0 1 0 -7 0M492.1 876.4a3.5 3.5 0 1 0 7 0a3.5 3.5 0 1 0 -7 0M495.4 844.7a3.5 3.5 0 1 0 7 0a3.5 3.5 0 1 0 -7 0M498.7 797.2a3.5 3.5 0 1 0 7 0a3.5 3.5 0 1 0 -7 0M500.7 778.7a3.5 3.5 0 1 0 7 0a3.5 3.5 0 1 0 -7 0M505.4 803.6a3.5 3.5 0 1 0 7 0a3.5 3.5 0 1 0 -7 0M508.7 830.2a3.5 3.5 0 1 0 7 0a3.5 3.5 0 1 0 -7 0M512.1 853.3a3.5 3.5 0 1 0 7 0a3.5 3.5 0 1 0 -7 0M515.5 871.4a3.5 3.5 0 1 0 7 0a3.5 3.5 0 1 0 -7 0M518.9 886.2a3.5 3.5 0 1 0 7 0a3.5 3.5 0 1 0 -7 0M522.3 893.5a3.5 3.5 0 1 0 7 0a3.5 3.5 0 1 0 -7 0M525.7 896.4a3.5 3.5 0 1 0 7 0a3.5 3.5 0 1 0 -7 0M529.2 897.1a3.5 3.5 0 1 0 7 0a3.5 3.5 0 1 0 -7 0M532.6 898.4a3.5 3.5 0 1 0 7 0a3.5 3.5 0 1 0 -7 0M536.1 897.5a3.5 3.5 0 1 0 7 0a3.5 3.5 0 1 0 -7 0M539.6 894.9a3.5 3.5 0 1 0 7 0a3.5 3.5 0 1 0 -7 0M544.5 891.4a3.5 3.5 0 1 0 7 0a3.5 3.5 0 1 0 -7 0M546.7 894.3a3.5 3.5 0 1 0 7 0a3.5 3.5 0 1 0 -7 0M550.2 897.6a3.5 3.5 0 1 0 7 0a3.5 3.5 0 1 0 -7 0M553.8 900.6a3.5 3.5 0 1 0 7 0a3.5 3.5 0 1 0 -7 0M557.4 899.8a3.5 3.5 0 1 0 7 0a3.5 3.5 0 1 0 -7 0M561 897.6a3.5 3.5 0 1 0 7 0a3.5 3.5 0 1 0 -7 0M564.6 894.3a3.5 3.5 0 1 0 7 0a3.5 3.5 0 1 0 -7 0M568.3 892.2a3.5 3.5 0 1 0 7 0a3.5 3.5 0 1 0 -7 0M572 886.2a3.5 3.5 0 1 0 7 0a3.5 3.5 0 1 0 -7 0M575.6 882.3a3.5 3.5 0 1 0 7 0a3.5 3.5 0 1 0 -7 0M579.3 877.2a3.5 3.5 0 1 0 7 0a3.5 3.5 0 1 0 -7 0M583.1 873a3.5 3.5 0 1 0 7 0a3.5 3.5 0 1 0 -7 0M586.8 869.6a3.5 3.5 0 1 0 7 0a3.5 3.5 0 1 0 -7 0M591.5 846.7a3.5 3.5 0 1 0 7 0a3.5 3.5 0 1 0 -7 0M594.3 851.4a3.5 3.5 0 1 0 7 0a3.5 3.5 0 1 0 -7 0M598.1 875.8a3.5 3.5 0 1 0 7 0a3.5 3.5 0 1 0 -7 0M602 896.7a3.5 3.5 0 1 0 7 0a3.5 3.5 0 1 0 -7 0M605.8 904.9a3.5 3.5 0 1 0 7 0a3.5 3.5 0 1 0 -7 0M609.6 906.9a3.5 3.5 0 1 0 7 0a3.5 3.5 0 1 0 -7 0M613.5 907.5a3.5 3.5 0 1 0 7 0a3.5 3.5 0 1 0 -7 0M617.4 908.1a3.5 3.5 0 1 0 7 0a3.5 3.5 0 1 0 -7 0M621.3 906.8a3.5 3.5 0 1 0 7 0a3.5 3.5 0 1 0 -7 0M625.3 908.6a3.5 3.5 0 1 0 7 0a3.5 3.5 0 1 0 -7 0M629.2 907.7a3.5 3.5 0 1 0 7 0a3.5 3.5 0 1 0 -7 0M633.1 907.7a3.5 3.5 0 1 0 7 0a3.5 3.5 0 1 0 -7 0M637.2 908.9a3.5 3.5 0 1 0 7 0a3.5 3.5 0 1 0 -7 0M641.2 912.2a3.5 3.5 0 1 0 7 0a3.5 3.5 0 1 0 -7 0M645.2 910.4a3.5 3.5 0 1 0 7 0a3.5 3.5 0 1 0 -7 0M649.3 911.5a3.5 3.5 0 1 0 7 0a3.5 3.5 0 1 0 -7 0M653.4 914.3a3.5 3.5 0 1 0 7 0a3.5 3.5 0 1 0 -7 0M657.5 915.4a3.5 3.5 0 1 0 7 0a3.5 3.5 0 1 0 -7 0M661.6 912a3.5 3.5 0 1 0 7 0a3.5 3.5 0 1 0 -7 0M665.7 912.2a3.5 3.5 0 1 0 7 0a3.5 3.5 0 1 0 -7 0M669.9 911.2a3.5 3.5 0 1 0 7 0a3.5 3.5 0 1 0 -7 0M674 906.9a3.5 3.5 0 1 0 7 0a3.5 3.5 0 1 0 -7 0M678.3 911.8a3.5 3.5 0 1 0 7 0a3.5 3.5 0 1 0 -7 0M682.5 915.5a3.5 3.5 0 1 0 7 0a3.5 3.5 0 1 0 -7 0M686.7 915.8a3.5 3.5 0 1 0 7 0a3.5 3.5 0 1 0 -7 0M691 915.7a3.5 3.5 0 1 0 7 0a3.5 3.5 0 1 0 -7 0M695.3 915.3a3.5 3.5 0 1 0 7 0a3.5 3.5 0 1 0 -7 0M699.6 914.7a3.5 3.5 0 1 0 7 0a3.5 3.5 0 1 0 -7 0M703.9 913a3.5 3.5 0 1 0 7 0a3.5 3.5 0 1 0 -7 0M708.3 915.4a3.5 3.5 0 1 0 7 0a3.5 3.5 0 1 0 -7 0M712.6 912.1a3.5 3.5 0 1 0 7 0a3.5 3.5 0 1 0 -7 0M717 912.3a3.5 3.5 0 1 0 7 0a3.5 3.5 0 1 0 -7 0M721.4 915.6a3.5 3.5 0 1 0 7 0a3.5 3.5 0 1 0 -7 0M725.9 914.2a3.5 3.5 0 1 0 7 0a3.5 3.5 0 1 0 -7 0M730.4 914.4a3.5 3.5 0 1 0 7 0a3.5 3.5 0 1 0 -7 0M734.8 916.8a3.5 3.5 0 1 0 7 0a3.5 3.5 0 1 0 -7 0M739.3 917.3a3.5 3.5 0 1 0 7 0a3.5 3.5 0 1 0 -7 0M743.9 913.3a3.5 3.5 0 1 0 7 0a3.5 3.5 0 1 0 -7 0M748.4 909.8a3.5 3.5 0 1 0 7 0a3.5 3.5 0 1 0 -7 0M753 901.1a3.5 3.5 0 1 0 7 0a3.5 3.5 0 1 0 -7 0M757.5 896.6a3.5 3.5 0 1 0 7 0a3.5 3.5 0 1 0 -7 0M762.2 907.5a3.5 3.5 0 1 0 7 0a3.5 3.5 0 1 0 -7 0M766.9 909.8a3.5 3.5 0 1 0 7 0a3.5 3.5 0 1 0 -7 0M771.5 907.1a3.5 3.5 0 1 0 7 0a3.5 3.5 0 1 0 -7 0M776.2 908a3.5 3.5 0 1 0 7 0a3.5 3.5 0 1 0 -7 0M780.9 905.9a3.5 3.5 0 1 0 7 0a3.5 3.5 0 1 0 -7 0M785.7 908.3a3.5 3.5 0 1 0 7 0a3.5 3.5 0 1 0 -7 0M790.5 902.8a3.5 3.5 0 1 0 7 0a3.5 3.5 0 1 0 -7 0M795.2 897.8a3.5 3.5 0 1 0 7 0a3.5 3.5 0 1 0 -7 0M800.1 891.9a3.5 3.5 0 1 0 7 0a3.5 3.5 0 1 0 -7 0M804.5 875.7a3.5 3.5 0 1 0 7 0a3.5 3.5 0 1 0 -7 0M809.8 873.6a3.5 3.5 0 1 0 7 0a3.5 3.5 0 1 0 -7 0M814.6 880.2a3.5 3.5 0 1 0 7 0a3.5 3.5 0 1 0 -7 0M819.6 884.3a3.5 3.5 0 1 0 7 0a3.5 3.5 0 1 0 -7 0M824.5 882a3.5 3.5 0 1 0 7 0a3.5 3.5 0 1 0 -7 0M829.4 883.1a3.5 3.5 0 1 0 7 0a3.5 3.5 0 1 0 -7 0M834.4 876.7a3.5 3.5 0 1 0 7 0a3.5 3.5 0 1 0 -7 0M839.4 857.5a3.5 3.5 0 1 0 7 0a3.5 3.5 0 1 0 -7 0M842.5 848.9a3.5 3.5 0 1 0 7 0a3.5 3.5 0 1 0 -7 0M849.5 875.5a3.5 3.5 0 1 0 7 0a3.5 3.5 0 1 0 -7 0M854.6 880a3.5 3.5 0 1 0 7 0a3.5 3.5 0 1 0 -7 0M859.7 879.7a3.5 3.5 0 1 0 7 0a3.5 3.5 0 1 0 -7 0M864.9 888.1a3.5 3.5 0 1 0 7 0a3.5 3.5 0 1 0 -7 0M870 891.5a3.5 3.5 0 1 0 7 0a3.5 3.5 0 1 0 -7 0M875.2 894.6a3.5 3.5 0 1 0 7 0a3.5 3.5 0 1 0 -7 0M880.4 902.8a3.5 3.5 0 1 0 7 0a3.5 3.5 0 1 0 -7 0M885.7 897.2a3.5 3.5 0 1 0 7 0a3.5 3.5 0 1 0 -7 0M891 897.9a3.5 3.5 0 1 0 7 0a3.5 3.5 0 1 0 -7 0M896.3 895.9a3.5 3.5 0 1 0 7 0a3.5 3.5 0 1 0 -7 0M901.6 904.1a3.5 3.5 0 1 0 7 0a3.5 3.5 0 1 0 -7 0M906.9 905.8a3.5 3.5 0 1 0 7 0a3.5 3.5 0 1 0 -7 0M912.3 903.4a3.5 3.5 0 1 0 7 0a3.5 3.5 0 1 0 -7 0M917.7 909.2a3.5 3.5 0 1 0 7 0a3.5 3.5 0 1 0 -7 0M923.1 907.3a3.5 3.5 0 1 0 7 0a3.5 3.5 0 1 0 -7 0M928.6 901.7a3.5 3.5 0 1 0 7 0a3.5 3.5 0 1 0 -7 0M934.1 896.6a3.5 3.5 0 1 0 7 0a3.5 3.5 0 1 0 -7 0M939.5 869.1a3.5 3.5 0 1 0 7 0a3.5 3.5 0 1 0 -7 0M945.1 887.9a3.5 3.5 0 1 0 7 0a3.5 3.5 0 1 0 -7 0M950.7 902.9a3.5 3.5 0 1 0 7 0a3.5 3.5 0 1 0 -7 0" fill="#080808"/>
<path d="M152 929 L152.6 928.8 L154.1 928.2 L156 928 L157.3 928.2 L158.8 928.7 L160.4 929.5 L162 930.2 L163.6 930.8 L165 931 L166.8 930.9 L168.4 930.7 L170.1 930.4 L171.7 930.1 L173.4 929.6 L175 928.8 L176.7 928 L178.3 927.3 L180 927 L181.7 927.1 L183.4 927.3 L185.1 927.6 L186.8 927.9 L189 928 L190.3 927.8 L192 927 L193.8 925.8 L195.5 924.4 L197.3 922.9 L199.1 921 L200.8 918.4 L202.6 913.8 L204.4 902.1 L206.2 889.5 L208.1 876.2 L210.4 866 L211.7 868.7 L213.6 877.1 L215.4 886.9 L217.3 898 L219.2 905.1 L221.1 910.9 L223 914.9 L224.9 916.5 L226.8 917.4 L228.7 917.9 L230 918 L232.6 917.7 L234.5 917.3 L236.5 916.7 L238.5 916 L240.5 915.4 L242.4 914.9 L244.5 914.6 L246.5 914.3 L248.5 914 L250.5 913.4 L252.6 911.2 L255 905 L256.7 907.3 L259 911 L260.8 910.6 L262.9 909.5 L265 907.6 L267.2 905.4 L269.3 902.9 L271.4 900 L273.6 896 L275.7 891 L277.9 885.2 L280.1 877.6 L282.3 868.1 L284.5 859.1 L286.7 850.4 L288.9 842.3 L291.2 835.4 L293.6 830.6 L295.7 832.2 L298 835.9 L300.2 839.3 L302.5 841.3 L304.8 843.5 L307.2 847.5 L309.5 855 L311.8 862.5 L314.2 869.6 L316.5 876 L318.9 881.3 L321.3 885.9 L323.7 888.6 L326.1 890.5 L329 891.5 L331 891.3 L333.4 890.4 L335.9 889.1 L338.4 887.5 L340.9 885.6 L343.4 882.1 L345.9 877.1 L349.1 873.5 L350.9 874.2 L353.5 876.7 L356.1 881.4 L358.6 891 L361.2 900.2 L363.8 905.3 L366.4 909.4 L369.1 912.8 L371.7 915.5 L374.4 917.2 L377 918.5 L379.7 919.6 L382.4 920.6 L385.1 921.5 L387.9 922 L390.6 922.4 L393.3 922.4 L396.1 922.4 L398.9 922.4 L401.7 922.4 L404.5 922.4 L407.3 922.4 L410.1 920.6 L413.6 918.5 L415.9 919.5 L418.7 922.1 L422 923.9 L424.5 923.9 L427.5 923.8 L430.4 923.8 L433.3 923.7 L436.3 923.6 L439.3 923.4 L442.3 923.2 L445.3 923 L448.3 922.7 L451.4 922.1 L454.4 921.2 L457.5 920 L460.6 918.7 L463.7 916.4 L466.8 914.1 L470 913.3 L473.1 912.8 L476.3 912.5 L479.5 912.1 L482.7 911.3 L485.9 908.4 L489.1 901.4 L492.4 892.4 L495.6 878.1 L498.9 844.5 L502.2 796.9 L504.2 779.6 L508.9 802.1 L512.2 828.9 L515.6 852.5 L519 870.7 L522.4 886 L525.8 892.2 L529.2 895.5 L532.7 897.7 L536 898.4 L539.6 897.4 L543.1 895.3 L548 893.6 L550.2 893.9 L553.7 895.4 L557.3 897 L560 897.5 L564.5 895.9 L568.1 893 L571.8 889.6 L575.5 885.4 L579.1 880.1 L582.8 874.9 L586.6 871.3 L590.3 867.9 L595 845.6 L597.8 851.3 L601.6 876.5 L605.5 896.7 L609.3 904.3 L613.1 906.1 L617 907.3 L621.4 907.8 L624.8 907.7 L628.8 907.4 L632.7 907.1 L636.6 907 L640.7 907.4 L644.7 908.4 L648.7 909.5 L652.8 911 L656.9 912.4 L659.4 912.7 L661 912.6 L665.1 911.5 L669.2 909.7 L673.4 908.1 L677.5 907.4 L681.8 908.5 L686 910.7 L690.2 912.3 L694.5 913.3 L698.8 914.2 L703.1 914.8 L707.4 915 L711.8 915 L716.1 915 L720.5 915 L724.9 915 L729.4 915 L733.9 914.9 L738.3 914.6 L742.8 914 L747.4 913.2 L751.9 909.3 L756.5 900.7 L761 898.3 L765.7 908.5 L771.5 909.7 L775 909.4 L779.7 908 L784.4 906.2 L789.2 904.1 L794 902.3 L798.7 899.4 L803.6 892.1 L808 875.6 L813.3 876.4 L818.1 882 L823.1 884.4 L825.2 884.5 L828 884 L832.9 880.9 L837.9 872.9 L842.9 857 L846 850.9 L853 873.8 L858.1 877.9 L863.2 878.4 L868.4 882.8 L873.5 889.9 L878.7 894.3 L883.9 896.2 L889.2 897.7 L894.5 899.3 L899.8 901.4 L905.1 903.6 L910.4 905.4 L915.8 906.3 L921.2 906.8 L926.6 907.2 L931.6 907.3 L937.6 895.6 L943 867 L948.6 886.1 L954.2 902.6 L959.1 904" stroke="#ff0000" stroke-width="1.6" fill="none" stroke-linejoin="round"/>
<path d="M149.1 1077.1a3.5 3.5 0 1 0 7 0a3.5 3.5 0 1 0 -7 0M150.6 1075.9a3.5 3.5 0 1 0 7 0a3.5 3.5 0 1 0 -7 0M152.5 1075.2a3.5 3.5 0 1 0 7 0a3.5 3.5 0 1 0 -7 0M153.8 1075.5a3.5 3.5 0 1 0 7 0a3.5 3.5 0 1 0 -7 0M155.3 1073.9a3.5 3.5 0 1 0 7 0a3.5 3.5 0 1 0 -7 0M156.9 1077.1a3.5 3.5 0 1 0 7 0a3.5 3.5 0 1 0 -7 0M158.5 1075.4a3.5 3.5 0 1 0 7 0a3.5 3.5 0 1 0 -7 0M160.1 1074.8a3.5 3.5 0 1 0 7 0a3.5 3.5 0 1 0 -7 0M161.7 1076.7a3.5 3.5 0 1 0 7 0a3.5 3.5 0 1 0 -7 0M163.3 1078.6a3.5 3.5 0 1 0 7 0a3.5 3.5 0 1 0 -7 0M164.9 1078.2a3.5 3.5 0 1 0 7 0a3.5 3.5 0 1 0 -7 0M166.6 1077.1a3.5 3.5 0 1 0 7 0a3.5 3.5 0 1 0 -7 0M168.2 1076.2a3.5 3.5 0 1 0 7 0a3.5 3.5 0 1 0 -7 0M169.9 1075.7a3.5 3.5 0 1 0 7 0a3.5 3.5 0 1 0 -7 0M171.5 1075.4a3.5 3.5 0 1 0 7 0a3.5 3.5 0 1 0 -7 0M173.2 1074a3.5 3.5 0 1 0 7 0a3.5 3.5 0 1 0 -7 0M174.8 1074.5a3.5 3.5 0 1 0 7 0a3.5 3.5 0 1 0 -7 0M176.5 1072.8a3.5 3.5 0 1 0 7 0a3.5 3.5 0 1 0 -7 0M178.2 1075.5a3.5 3.5 0 1 0 7 0a3.5 3.5 0 1 0 -7 0M179.9 1073.6a3.5 3.5 0 1 0 7 0a3.5 3.5 0 1 0 -7 0M181.6 1074.2a3.5 3.5 0 1 0 7 0a3.5 3.5 0 1 0 -7 0M183.3 1073.3a3.5 3.5 0 1 0 7 0a3.5 3.5 0 1 0 -7 0M185 1073a3.5 3.5 0 1 0 7 0a3.5 3.5 0 1 0 -7 0M186.8 1071.9a3.5 3.5 0 1 0 7 0a3.5 3.5 0 1 0 -7 0M188.5 1071.2a3.5 3.5 0 1 0 7 0a3.5 3.5 0 1 0 -7 0M190.3 1072.9a3.5 3.5 0 1 0 7 0a3.5 3.5 0 1 0 -7 0M192 1068.4a3.5 3.5 0 1 0 7 0a3.5 3.5 0 1 0 -7 0M193.8 1068.3a3.5 3.5 0 1 0 7 0a3.5 3.5 0 1 0 -7 0M195.6 1070.2a3.5 3.5 0 1 0 7 0a3.5 3.5 0 1 0 -7 0M197.3 1065.8a3.5 3.5 0 1 0 7 0a3.5 3.5 0 1 0 -7 0M199.1 1060.3a3.5 3.5 0 1 0 7 0a3.5 3.5 0 1 0 -7 0M200.9 1050.4a3.5 3.5 0 1 0 7 0a3.5 3.5 0 1 0 -7 0M202.7 1037.3a3.5 3.5 0 1 0 7 0a3.5 3.5 0 1 0 -7 0M204.6 1024.5a3.5 3.5 0 1 0 7 0a3.5 3.5 0 1 0 -7 0M206.9 1017.5a3.5 3.5 0 1 0 7 0a3.5 3.5 0 1 0 -7 0M208.2 1021.2a3.5 3.5 0 1 0 7 0a3.5 3.5 0 1 0 -7 0M210.1 1029.3a3.5 3.5 0 1 0 7 0a3.5 3.5 0 1 0 -7 0M211.9 1038.7a3.5 3.5 0 1 0 7 0a3.5 3.5 0 1 0 -7 0M213.8 1047.3a3.5 3.5 0 1 0 7 0a3.5 3.5 0 1 0 -7 0M215.7 1054.1a3.5 3.5 0 1 0 7 0a3.5 3.5 0 1 0 -7 0M217.6 1061.7a3.5 3.5 0 1 0 7 0a3.5 3.5 0 1 0 -7 0M219.5 1061.4a3.5 3.5 0 1 0 7 0a3.5 3.5 0 1 0 -7 0M221.4 1065.2a3.5 3.5 0 1 0 7 0a3.5 3.5 0 1 0 -7 0M223.3 1064.1a3.5 3.5 0 1 0 7 0a3.5 3.5 0 1 0 -7 0M225.2 1063.2a3.5 3.5 0 1 0 7 0a3.5 3.5 0 1 0 -7 0M227.1 1065.8a3.5 3.5 0 1 0 7 0a3.5 3.5 0 1 0 -7 0M229.1 1064a3.5 3.5 0 1 0 7 0a3.5 3.5 0 1 0 -7 0M231 1065.8a3.5 3.5 0 1 0 7 0a3.5 3.5 0 1 0 -7 0M233 1066.7a3.5 3.5 0 1 0 7 0a3.5 3.5 0 1 0 -7 0M235 1065.5a3.5 3.5 0 1 0 7 0a3.5 3.5 0 1 0 -7 0M237 1063a3.5 3.5 0 1 0 7 0a3.5 3.5 0 1 0 -7 0M238.9 1062.5a3.5 3.5 0 1 0 7 0a3.5 3.5 0 1 0 -7 0M241 1063.2a3.5 3.5 0 1 0 7 0a3.5 3.5 0 1 0 -7 0M243 1063.9a3.5 3.5 0 1 0 7 0a3.5 3.5 0 1 0 -7 0M245 1066.1a3.5 3.5 0 1 0 7 0a3.5 3.5 0 1 0 -7 0M247 1059.5a3.5 3.5 0 1 0 7 0a3.5 3.5 0 1 0 -7 0M249.1 1057.8a3.5 3.5 0 1 0 7 0a3.5 3.5 0 1 0 -7 0M251.5 1051.2a3.5 3.5 0 1 0 7 0a3.5 3.5 0 1 0 -7 0M253.2 1053a3.5 3.5 0 1 0 7 0a3.5 3.5 0 1 0 -7 0M255.3 1061.2a3.5 3.5 0 1 0 7 0a3.5 3.5 0 1 0 -7 0M257.3 1059a3.5 3.5 0 1 0 7 0a3.5 3.5 0 1 0 -7 0M259.4 1059.6a3.5 3.5 0 1 0 7 0a3.5 3.5 0 1 0 -7 0M261.5 1056.3a3.5 3.5 0 1 0 7 0a3.5 3.5 0 1 0 -7 0M263.7 1052.7a3.5 3.5 0 1 0 7 0a3.5 3.5 0 1 0 -7 0M265.8 1052.3a3.5 3.5 0 1 0 7 0a3.5 3.5 0 1 0 -7 0M267.9 1048.7a3.5 3.5 0 1 0 7 0a3.5 3.5 0 1 0 -7 0M270.1 1047.6a3.5 3.5 0 1 0 7 0a3.5 3.5 0 1 0 -7 0M272.2 1041.1a3.5 3.5 0 1 0 7 0a3.5 3.5 0 1 0 -7 0M274.4 1033.5a3.5 3.5 0 1 0 7 0a3.5 3.5 0 1 0 -7 0M276.6 1026.9a3.5 3.5 0 1 0 7 0a3.5 3.5 0 1 0 -7 0M278.8 1020.1a3.5 3.5 0 1 0 7 0a3.5 3.5 0 1 0 -7 0M281 1007.6a3.5 3.5 0 1 0 7 0a3.5 3.5 0 1 0 -7 0M283.2 998.8a3.5 3.5 0 1 0 7 0a3.5 3.5 0 1 0 -7 0M285.4 988.8a3.5 3.5 0 1 0 7 0a3.5 3.5 0 1 0 -7 0M287.7 983.2a3.5 3.5 0 1 0 7 0a3.5 3.5 0 1 0 -7 0M290.1 978.3a3.5 3.5 0 1 0 7 0a3.5 3.5 0 1 0 -7 0M292.2 979.4a3.5 3.5 0 1 0 7 0a3.5 3.5 0 1 0 -7 0M294.5 982.3a3.5 3.5 0 1 0 7 0a3.5 3.5 0 1 0 -7 0M296.7 985.9a3.5 3.5 0 1 0 7 0a3.5 3.5 0 1 0 -7 0M299 988.1a3.5 3.5 0 1 0 7 0a3.5 3.5 0 1 0 -7 0M301.3 990.6a3.5 3.5 0 1 0 7 0a3.5 3.5 0 1 0 -7 0M303.7 995.2a3.5 3.5 0 1 0 7 0a3.5 3.5 0 1 0 -7 0M306 1001.3a3.5 3.5 0 1 0 7 0a3.5 3.5 0 1 0 -7 0M308.3 1010.5a3.5 3.5 0 1 0 7 0a3.5 3.5 0 1 0 -7 0M310.7 1016.7a3.5 3.5 0 1 0 7 0a3.5 3.5 0 1 0 -7 0M313 1021.8a3.5 3.5 0 1 0 7 0a3.5 3.5 0 1 0 -7 0M315.4 1028.5a3.5 3.5 0 1 0 7 0a3.5 3.5 0 1 0 -7 0M317.8 1031.7a3.5 3.5 0 1 0 7 0a3.5 3.5 0 1 0 -7 0M320.2 1036.2a3.5 3.5 0 1 0 7 0a3.5 3.5 0 1 0 -7 0M322.6 1035.7a3.5 3.5 0 1 0 7 0a3.5 3.5 0 1 0 -7 0M325.1 1035.5a3.5 3.5 0 1 0 7 0a3.5 3.5 0 1 0 -7 0M327.5 1037.2a3.5 3.5 0 1 0 7 0a3.5 3.5 0 1 0 -7 0M329.9 1037.2a3.5 3.5 0 1 0 7 0a3.5 3.5 0 1 0 -7 0M332.4 1035a3.5 3.5 0 1 0 7 0a3.5 3.5 0 1 0 -7 0M334.9 1035a3.5 3.5 0 1 0 7 0a3.5 3.5 0 1 0 -7 0M337.4 1031.9a3.5 3.5 0 1 0 7 0a3.5 3.5 0 1 0 -7 0M339.9 1032.4a3.5 3.5 0 1 0 7 0a3.5 3.5 0 1 0 -7 0M342.4 1026a3.5 3.5 0 1 0 7 0a3.5 3.5 0 1 0 -7 0M345.6 1022.2a3.5 3.5 0 1 0 7 0a3.5 3.5 0 1 0 -7 0M347.4 1020.7a3.5 3.5 0 1 0 7 0a3.5 3.5 0 1 0 -7 0M350 1022.6a3.5 3.5 0 1 0 7 0a3.5 3.5 0 1 0 -7 0M352.6 1027a3.5 3.5 0 1 0 7 0a3.5 3.5 0 1 0 -7 0M355.1 1037.5a3.5 3.5 0 1 0 7 0a3.5 3.5 0 1 0 -7 0M357.7 1045.1a3.5 3.5 0 1 0 7 0a3.5 3.5 0 1 0 -7 0M360.3 1053.4a3.5 3.5 0 1 0 7 0a3.5 3.5 0 1 0 -7 0M362.9 1053.8a3.5 3.5 0 1 0 7 0a3.5 3.5 0 1 0 -7 0M365.6 1057.2a3.5 3.5 0 1 0 7 0a3.5 3.5 0 1 0 -7 0M368.2 1059.8a3.5 3.5 0 1 0 7 0a3.5 3.5 0 1 0 -7 0M370.9 1062.3a3.5 3.5 0 1 0 7 0a3.5 3.5 0 1 0 -7 0M373.5 1065.8a3.5 3.5 0 1 0 7 0a3.5 3.5 0 1 0 -7 0M376.2 1065.7a3.5 3.5 0 1 0 7 0a3.5 3.5 0 1 0 -7 0M378.9 1066.5a3.5 3.5 0 1 0 7 0a3.5 3.5 0 1 0 -7 0M381.6 1066.4a3.5 3.5 0 1 0 7 0a3.5 3.5 0 1 0 -7 0M384.4 1066a3.5 3.5 0 1 0 7 0a3.5 3.5 0 1 0 -7 0M387.1 1065.6a3.5 3.5 0 1 0 7 0a3.5 3.5 0 1 0 -7 0M389.8 1069.1a3.5 3.5 0 1 0 7 0a3.5 3.5 0 1 0 -7 0M392.6 1069.2a3.5 3.5 0 1 0 7 0a3.5 3.5 0 1 0 -7 0M395.4 1068.2a3.5 3.5 0 1 0 7 0a3.5 3.5 0 1 0 -7 0M398.2 1070a3.5 3.5 0 1 0 7 0a3.5 3.5 0 1 0 -7 0M401 1069.9a3.5 3.5 0 1 0 7 0a3.5 3.5 0 1 0 -7 0M403.8 1067.9a3.5 3.5 0 1 0 7 0a3.5 3.5 0 1 0 -7 0M406.6 1066a3.5 3.5 0 1 0 7 0a3.5 3.5 0 1 0 -7 0M410.1 1066a3.5 3.5 0 1 0 7 0a3.5 3.5 0 1 0 -7 0M412.4 1068a3.5 3.5 0 1 0 7 0a3.5 3.5 0 1 0 -7 0M415.2 1068.3a3.5 3.5 0 1 0 7 0a3.5 3.5 0 1 0 -7 0M418.1 1071a3.5 3.5 0 1 0 7 0a3.5 3.5 0 1 0 -7 0M421 1071.7a3.5 3.5 0 1 0 7 0a3.5 3.5 0 1 0 -7 0M424 1071.7a3.5 3.5 0 1 0 7 0a3.5 3.5 0 1 0 -7 0M426.9 1070.2a3.5 3.5 0 1 0 7 0a3.5 3.5 0 1 0 -7 0M429.8 1070.5a3.5 3.5 0 1 0 7 0a3.5 3.5 0 1 0 -7 0M432.8 1070.5a3.5 3.5 0 1 0 7 0a3.5 3.5 0 1 0 -7 0M435.8 1068.6a3.5 3.5 0 1 0 7 0a3.5 3.5 0 1 0 -7 0M438.8 1068.7a3.5 3.5 0 1 0 7 0a3.5 3.5 0 1 0 -7 0M441.8 1068a3.5 3.5 0 1 0 7 0a3.5 3.5 0 1 0 -7 0M444.8 1065.9a3.5 3.5 0 1 0 7 0a3.5 3.5 0 1 0 -7 0M447.9 1066.6a3.5 3.5 0 1 0 7 0a3.5 3.5 0 1 0 -7 0M450.9 1065.6a3.5 3.5 0 1 0 7 0a3.5 3.5 0 1 0 -7 0M454 1063.5a3.5 3.5 0 1 0 7 0a3.5 3.5 0 1 0 -7 0M457.1 1064.3a3.5 3.5 0 1 0 7 0a3.5 3.5 0 1 0 -7 0M460.2 1064a3.5 3.5 0 1 0 7 0a3.5 3.5 0 1 0 -7 0M463.3 1062.2a3.5 3.5 0 1 0 7 0a3.5 3.5 0 1 0 -7 0M466.5 1059.7a3.5 3.5 0 1 0 7 0a3.5 3.5 0 1 0 -7 0M469.6 1057.8a3.5 3.5 0 1 0 7 0a3.5 3.5 0 1 0 -7 0M472.8 1059.7a3.5 3.5 0 1 0 7 0a3.5 3.5 0 1 0 -7 0M476 1057.5a3.5 3.5 0 1 0 7 0a3.5 3.5 0 1 0 -7 0M479.2 1058.8a3.5 3.5 0 1 0 7 0a3.5 3.5 0 1 0 -7 0M482.4 1054.4a3.5 3.5 0 1 0 7 0a3.5 3.5 0 1 0 -7 0M485.6 1048.5a3.5 3.5 0 1 0 7 0a3.5 3.5 0 1 0 -7 0M488.9 1038.4a3.5 3.5 0 1 0 7 0a3.5 3.5 0 1 0 -7 0M492.1 1022.7a3.5 3.5 0 1 0 7 0a3.5 3.5 0 1 0 -7 0M495.4 990.8a3.5 3.5 0 1 0 7 0a3.5 3.5 0 1 0 -7 0M498.7 944.8a3.5 3.5 0 1 0 7 0a3.5 3.5 0 1 0 -7 0M500.7 926.7a3.5 3.5 0 1 0 7 0a3.5 3.5 0 1 0 -7 0M505.4 949.4a3.5 3.5 0 1 0 7 0a3.5 3.5 0 1 0 -7 0M508.7 976a3.5 3.5 0 1 0 7 0a3.5 3.5 0 1 0 -7 0M512.1 999.2a3.5 3.5 0 1 0 7 0a3.5 3.5 0 1 0 -7 0M515.5 1015.9a3.5 3.5 0 1 0 7 0a3.5 3.5 0 1 0 -7 0M518.9 1031.1a3.5 3.5 0 1 0 7 0a3.5 3.5 0 1 0 -7 0M522.3 1037.1a3.5 3.5 0 1 0 7 0a3.5 3.5 0 1 0 -7 0M525.7 1040.1a3.5 3.5 0 1 0 7 0a3.5 3.5 0 1 0 -7 0M529.2 1044.1a3.5 3.5 0 1 0 7 0a3.5 3.5 0 1 0 -7 0M532.6 1044.2a3.5 3.5 0 1 0 7 0a3.5 3.5 0 1 0 -7 0M536.1 1042.8a3.5 3.5 0 1 0 7 0a3.5 3.5 0 1 0 -7 0M539.6 1041.2a3.5 3.5 0 1 0 7 0a3.5 3.5 0 1 0 -7 0M544.5 1039.9a3.5 3.5 0 1 0 7 0a3.5 3.5 0 1 0 -7 0M546.7 1038.4a3.5 3.5 0 1 0 7 0a3.5 3.5 0 1 0 -7 0M550.2 1041.3a3.5 3.5 0 1 0 7 0a3.5 3.5 0 1 0 -7 0M553.8 1042.3a3.5 3.5 0 1 0 7 0a3.5 3.5 0 1 0 -7 0M557.4 1041.7a3.5 3.5 0 1 0 7 0a3.5 3.5 0 1 0 -7 0M561 1040.7a3.5 3.5 0 1 0 7 0a3.5 3.5 0 1 0 -7 0M564.6 1035.8a3.5 3.5 0 1 0 7 0a3.5 3.5 0 1 0 -7 0M568.3 1036.1a3.5 3.5 0 1 0 7 0a3.5 3.5 0 1 0 -7 0M572 1031.9a3.5 3.5 0 1 0 7 0a3.5 3.5 0 1 0 -7 0M575.6 1027.4a3.5 3.5 0 1 0 7 0a3.5 3.5 0 1 0 -7 0M579.3 1021a3.5 3.5 0 1 0 7 0a3.5 3.5 0 1 0 -7 0M583.1 1018.5a3.5 3.5 0 1 0 7 0a3.5 3.5 0 1 0 -7 0M586.8 1015.1a3.5 3.5 0 1 0 7 0a3.5 3.5 0 1 0 -7 0M591.5 991.6a3.5 3.5 0 1 0 7 0a3.5 3.5 0 1 0 -7 0M594.3 996.8a3.5 3.5 0 1 0 7 0a3.5 3.5 0 1 0 -7 0M598.1 1024.5a3.5 3.5 0 1 0 7 0a3.5 3.5 0 1 0 -7 0M602 1043.8a3.5 3.5 0 1 0 7 0a3.5 3.5 0 1 0 -7 0M605.8 1050.9a3.5 3.5 0 1 0 7 0a3.5 3.5 0 1 0 -7 0M609.6 1053.4a3.5 3.5 0 1 0 7 0a3.5 3.5 0 1 0 -7 0M613.5 1055.7a3.5 3.5 0 1 0 7 0a3.5 3.5 0 1 0 -7 0M617.4 1056a3.5 3.5 0 1 0 7 0a3.5 3.5 0 1 0 -7 0M621.3 1052.1a3.5 3.5 0 1 0 7 0a3.5 3.5 0 1 0 -7 0M625.3 1054.6a3.5 3.5 0 1 0 7 0a3.5 3.5 0 1 0 -7 0M629.2 1055.7a3.5 3.5 0 1 0 7 0a3.5 3.5 0 1 0 -7 0M633.1 1055.5a3.5 3.5 0 1 0 7 0a3.5 3.5 0 1 0 -7 0M637.2 1052.4a3.5 3.5 0 1 0 7 0a3.5 3.5 0 1 0 -7 0M641.2 1054.9a3.5 3.5 0 1 0 7 0a3.5 3.5 0 1 0 -7 0M645.2 1055.3a3.5 3.5 0 1 0 7 0a3.5 3.5 0 1 0 -7 0M649.3 1058a3.5 3.5 0 1 0 7 0a3.5 3.5 0 1 0 -7 0M653.4 1058.2a3.5 3.5 0 1 0 7 0a3.5 3.5 0 1 0 -7 0M657.5 1061.3a3.5 3.5 0 1 0 7 0a3.5 3.5 0 1 0 -7 0M661.6 1059.5a3.5 3.5 0 1 0 7 0a3.5 3.5 0 1 0 -7 0M665.7 1055.8a3.5 3.5 0 1 0 7 0a3.5 3.5 0 1 0 -7 0M669.9 1053.2a3.5 3.5 0 1 0 7 0a3.5 3.5 0 1 0 -7 0M674 1053.2a3.5 3.5 0 1 0 7 0a3.5 3.5 0 1 0 -7 0M678.3 1055.5a3.5 3.5 0 1 0 7 0a3.5 3.5 0 1 0 -7 0M682.5 1055.6a3.5 3.5 0 1 0 7 0a3.5 3.5 0 1 0 -7 0M686.7 1057.6a3.5 3.5 0 1 0 7 0a3.5 3.5 0 1 0 -7 0M691 1061.3a3.5 3.5 0 1 0 7 0a3.5 3.5 0 1 0 -7 0M695.3 1061.6a3.5 3.5 0 1 0 7 0a3.5 3.5 0 1 0 -7 0M699.6 1059.9a3.5 3.5 0 1 0 7 0a3.5 3.5 0 1 0 -7 0M703.9 1063.8a3.5 3.5 0 1 0 7 0a3.5 3.5 0 1 0 -7 0M708.3 1068a3.5 3.5 0 1 0 7 0a3.5 3.5 0 1 0 -7 0M712.6 1063.2a3.5 3.5 0 1 0 7 0a3.5 3.5 0 1 0 -7 0M717 1061a3.5 3.5 0 1 0 7 0a3.5 3.5 0 1 0 -7 0M721.4 1061.2a3.5 3.5 0 1 0 7 0a3.5 3.5 0 1 0 -7 0M725.9 1064.2a3.5 3.5 0 1 0 7 0a3.5 3.5 0 1 0 -7 0M730.4 1060a3.5 3.5 0 1 0 7 0a3.5 3.5 0 1 0 -7 0M734.8 1062.5a3.5 3.5 0 1 0 7 0a3.5 3.5 0 1 0 -7 0M739.3 1060.8a3.5 3.5 0 1 0 7 0a3.5 3.5 0 1 0 -7 0M743.9 1062.3a3.5 3.5 0 1 0 7 0a3.5 3.5 0 1 0 -7 0M748.4 1056.2a3.5 3.5 0 1 0 7 0a3.5 3.5 0 1 0 -7 0M753 1046.6a3.5 3.5 0 1 0 7 0a3.5 3.5 0 1 0 -7 0M757.5 1044.5a3.5 3.5 0 1 0 7 0a3.5 3.5 0 1 0 -7 0M762.2 1054.9a3.5 3.5 0 1 0 7 0a3.5 3.5 0 1 0 -7 0M766.9 1055.9a3.5 3.5 0 1 0 7 0a3.5 3.5 0 1 0 -7 0M771.5 1054.3a3.5 3.5 0 1 0 7 0a3.5 3.5 0 1 0 -7 0M776.2 1050.4a3.5 3.5 0 1 0 7 0a3.5 3.5 0 1 0 -7 0M780.9 1052.5a3.5 3.5 0 1 0 7 0a3.5 3.5 0 1 0 -7 0M785.7 1050a3.5 3.5 0 1 0 7 0a3.5 3.5 0 1 0 -7 0M790.5 1052.5a3.5 3.5 0 1 0 7 0a3.5 3.5 0 1 0 -7 0M795.2 1046.1a3.5 3.5 0 1 0 7 0a3.5 3.5 0 1 0 -7 0M800.1 1041.7a3.5 3.5 0 1 0 7 0a3.5 3.5 0 1 0 -7 0M804.5 1024a3.5 3.5 0 1 0 7 0a3.5 3.5 0 1 0 -7 0M809.8 1026.6a3.5 3.5 0 1 0 7 0a3.5 3.5 0 1 0 -7 0M814.6 1032.7a3.5 3.5 0 1 0 7 0a3.5 3.5 0 1 0 -7 0M819.6 1035.2a3.5 3.5 0 1 0 7 0a3.5 3.5 0 1 0 -7 0M824.5 1036.3a3.5 3.5 0 1 0 7 0a3.5 3.5 0 1 0 -7 0M829.4 1026.1a3.5 3.5 0 1 0 7 0a3.5 3.5 0 1 0 -7 0M834.4 1017.9a3.5 3.5 0 1 0 7 0a3.5 3.5 0 1 0 -7 0M839.4 1002a3.5 3.5 0 1 0 7 0a3.5 3.5 0 1 0 -7 0M842.5 993.9a3.5 3.5 0 1 0 7 0a3.5 3.5 0 1 0 -7 0M849.5 1019.6a3.5 3.5 0 1 0 7 0a3.5 3.5 0 1 0 -7 0M854.6 1027.7a3.5 3.5 0 1 0 7 0a3.5 3.5 0 1 0 -7 0M859.7 1028.2a3.5 3.5 0 1 0 7 0a3.5 3.5 0 1 0 -7 0M864.9 1032.6a3.5 3.5 0 1 0 7 0a3.5 3.5 0 1 0 -7 0M870 1037.5a3.5 3.5 0 1 0 7 0a3.5 3.5 0 1 0 -7 0M875.2 1043.8a3.5 3.5 0 1 0 7 0a3.5 3.5 0 1 0 -7 0M880.4 1042.6a3.5 3.5 0 1 0 7 0a3.5 3.5 0 1 0 -7 0M885.7 1042.5a3.5 3.5 0 1 0 7 0a3.5 3.5 0 1 0 -7 0M891 1039.4a3.5 3.5 0 1 0 7 0a3.5 3.5 0 1 0 -7 0M896.3 1043.9a3.5 3.5 0 1 0 7 0a3.5 3.5 0 1 0 -7 0M901.6 1049.1a3.5 3.5 0 1 0 7 0a3.5 3.5 0 1 0 -7 0M906.9 1055.5a3.5 3.5 0 1 0 7 0a3.5 3.5 0 1 0 -7 0M912.3 1052a3.5 3.5 0 1 0 7 0a3.5 3.5 0 1 0 -7 0M917.7 1058.3a3.5 3.5 0 1 0 7 0a3.5 3.5 0 1 0 -7 0M923.1 1050.3a3.5 3.5 0 1 0 7 0a3.5 3.5 0 1 0 -7 0M928.6 1051.8a3.5 3.5 0 1 0 7 0a3.5 3.5 0 1 0 -7 0M934.1 1041.3a3.5 3.5 0 1 0 7 0a3.5 3.5 0 1 0 -7 0M939.5 1007.1a3.5 3.5 0 1 0 7 0a3.5 3.5 0 1 0 -7 0M945.1 1028.6a3.5 3.5 0 1 0 7 0a3.5 3.5 0 1 0 -7 0M950.7 1050.1a3.5 3.5 0 1 0 7 0a3.5 3.5 0 1 0 -7 0" fill="#080808"/>
<path d="M152 1075 L152.6 1074.8 L154.1 1074.2 L156 1074 L157.3 1074.2 L158.8 1074.7 L160.4 1075.5 L162 1076.2 L163.6 1076.8 L165 1077 L166.8 1076.9 L168.4 1076.7 L170.1 1076.4 L171.7 1076.1 L173.4 1075.6 L175 1074.8 L176.7 1074 L178.3 1073.3 L180 1073 L181.7 1073.1 L183.4 1073.2 L185.1 1073.4 L186.8 1073.5 L189 1073.6 L190.3 1073.4 L192 1072.7 L193.8 1071.6 L195.5 1070.4 L197.3 1068.9 L199.1 1067 L200.8 1064.3 L202.6 1060 L204.4 1049.7 L206.2 1038.6 L208.1 1026.6 L210.4 1017.4 L211.7 1020 L213.6 1028.2 L215.4 1037.3 L217.3 1047.3 L219.2 1053.6 L221.1 1058.6 L223 1062 L224.9 1063.5 L226.8 1064.4 L228.7 1064.9 L230 1065 L232.6 1064.8 L234.5 1064.4 L236.5 1063.9 L238.5 1063.4 L240.5 1062.8 L242.4 1062.3 L244.5 1061.9 L246.5 1061.5 L248.5 1061 L250.5 1060.2 L252.6 1057.8 L255 1052 L256.7 1054.3 L259 1058 L260.8 1057.7 L262.9 1056.6 L265 1055 L267.2 1053 L269.3 1050.8 L271.4 1048.2 L273.6 1044.5 L275.7 1039.8 L277.9 1034.2 L280.1 1026.8 L282.3 1017.4 L284.5 1007.9 L286.7 997.3 L288.9 987.4 L291.2 980.9 L293.6 977 L295.7 978.8 L298 982.8 L300.2 986.2 L302.5 988 L304.8 989.7 L307.2 993.2 L309.5 1000.2 L311.8 1007.5 L314.2 1015 L316.5 1021.9 L318.9 1027.3 L321.3 1031.9 L323.7 1034.6 L326.1 1036.5 L329 1037.5 L331 1037.3 L333.4 1036.5 L335.9 1035.2 L338.4 1033.5 L340.9 1031.6 L343.4 1027.9 L345.9 1022.5 L349.1 1018.6 L350.9 1019.2 L353.5 1021.4 L356.1 1026 L358.6 1036.2 L361.2 1046.1 L363.8 1051.3 L366.4 1055.5 L369.1 1058.9 L371.7 1061.5 L374.4 1063.2 L377 1064.5 L379.7 1065.6 L382.4 1066.6 L385.1 1067.5 L387.9 1068 L390.6 1068.4 L393.3 1068.4 L396.1 1068.4 L398.9 1068.4 L401.7 1068.4 L404.5 1068.4 L407.3 1068.4 L410.1 1066.6 L413.6 1064.5 L415.9 1065.3 L418.7 1067.5 L422 1069 L424.5 1069 L427.5 1068.9 L430.4 1068.8 L433.3 1068.6 L436.3 1068.4 L439.3 1068.2 L442.3 1067.9 L445.3 1067.6 L448.3 1067.1 L451.4 1066.4 L454.4 1065.5 L457.5 1064.3 L460.6 1063.2 L463.7 1061.6 L466.8 1060.1 L470 1059.2 L473.1 1058.7 L476.3 1058.3 L479.5 1057.7 L482.7 1056.7 L485.9 1053.9 L489.1 1047.4 L492.4 1038 L495.6 1022.7 L498.9 989.9 L502.2 944.1 L504.2 927.4 L508.9 948.1 L512.2 974.8 L515.6 998.5 L519 1016.7 L522.4 1032.1 L525.8 1038 L529.2 1041 L532.7 1042.9 L536 1043.5 L539.6 1042.5 L543.1 1040.6 L548 1039 L550.2 1039.3 L553.7 1040.4 L557.3 1041.6 L560 1042 L564.5 1040.5 L568.1 1037.8 L571.8 1034.7 L575.5 1030.8 L579.1 1025.8 L582.8 1020.9 L586.6 1017.3 L590.3 1013.9 L595 992.5 L597.8 996.7 L601.6 1021.7 L605.5 1042.3 L609.3 1049.4 L613.1 1051.6 L617 1053 L621.4 1053.6 L624.8 1053.5 L628.8 1053.2 L632.7 1052.8 L636.6 1052.7 L640.7 1053.2 L644.7 1054.2 L648.7 1055.3 L652.8 1056.8 L656.9 1058.1 L659.4 1058.4 L661 1058.3 L665.1 1057.4 L669.2 1055.9 L673.4 1054.6 L677.5 1054 L681.8 1054.8 L686 1056.5 L690.2 1057.9 L694.5 1059 L698.8 1060.1 L703.1 1060.9 L707.4 1061.2 L711.8 1061.2 L716.1 1061.2 L720.5 1061.2 L724.9 1061.2 L729.4 1061.2 L733.9 1061 L738.3 1060.5 L742.8 1059.7 L747.4 1058.5 L751.9 1054.2 L756.5 1046.2 L761 1044.5 L765.7 1053.7 L771.5 1055.1 L775 1054.8 L779.7 1053.8 L784.4 1052.2 L789.2 1050.3 L794 1048.1 L798.7 1044.4 L803.6 1036.9 L808 1022.3 L813.3 1023.5 L818.1 1029 L823.1 1030.7 L828 1030.1 L832.9 1026.6 L837.9 1016.9 L842.9 999.4 L846 993.8 L853 1020.1 L858.1 1025 L863.2 1025.6 L868.4 1029.9 L873.5 1036.6 L878.7 1040.3 L883.9 1041.5 L889.2 1042.4 L894.5 1043.6 L899.8 1045.7 L905.1 1048.3 L910.4 1050.3 L915.8 1050.9 L921.2 1051.1 L926.6 1051.2 L931.6 1051.2 L937.6 1037.2 L943 1006.6 L948.6 1028.4 L954.2 1048.1 L959.1 1050.3" stroke="#ff0000" stroke-width="1.6" fill="none" stroke-linejoin="round"/>
<path d="M149.1 1222a3.5 3.5 0 1 0 7 0a3.5 3.5 0 1 0 -7 0M150.6 1222.1a3.5 3.5 0 1 0 7 0a3.5 3.5 0 1 0 -7 0M152.2 1224.6a3.5 3.5 0 1 0 7 0a3.5 3.5 0 1 0 -7 0M153.8 1222.6a3.5 3.5 0 1 0 7 0a3.5 3.5 0 1 0 -7 0M155.3 1224.4a3.5 3.5 0 1 0 7 0a3.5 3.5 0 1 0 -7 0M156.9 1220.8a3.5 3.5 0 1 0 7 0a3.5 3.5 0 1 0 -7 0M158.5 1220.5a3.5 3.5 0 1 0 7 0a3.5 3.5 0 1 0 -7 0M160.1 1222.5a3.5 3.5 0 1 0 7 0a3.5 3.5 0 1 0 -7 0M161.7 1222.9a3.5 3.5 0 1 0 7 0a3.5 3.5 0 1 0 -7 0M163.3 1224.2a3.5 3.5 0 1 0 7 0a3.5 3.5 0 1 0 -7 0M164.9 1223.5a3.5 3.5 0 1 0 7 0a3.5 3.5 0 1 0 -7 0M166.6 1225.1a3.5 3.5 0 1 0 7 0a3.5 3.5 0 1 0 -7 0M168.2 1223.1a3.5 3.5 0 1 0 7 0a3.5 3.5 0 1 0 -7 0M169.9 1223.4a3.5 3.5 0 1 0 7 0a3.5 3.5 0 1 0 -7 0M171.5 1221.1a3.5 3.5 0 1 0 7 0a3.5 3.5 0 1 0 -7 0M173.2 1221.6a3.5 3.5 0 1 0 7 0a3.5 3.5 0 1 0 -7 0M174.8 1223.2a3.5 3.5 0 1 0 7 0a3.5 3.5 0 1 0 -7 0M176.5 1223.9a3.5 3.5 0 1 0 7 0a3.5 3.5 0 1 0 -7 0M178.2 1224.9a3.5 3.5 0 1 0 7 0a3.5 3.5 0 1 0 -7 0M179.9 1221.4a3.5 3.5 0 1 0 7 0a3.5 3.5 0 1 0 -7 0M181.6 1220.9a3.5 3.5 0 1 0 7 0a3.5 3.5 0 1 0 -7 0M183.3 1221.9a3.5 3.5 0 1 0 7 0a3.5 3.5 0 1 0 -7 0M185 1222.3a3.5 3.5 0 1 0 7 0a3.5 3.5 0 1 0 -7 0M186.8 1221.3a3.5 3.5 0 1 0 7 0a3.5 3.5 0 1 0 -7 0M188.5 1222.7a3.5 3.5 0 1 0 7 0a3.5 3.5 0 1 0 -7 0M190.3 1220.8a3.5 3.5 0 1 0 7 0a3.5 3.5 0 1 0 -7 0M192 1221.8a3.5 3.5 0 1 0 7 0a3.5 3.5 0 1 0 -7 0M193.8 1222.9a3.5 3.5 0 1 0 7 0a3.5 3.5 0 1 0 -7 0M195.6 1219.1a3.5 3.5 0 1 0 7 0a3.5 3.5 0 1 0 -7 0M197.3 1216.8a3.5 3.5 0 1 0 7 0a3.5 3.5 0 1 0 -7 0M199.1 1210.7a3.5 3.5 0 1 0 7 0a3.5 3.5 0 1 0 -7 0M200.9 1202.9a3.5 3.5 0 1 0 7 0a3.5 3.5 0 1 0 -7 0M202.7 1195.6a3.5 3.5 0 1 0 7 0a3.5 3.5 0 1 0 -7 0M204.6 1190.2a3.5 3.5 0 1 0 7 0a3.5 3.5 0 1 0 -7 0M206.9 1185.1a3.5 3.5 0 1 0 7 0a3.5 3.5 0 1 0 -7 0M208.2 1182.3a3.5 3.5 0 1 0 7 0a3.5 3.5 0 1 0 -7 0M210.1 1187.9a3.5 3.5 0 1 0 7 0a3.5 3.5 0 1 0 -7 0M211.9 1195.6a3.5 3.5 0 1 0 7 0a3.5 3.5 0 1 0 -7 0M213.8 1202.9a3.5 3.5 0 1 0 7 0a3.5 3.5 0 1 0 -7 0M215.7 1207.8a3.5 3.5 0 1 0 7 0a3.5 3.5 0 1 0 -7 0M217.6 1213.7a3.5 3.5 0 1 0 7 0a3.5 3.5 0 1 0 -7 0M219.5 1215.1a3.5 3.5 0 1 0 7 0a3.5 3.5 0 1 0 -7 0M221.4 1217.5a3.5 3.5 0 1 0 7 0a3.5 3.5 0 1 0 -7 0M223.3 1214.5a3.5 3.5 0 1 0 7 0a3.5 3.5 0 1 0 -7 0M225.2 1215.9a3.5 3.5 0 1 0 7 0a3.5 3.5 0 1 0 -7 0M227.1 1219.8a3.5 3.5 0 1 0 7 0a3.5 3.5 0 1 0 -7 0M229.1 1216.8a3.5 3.5 0 1 0 7 0a3.5 3.5 0 1 0 -7 0M231 1213.9a3.5 3.5 0 1 0 7 0a3.5 3.5 0 1 0 -7 0M233 1214.8a3.5 3.5 0 1 0 7 0a3.5 3.5 0 1 0 -7 0M235 1215.7a3.5 3.5 0 1 0 7 0a3.5 3.5 0 1 0 -7 0M237 1211.6a3.5 3.5 0 1 0 7 0a3.5 3.5 0 1 0 -7 0M238.9 1214.9a3.5 3.5 0 1 0 7 0a3.5 3.5 0 1 0 -7 0M241 1216.5a3.5 3.5 0 1 0 7 0a3.5 3.5 0 1 0 -7 0M243 1214.7a3.5 3.5 0 1 0 7 0a3.5 3.5 0 1 0 -7 0M245 1214.1a3.5 3.5 0 1 0 7 0a3.5 3.5 0 1 0 -7 0M247 1211a3.5 3.5 0 1 0 7 0a3.5 3.5 0 1 0 -7 0M249.1 1208.1a3.5 3.5 0 1 0 7 0a3.5 3.5 0 1 0 -7 0M252.1 1203.4a3.5 3.5 0 1 0 7 0a3.5 3.5 0 1 0 -7 0M253.2 1205.6a3.5 3.5 0 1 0 7 0a3.5 3.5 0 1 0 -7 0M255.3 1212.7a3.5 3.5 0 1 0 7 0a3.5 3.5 0 1 0 -7 0M257.3 1213.4a3.5 3.5 0 1 0 7 0a3.5 3.5 0 1 0 -7 0M259.4 1212.5a3.5 3.5 0 1 0 7 0a3.5 3.5 0 1 0 -7 0M261.5 1209a3.5 3.5 0 1 0 7 0a3.5 3.5 0 1 0 -7 0M263.7 1209.3a3.5 3.5 0 1 0 7 0a3.5 3.5 0 1 0 -7 0M265.8 1209a3.5 3.5 0 1 0 7 0a3.5 3.5 0 1 0 -7 0M267.9 1208.1a3.5 3.5 0 1 0 7 0a3.5 3.5 0 1 0 -7 0M270.1 1204.6a3.5 3.5 0 1 0 7 0a3.5 3.5 0 1 0 -7 0M272.2 1199.7a3.5 3.5 0 1 0 7 0a3.5 3.5 0 1 0 -7 0M274.4 1195a3.5 3.5 0 1 0 7 0a3.5 3.5 0 1 0 -7 0M276.6 1189.7a3.5 3.5 0 1 0 7 0a3.5 3.5 0 1 0 -7 0M278.8 1182.4a3.5 3.5 0 1 0 7 0a3.5 3.5 0 1 0 -7 0M281 1170.5a3.5 3.5 0 1 0 7 0a3.5 3.5 0 1 0 -7 0M283.2 1163a3.5 3.5 0 1 0 7 0a3.5 3.5 0 1 0 -7 0M285.4 1157.1a3.5 3.5 0 1 0 7 0a3.5 3.5 0 1 0 -7 0M287.7 1153.3a3.5 3.5 0 1 0 7 0a3.5 3.5 0 1 0 -7 0M290.1 1147.3a3.5 3.5 0 1 0 7 0a3.5 3.5 0 1 0 -7 0M292.2 1147.3a3.5 3.5 0 1 0 7 0a3.5 3.5 0 1 0 -7 0M294.5 1148.1a3.5 3.5 0 1 0 7 0a3.5 3.5 0 1 0 -7 0M296.7 1153.6a3.5 3.5 0 1 0 7 0a3.5 3.5 0 1 0 -7 0M299 1155.3a3.5 3.5 0 1 0 7 0a3.5 3.5 0 1 0 -7 0M301.3 1155.7a3.5 3.5 0 1 0 7 0a3.5 3.5 0 1 0 -7 0M303.7 1161.8a3.5 3.5 0 1 0 7 0a3.5 3.5 0 1 0 -7 0M306 1166.9a3.5 3.5 0 1 0 7 0a3.5 3.5 0 1 0 -7 0M308.3 1170.9a3.5 3.5 0 1 0 7 0a3.5 3.5 0 1 0 -7 0M310.7 1176a3.5 3.5 0 1 0 7 0a3.5 3.5 0 1 0 -7 0M313 1180.9a3.5 3.5 0 1 0 7 0a3.5 3.5 0 1 0 -7 0M315.4 1186.9a3.5 3.5 0 1 0 7 0a3.5 3.5 0 1 0 -7 0M317.8 1189.3a3.5 3.5 0 1 0 7 0a3.5 3.5 0 1 0 -7 0M320.2 1193.3a3.5 3.5 0 1 0 7 0a3.5 3.5 0 1 0 -7 0M322.6 1193a3.5 3.5 0 1 0 7 0a3.5 3.5 0 1 0 -7 0M325.1 1195.3a3.5 3.5 0 1 0 7 0a3.5 3.5 0 1 0 -7 0M327.5 1194.3a3.5 3.5 0 1 0 7 0a3.5 3.5 0 1 0 -7 0M329.9 1194.2a3.5 3.5 0 1 0 7 0a3.5 3.5 0 1 0 -7 0M332.4 1194.5a3.5 3.5 0 1 0 7 0a3.5 3.5 0 1 0 -7 0M334.9 1192.9a3.5 3.5 0 1 0 7 0a3.5 3.5 0 1 0 -7 0M337.4 1190.2a3.5 3.5 0 1 0 7 0a3.5 3.5 0 1 0 -7 0M339.9 1186.9a3.5 3.5 0 1 0 7 0a3.5 3.5 0 1 0 -7 0M342.4 1182.4a3.5 3.5 0 1 0 7 0a3.5 3.5 0 1 0 -7 0M345.6 1179.2a3.5 3.5 0 1 0 7 0a3.5 3.5 0 1 0 -7 0M347.4 1182.1a3.5 3.5 0 1 0 7 0a3.5 3.5 0 1 0 -7 0M350 1183.4a3.5 3.5 0 1 0 7 0a3.5 3.5 0 1 0 -7 0M352.6 1185.2a3.5 3.5 0 1 0 7 0a3.5 3.5 0 1 0 -7 0M355.1 1196.6a3.5 3.5 0 1 0 7 0a3.5 3.5 0 1 0 -7 0M357.7 1202.9a3.5 3.5 0 1 0 7 0a3.5 3.5 0 1 0 -7 0M360.3 1208.9a3.5 3.5 0 1 0 7 0a3.5 3.5 0 1 0 -7 0M362.9 1211a3.5 3.5 0 1 0 7 0a3.5 3.5 0 1 0 -7 0M365.6 1213.6a3.5 3.5 0 1 0 7 0a3.5 3.5 0 1 0 -7 0M368.2 1214.8a3.5 3.5 0 1 0 7 0a3.5 3.5 0 1 0 -7 0M370.9 1214.3a3.5 3.5 0 1 0 7 0a3.5 3.5 0 1 0 -7 0M373.5 1215.8a3.5 3.5 0 1 0 7 0a3.5 3.5 0 1 0 -7 0M376.2 1216.5a3.5 3.5 0 1 0 7 0a3.5 3.5 0 1 0 -7 0M378.9 1216.5a3.5 3.5 0 1 0 7 0a3.5 3.5 0 1 0 -7 0M381.6 1218.8a3.5 3.5 0 1 0 7 0a3.5 3.5 0 1 0 -7 0M384.4 1217.6a3.5 3.5 0 1 0 7 0a3.5 3.5 0 1 0 -7 0M387.1 1217.6a3.5 3.5 0 1 0 7 0a3.5 3.5 0 1 0 -7 0M389.8 1218.4a3.5 3.5 0 1 0 7 0a3.5 3.5 0 1 0 -7 0M392.6 1218.2a3.5 3.5 0 1 0 7 0a3.5 3.5 0 1 0 -7 0M395.4 1220.1a3.5 3.5 0 1 0 7 0a3.5 3.5 0 1 0 -7 0M398.2 1221.6a3.5 3.5 0 1 0 7 0a3.5 3.5 0 1 0 -7 0M401 1221.4a3.5 3.5 0 1 0 7 0a3.5 3.5 0 1 0 -7 0M403.8 1220.9a3.5 3.5 0 1 0 7 0a3.5 3.5 0 1 0 -7 0M406.6 1217.9a3.5 3.5 0 1 0 7 0a3.5 3.5 0 1 0 -7 0M410.1 1213.3a3.5 3.5 0 1 0 7 0a3.5 3.5 0 1 0 -7 0M412.4 1216.8a3.5 3.5 0 1 0 7 0a3.5 3.5 0 1 0 -7 0M415.2 1219.8a3.5 3.5 0 1 0 7 0a3.5 3.5 0 1 0 -7 0M418.1 1221.6a3.5 3.5 0 1 0 7 0a3.5 3.5 0 1 0 -7 0M421 1220.9a3.5 3.5 0 1 0 7 0a3.5 3.5 0 1 0 -7 0M424 1220.4a3.5 3.5 0 1 0 7 0a3.5 3.5 0 1 0 -7 0M426.9 1220.5a3.5 3.5 0 1 0 7 0a3.5 3.5 0 1 0 -7 0M429.8 1221.6a3.5 3.5 0 1 0 7 0a3.5 3.5 0 1 0 -7 0M432.8 1220.2a3.5 3.5 0 1 0 7 0a3.5 3.5 0 1 0 -7 0M435.8 1218.9a3.5 3.5 0 1 0 7 0a3.5 3.5 0 1 0 -7 0M438.8 1221.8a3.5 3.5 0 1 0 7 0a3.5 3.5 0 1 0 -7 0M441.8 1220.5a3.5 3.5 0 1 0 7 0a3.5 3.5 0 1 0 -7 0M444.8 1220.1a3.5 3.5 0 1 0 7 0a3.5 3.5 0 1 0 -7 0M447.9 1219.9a3.5 3.5 0 1 0 7 0a3.5 3.5 0 1 0 -7 0M450.9 1219.7a3.5 3.5 0 1 0 7 0a3.5 3.5 0 1 0 -7 0M454 1218.4a3.5 3.5 0 1 0 7 0a3.5 3.5 0 1 0 -7 0M457.1 1215a3.5 3.5 0 1 0 7 0a3.5 3.5 0 1 0 -7 0M460.2 1212.7a3.5 3.5 0 1 0 7 0a3.5 3.5 0 1 0 -7 0M463.3 1212.1a3.5 3.5 0 1 0 7 0a3.5 3.5 0 1 0 -7 0M466.5 1210.4a3.5 3.5 0 1 0 7 0a3.5 3.5 0 1 0 -7 0M469.6 1211.3a3.5 3.5 0 1 0 7 0a3.5 3.5 0 1 0 -7 0M472.8 1211.6a3.5 3.5 0 1 0 7 0a3.5 3.5 0 1 0 -7 0M476 1208.1a3.5 3.5 0 1 0 7 0a3.5 3.5 0 1 0 -7 0M479.2 1207.7a3.5 3.5 0 1 0 7 0a3.5 3.5 0 1 0 -7 0M482.4 1204.2a3.5 3.5 0 1 0 7 0a3.5 3.5 0 1 0 -7 0M485.6 1198.3a3.5 3.5 0 1 0 7 0a3.5 3.5 0 1 0 -7 0M488.9 1190.9a3.5 3.5 0 1 0 7 0a3.5 3.5 0 1 0 -7 0M492.1 1178a3.5 3.5 0 1 0 7 0a3.5 3.5 0 1 0 -7 0M495.4 1148.7a3.5 3.5 0 1 0 7 0a3.5 3.5 0 1 0 -7 0M498.7 1100.5a3.5 3.5 0 1 0 7 0a3.5 3.5 0 1 0 -7 0M500.7 1083a3.5 3.5 0 1 0 7 0a3.5 3.5 0 1 0 -7 0M505.4 1103.7a3.5 3.5 0 1 0 7 0a3.5 3.5 0 1 0 -7 0M508.7 1128.6a3.5 3.5 0 1 0 7 0a3.5 3.5 0 1 0 -7 0M512.1 1152.9a3.5 3.5 0 1 0 7 0a3.5 3.5 0 1 0 -7 0M515.5 1169.5a3.5 3.5 0 1 0 7 0a3.5 3.5 0 1 0 -7 0M518.9 1184.7a3.5 3.5 0 1 0 7 0a3.5 3.5 0 1 0 -7 0M522.3 1191.4a3.5 3.5 0 1 0 7 0a3.5 3.5 0 1 0 -7 0M525.7 1196.8a3.5 3.5 0 1 0 7 0a3.5 3.5 0 1 0 -7 0M529.2 1197.1a3.5 3.5 0 1 0 7 0a3.5 3.5 0 1 0 -7 0M532.6 1196.9a3.5 3.5 0 1 0 7 0a3.5 3.5 0 1 0 -7 0M536.1 1197.4a3.5 3.5 0 1 0 7 0a3.5 3.5 0 1 0 -7 0M539.6 1193.3a3.5 3.5 0 1 0 7 0a3.5 3.5 0 1 0 -7 0M544.5 1192.1a3.5 3.5 0 1 0 7 0a3.5 3.5 0 1 0 -7 0M546.7 1195.5a3.5 3.5 0 1 0 7 0a3.5 3.5 0 1 0 -7 0M550.2 1196a3.5 3.5 0 1 0 7 0a3.5 3.5 0 1 0 -7 0M553.8 1195.3a3.5 3.5 0 1 0 7 0a3.5 3.5 0 1 0 -7 0M557.4 1195.9a3.5 3.5 0 1 0 7 0a3.5 3.5 0 1 0 -7 0M561 1190.9a3.5 3.5 0 1 0 7 0a3.5 3.5 0 1 0 -7 0M564.6 1189.9a3.5 3.5 0 1 0 7 0a3.5 3.5 0 1 0 -7 0M568.3 1185.6a3.5 3.5 0 1 0 7 0a3.5 3.5 0 1 0 -7 0M572 1183.1a3.5 3.5 0 1 0 7 0a3.5 3.5 0 1 0 -7 0M575.6 1179.3a3.5 3.5 0 1 0 7 0a3.5 3.5 0 1 0 -7 0M579.3 1176.3a3.5 3.5 0 1 0 7 0a3.5 3.5 0 1 0 -7 0M583.1 1172.1a3.5 3.5 0 1 0 7 0a3.5 3.5 0 1 0 -7 0M586.8 1166.6a3.5 3.5 0 1 0 7 0a3.5 3.5 0 1 0 -7 0M591.5 1141.9a3.5 3.5 0 1 0 7 0a3.5 3.5 0 1 0 -7 0M594.3 1146.9a3.5 3.5 0 1 0 7 0a3.5 3.5 0 1 0 -7 0M598.1 1173.8a3.5 3.5 0 1 0 7 0a3.5 3.5 0 1 0 -7 0M602 1192.9a3.5 3.5 0 1 0 7 0a3.5 3.5 0 1 0 -7 0M605.8 1198.3a3.5 3.5 0 1 0 7 0a3.5 3.5 0 1 0 -7 0M609.6 1204a3.5 3.5 0 1 0 7 0a3.5 3.5 0 1 0 -7 0M613.5 1205a3.5 3.5 0 1 0 7 0a3.5 3.5 0 1 0 -7 0M617.4 1204.1a3.5 3.5 0 1 0 7 0a3.5 3.5 0 1 0 -7 0M621.3 1202.6a3.5 3.5 0 1 0 7 0a3.5 3.5 0 1 0 -7 0M625.3 1205.4a3.5 3.5 0 1 0 7 0a3.5 3.5 0 1 0 -7 0M629.2 1204.2a3.5 3.5 0 1 0 7 0a3.5 3.5 0 1 0 -7 0M633.1 1201.7a3.5 3.5 0 1 0 7 0a3.5 3.5 0 1 0 -7 0M637.2 1203.6a3.5 3.5 0 1 0 7 0a3.5 3.5 0 1 0 -7 0M641.2 1202a3.5 3.5 0 1 0 7 0a3.5 3.5 0 1 0 -7 0M645.2 1208.3a3.5 3.5 0 1 0 7 0a3.5 3.5 0 1 0 -7 0M649.3 1208.1a3.5 3.5 0 1 0 7 0a3.5 3.5 0 1 0 -7 0M653.4 1209.5a3.5 3.5 0 1 0 7 0a3.5 3.5 0 1 0 -7 0M657.5 1207.1a3.5 3.5 0 1 0 7 0a3.5 3.5 0 1 0 -7 0M661.6 1204.7a3.5 3.5 0 1 0 7 0a3.5 3.5 0 1 0 -7 0M665.7 1204.3a3.5 3.5 0 1 0 7 0a3.5 3.5 0 1 0 -7 0M669.9 1201.6a3.5 3.5 0 1 0 7 0a3.5 3.5 0 1 0 -7 0M674.9 1198.9a3.5 3.5 0 1 0 7 0a3.5 3.5 0 1 0 -7 0M678.3 1203.7a3.5 3.5 0 1 0 7 0a3.5 3.5 0 1 0 -7 0M682.5 1205.7a3.5 3.5 0 1 0 7 0a3.5 3.5 0 1 0 -7 0M686.7 1205.5a3.5 3.5 0 1 0 7 0a3.5 3.5 0 1 0 -7 0M691 1209.2a3.5 3.5 0 1 0 7 0a3.5 3.5 0 1 0 -7 0M695.3 1209.6a3.5 3.5 0 1 0 7 0a3.5 3.5 0 1 0 -7 0M699.6 1209.7a3.5 3.5 0 1 0 7 0a3.5 3.5 0 1 0 -7 0M703.9 1207.5a3.5 3.5 0 1 0 7 0a3.5 3.5 0 1 0 -7 0M708.3 1210a3.5 3.5 0 1 0 7 0a3.5 3.5 0 1 0 -7 0M712.6 1206.8a3.5 3.5 0 1 0 7 0a3.5 3.5 0 1 0 -7 0M717 1207.9a3.5 3.5 0 1 0 7 0a3.5 3.5 0 1 0 -7 0M721.4 1212.7a3.5 3.5 0 1 0 7 0a3.5 3.5 0 1 0 -7 0M725.9 1212.5a3.5 3.5 0 1 0 7 0a3.5 3.5 0 1 0 -7 0M730.4 1208.8a3.5 3.5 0 1 0 7 0a3.5 3.5 0 1 0 -7 0M734.8 1208.2a3.5 3.5 0 1 0 7 0a3.5 3.5 0 1 0 -7 0M739.3 1209.4a3.5 3.5 0 1 0 7 0a3.5 3.5 0 1 0 -7 0M743.9 1210.2a3.5 3.5 0 1 0 7 0a3.5 3.5 0 1 0 -7 0M748.4 1203.8a3.5 3.5 0 1 0 7 0a3.5 3.5 0 1 0 -7 0M753 1192.4a3.5 3.5 0 1 0 7 0a3.5 3.5 0 1 0 -7 0M757.5 1190.1a3.5 3.5 0 1 0 7 0a3.5 3.5 0 1 0 -7 0M762.2 1204.4a3.5 3.5 0 1 0 7 0a3.5 3.5 0 1 0 -7 0M766.9 1202.4a3.5 3.5 0 1 0 7 0a3.5 3.5 0 1 0 -7 0M771.5 1202.6a3.5 3.5 0 1 0 7 0a3.5 3.5 0 1 0 -7 0M776.2 1204.2a3.5 3.5 0 1 0 7 0a3.5 3.5 0 1 0 -7 0M780.9 1202.5a3.5 3.5 0 1 0 7 0a3.5 3.5 0 1 0 -7 0M785.7 1197.2a3.5 3.5 0 1 0 7 0a3.5 3.5 0 1 0 -7 0M790.5 1192.8a3.5 3.5 0 1 0 7 0a3.5 3.5 0 1 0 -7 0M795.2 1195.2a3.5 3.5 0 1 0 7 0a3.5 3.5 0 1 0 -7 0M800.1 1185.9a3.5 3.5 0 1 0 7 0a3.5 3.5 0 1 0 -7 0M804.5 1173.3a3.5 3.5 0 1 0 7 0a3.5 3.5 0 1 0 -7 0M809.8 1172.1a3.5 3.5 0 1 0 7 0a3.5 3.5 0 1 0 -7 0M814.6 1183a3.5 3.5 0 1 0 7 0a3.5 3.5 0 1 0 -7 0M819.6 1185.2a3.5 3.5 0 1 0 7 0a3.5 3.5 0 1 0 -7 0M824.5 1185.7a3.5 3.5 0 1 0 7 0a3.5 3.5 0 1 0 -7 0M829.4 1170.8a3.5 3.5 0 1 0 7 0a3.5 3.5 0 1 0 -7 0M834.4 1161a3.5 3.5 0 1 0 7 0a3.5 3.5 0 1 0 -7 0M839.4 1143.6a3.5 3.5 0 1 0 7 0a3.5 3.5 0 1 0 -7 0M842.5 1137.1a3.5 3.5 0 1 0 7 0a3.5 3.5 0 1 0 -7 0M849.5 1165.4a3.5 3.5 0 1 0 7 0a3.5 3.5 0 1 0 -7 0M854.6 1177.1a3.5 3.5 0 1 0 7 0a3.5 3.5 0 1 0 -7 0M859.7 1175a3.5 3.5 0 1 0 7 0a3.5 3.5 0 1 0 -7 0M864.9 1174.6a3.5 3.5 0 1 0 7 0a3.5 3.5 0 1 0 -7 0M870 1188.7a3.5 3.5 0 1 0 7 0a3.5 3.5 0 1 0 -7 0M875.2 1189.8a3.5 3.5 0 1 0 7 0a3.5 3.5 0 1 0 -7 0M880.4 1189.1a3.5 3.5 0 1 0 7 0a3.5 3.5 0 1 0 -7 0M885.7 1190.8a3.5 3.5 0 1 0 7 0a3.5 3.5 0 1 0 -7 0M891 1192.4a3.5 3.5 0 1 0 7 0a3.5 3.5 0 1 0 -7 0M896.3 1192.9a3.5 3.5 0 1 0 7 0a3.5 3.5 0 1 0 -7 0M901.6 1197.7a3.5 3.5 0 1 0 7 0a3.5 3.5 0 1 0 -7 0M906.9 1197.7a3.5 3.5 0 1 0 7 0a3.5 3.5 0 1 0 -7 0M912.3 1200.8a3.5 3.5 0 1 0 7 0a3.5 3.5 0 1 0 -7 0M917.7 1206.1a3.5 3.5 0 1 0 7 0a3.5 3.5 0 1 0 -7 0M923.1 1199.8a3.5 3.5 0 1 0 7 0a3.5 3.5 0 1 0 -7 0M928.6 1192.3a3.5 3.5 0 1 0 7 0a3.5 3.5 0 1 0 -7 0M934.1 1189.2a3.5 3.5 0 1 0 7 0a3.5 3.5 0 1 0 -7 0M939.5 1157.2a3.5 3.5 0 1 0 7 0a3.5 3.5 0 1 0 -7 0M945.1 1177a3.5 3.5 0 1 0 7 0a3.5 3.5 0 1 0 -7 0M950.7 1197.4a3.5 3.5 0 1 0 7 0a3.5 3.5 0 1 0 -7 0" fill="#080808"/>
<path d="M152 1220 L152.6 1220 L154.1 1220 L155.7 1220 L157.3 1220.1 L158.8 1220.5 L160.4 1221 L162 1221.6 L163.6 1222.1 L165.2 1222.4 L166.8 1222.6 L168.4 1222.8 L170.1 1222.9 L172 1223 L173.4 1222.8 L175 1222.4 L176.7 1221.8 L178.3 1221.2 L180 1221 L181.7 1221.1 L183.4 1221.3 L185.1 1221.6 L186.8 1221.9 L189 1222 L190.3 1221.9 L192 1221.6 L193.8 1221 L195.5 1220.2 L197.3 1219.1 L199.1 1217.1 L200.8 1214.3 L202.6 1209.9 L204.4 1203.7 L206.2 1197.1 L208.1 1188.5 L210.4 1181.6 L211.7 1183.3 L213.6 1188.7 L215.4 1195.7 L217.3 1204 L219.2 1208.6 L221.1 1212 L223 1214.3 L224.9 1215.3 L226.8 1215.9 L228.7 1216.3 L230 1216.4 L232.6 1216.3 L234.5 1216.1 L236.5 1215.8 L238.5 1215.5 L240.5 1215.2 L242.4 1214.9 L244.5 1214.7 L246.5 1214.4 L248.5 1213.7 L250.5 1210.7 L252.6 1207.8 L255.6 1205 L259 1211.6 L260.8 1211.4 L262.9 1210.7 L265 1209.6 L267.2 1208.1 L269.3 1206.5 L271.4 1204.7 L273.6 1202 L275.7 1198.4 L277.9 1194.2 L280.1 1188.1 L282.3 1180.1 L284.5 1172.3 L286.7 1164.2 L288.9 1156.7 L291.2 1151.4 L293.6 1148 L295.7 1148.7 L298 1150.4 L300.2 1152.1 L302.5 1153.5 L304.8 1155 L307.2 1157.6 L309.5 1162.5 L311.8 1167.9 L314.2 1174.1 L316.5 1180 L318.9 1184.9 L321.3 1189.2 L323.7 1191.5 L326.1 1192.8 L329 1193.5 L331 1193.3 L333.4 1192.7 L335.9 1191.7 L338.4 1190.5 L340.9 1189.1 L343.4 1186.5 L345.9 1182.7 L349.1 1180 L350.9 1180.4 L353.5 1182.1 L356.1 1185.9 L358.6 1194.4 L361.2 1202.6 L363.8 1206.4 L366.4 1209.3 L369.1 1211.6 L371.7 1213.4 L374.4 1214.6 L377 1215.6 L379.7 1216.5 L382.4 1217.2 L385.1 1217.8 L387.9 1218.3 L390.6 1218.8 L393.3 1219.2 L396.1 1219.6 L398.9 1219.9 L401.7 1220.2 L404.5 1220.4 L407 1220.5 L410.1 1216.3 L413.6 1211.5 L415.9 1213.8 L418.7 1219 L420.5 1220.5 L424.5 1220.5 L427.5 1220.4 L430.4 1220.2 L433.3 1220.1 L436.3 1219.9 L439.3 1219.6 L442.3 1219.4 L445.3 1219.1 L448.3 1218.7 L451.4 1218 L454.4 1217.1 L457.5 1216 L460.6 1214.7 L463.7 1212.4 L466.8 1210.1 L470 1209.3 L473.1 1208.8 L476.3 1208.5 L479.5 1208.1 L482.7 1207.3 L485.9 1204.7 L489.1 1198.8 L492.4 1190.9 L495.6 1178.1 L498.9 1148.4 L502.2 1101.5 L504.2 1083.4 L508.9 1104.2 L512.2 1129.6 L515.6 1153 L519 1171 L522.4 1185.4 L525.8 1190.9 L529.2 1193.9 L532.7 1195.9 L536 1196.5 L539.6 1195.5 L543.1 1193.6 L548 1192 L550.2 1192.1 L553.7 1192.7 L557.3 1193.3 L560 1193.5 L564.5 1191.3 L568.1 1188.2 L571.8 1185.3 L575.5 1182.1 L579.1 1178.6 L582.8 1175.1 L586.6 1172 L590.3 1168.5 L595 1144.6 L597.8 1149.4 L601.6 1174 L605.5 1193.5 L609.3 1200.3 L613.1 1202.5 L617 1204 L621.4 1204.6 L624.8 1204.4 L628.8 1203.9 L632.7 1203.4 L636.6 1203.2 L640.7 1203.6 L644.7 1204.6 L648.7 1205.7 L652.8 1207.3 L657.5 1208.4 L661 1207.9 L665.1 1206.5 L669.2 1204.7 L673.4 1203 L678.4 1202.1 L681.8 1203 L686 1205.6 L690.2 1207.5 L694.5 1208.5 L698.8 1209.4 L703.1 1210 L707.4 1210.3 L711.8 1210.5 L716.1 1210.6 L720.5 1210.7 L724.9 1210.8 L727.8 1210.8 L729.4 1210.8 L733.9 1210.6 L738.3 1210.1 L742.8 1209.3 L747.4 1208.2 L751.9 1202.9 L756.5 1191.9 L761 1188.8 L765.7 1202.3 L771.5 1203.6 L775 1203.3 L779.7 1202.1 L784.4 1200.3 L789.2 1198.4 L794 1196.6 L798.7 1193.5 L803.6 1185.4 L808 1172.7 L813.3 1173 L818.1 1176.7 L823.1 1178 L828 1177.4 L832.9 1173.6 L837.9 1162.1 L842.9 1142.3 L846 1136.6 L853 1165.2 L858.1 1172.1 L863.2 1173.7 L868.4 1178 L873.5 1183.4 L878.7 1186.4 L883.9 1187.7 L889.2 1188.6 L894.5 1189.8 L899.8 1192 L905.1 1194.8 L910.4 1197.1 L915.8 1198 L921.2 1198.5 L926.6 1198.8 L931.6 1198.9 L937.6 1185 L943 1155.6 L948.6 1176.8 L954.2 1195.7 L959.1 1197.8" stroke="#ff0000" stroke-width="1.6" fill="none" stroke-linejoin="round"/>
<path d="M149.1 1357.1a3.5 3.5 0 1 0 7 0a3.5 3.5 0 1 0 -7 0M150.6 1364.5a3.5 3.5 0 1 0 7 0a3.5 3.5 0 1 0 -7 0M152.2 1357.1a3.5 3.5 0 1 0 7 0a3.5 3.5 0 1 0 -7 0M153.8 1364.6a3.5 3.5 0 1 0 7 0a3.5 3.5 0 1 0 -7 0M155.3 1368.3a3.5 3.5 0 1 0 7 0a3.5 3.5 0 1 0 -7 0M156.9 1363.8a3.5 3.5 0 1 0 7 0a3.5 3.5 0 1 0 -7 0M158.5 1365.9a3.5 3.5 0 1 0 7 0a3.5 3.5 0 1 0 -7 0M160.1 1366.2a3.5 3.5 0 1 0 7 0a3.5 3.5 0 1 0 -7 0M161.7 1359.8a3.5 3.5 0 1 0 7 0a3.5 3.5 0 1 0 -7 0M163.3 1362.3a3.5 3.5 0 1 0 7 0a3.5 3.5 0 1 0 -7 0M164.5 1367.8a3.5 3.5 0 1 0 7 0a3.5 3.5 0 1 0 -7 0M166.6 1365.5a3.5 3.5 0 1 0 7 0a3.5 3.5 0 1 0 -7 0M168.2 1372.2a3.5 3.5 0 1 0 7 0a3.5 3.5 0 1 0 -7 0M169.9 1367.1a3.5 3.5 0 1 0 7 0a3.5 3.5 0 1 0 -7 0M171.5 1365.2a3.5 3.5 0 1 0 7 0a3.5 3.5 0 1 0 -7 0M173.2 1365.6a3.5 3.5 0 1 0 7 0a3.5 3.5 0 1 0 -7 0M174.8 1364.6a3.5 3.5 0 1 0 7 0a3.5 3.5 0 1 0 -7 0M176.5 1360a3.5 3.5 0 1 0 7 0a3.5 3.5 0 1 0 -7 0M178.2 1365.5a3.5 3.5 0 1 0 7 0a3.5 3.5 0 1 0 -7 0M179.9 1370.9a3.5 3.5 0 1 0 7 0a3.5 3.5 0 1 0 -7 0M181.6 1365.2a3.5 3.5 0 1 0 7 0a3.5 3.5 0 1 0 -7 0M183.3 1364.3a3.5 3.5 0 1 0 7 0a3.5 3.5 0 1 0 -7 0M185 1365.1a3.5 3.5 0 1 0 7 0a3.5 3.5 0 1 0 -7 0M186.8 1370.4a3.5 3.5 0 1 0 7 0a3.5 3.5 0 1 0 -7 0M188.5 1371.2a3.5 3.5 0 1 0 7 0a3.5 3.5 0 1 0 -7 0M190.3 1366a3.5 3.5 0 1 0 7 0a3.5 3.5 0 1 0 -7 0M192 1368.5a3.5 3.5 0 1 0 7 0a3.5 3.5 0 1 0 -7 0M193.8 1369.9a3.5 3.5 0 1 0 7 0a3.5 3.5 0 1 0 -7 0M195.6 1366a3.5 3.5 0 1 0 7 0a3.5 3.5 0 1 0 -7 0M197.3 1362.7a3.5 3.5 0 1 0 7 0a3.5 3.5 0 1 0 -7 0M199.1 1363.5a3.5 3.5 0 1 0 7 0a3.5 3.5 0 1 0 -7 0M200.9 1355.6a3.5 3.5 0 1 0 7 0a3.5 3.5 0 1 0 -7 0M202.7 1352.5a3.5 3.5 0 1 0 7 0a3.5 3.5 0 1 0 -7 0M204.6 1349.1a3.5 3.5 0 1 0 7 0a3.5 3.5 0 1 0 -7 0M206.9 1347a3.5 3.5 0 1 0 7 0a3.5 3.5 0 1 0 -7 0M208.2 1347.8a3.5 3.5 0 1 0 7 0a3.5 3.5 0 1 0 -7 0M210.1 1350.9a3.5 3.5 0 1 0 7 0a3.5 3.5 0 1 0 -7 0M211.9 1353.7a3.5 3.5 0 1 0 7 0a3.5 3.5 0 1 0 -7 0M213.8 1361.5a3.5 3.5 0 1 0 7 0a3.5 3.5 0 1 0 -7 0M215.7 1362.7a3.5 3.5 0 1 0 7 0a3.5 3.5 0 1 0 -7 0M217.6 1370.3a3.5 3.5 0 1 0 7 0a3.5 3.5 0 1 0 -7 0M219.5 1367.1a3.5 3.5 0 1 0 7 0a3.5 3.5 0 1 0 -7 0M221.4 1367.1a3.5 3.5 0 1 0 7 0a3.5 3.5 0 1 0 -7 0M223.3 1365.4a3.5 3.5 0 1 0 7 0a3.5 3.5 0 1 0 -7 0M225.2 1366.8a3.5 3.5 0 1 0 7 0a3.5 3.5 0 1 0 -7 0M227.1 1368.8a3.5 3.5 0 1 0 7 0a3.5 3.5 0 1 0 -7 0M229.1 1364.7a3.5 3.5 0 1 0 7 0a3.5 3.5 0 1 0 -7 0M231 1366.2a3.5 3.5 0 1 0 7 0a3.5 3.5 0 1 0 -7 0M233 1363.9a3.5 3.5 0 1 0 7 0a3.5 3.5 0 1 0 -7 0M235 1363.2a3.5 3.5 0 1 0 7 0a3.5 3.5 0 1 0 -7 0M237 1368.8a3.5 3.5 0 1 0 7 0a3.5 3.5 0 1 0 -7 0M238.9 1365.9a3.5 3.5 0 1 0 7 0a3.5 3.5 0 1 0 -7 0M241 1366.2a3.5 3.5 0 1 0 7 0a3.5 3.5 0 1 0 -7 0M243 1368.6a3.5 3.5 0 1 0 7 0a3.5 3.5 0 1 0 -7 0M245 1363.6a3.5 3.5 0 1 0 7 0a3.5 3.5 0 1 0 -7 0M246.5 1362.2a3.5 3.5 0 1 0 7 0a3.5 3.5 0 1 0 -7 0M249.1 1363.8a3.5 3.5 0 1 0 7 0a3.5 3.5 0 1 0 -7 0M252.1 1354.9a3.5 3.5 0 1 0 7 0a3.5 3.5 0 1 0 -7 0M253.2 1356.5a3.5 3.5 0 1 0 7 0a3.5 3.5 0 1 0 -7 0M255.3 1369.3a3.5 3.5 0 1 0 7 0a3.5 3.5 0 1 0 -7 0M257.3 1368.1a3.5 3.5 0 1 0 7 0a3.5 3.5 0 1 0 -7 0M259.4 1367.8a3.5 3.5 0 1 0 7 0a3.5 3.5 0 1 0 -7 0M261.5 1361a3.5 3.5 0 1 0 7 0a3.5 3.5 0 1 0 -7 0M263.7 1361.5a3.5 3.5 0 1 0 7 0a3.5 3.5 0 1 0 -7 0M265.8 1364.3a3.5 3.5 0 1 0 7 0a3.5 3.5 0 1 0 -7 0M267.9 1363.5a3.5 3.5 0 1 0 7 0a3.5 3.5 0 1 0 -7 0M270.1 1357a3.5 3.5 0 1 0 7 0a3.5 3.5 0 1 0 -7 0M272.2 1357.6a3.5 3.5 0 1 0 7 0a3.5 3.5 0 1 0 -7 0M274.4 1357a3.5 3.5 0 1 0 7 0a3.5 3.5 0 1 0 -7 0M276.6 1352.9a3.5 3.5 0 1 0 7 0a3.5 3.5 0 1 0 -7 0M278.8 1346.9a3.5 3.5 0 1 0 7 0a3.5 3.5 0 1 0 -7 0M281 1341a3.5 3.5 0 1 0 7 0a3.5 3.5 0 1 0 -7 0M283.2 1333.8a3.5 3.5 0 1 0 7 0a3.5 3.5 0 1 0 -7 0M285.4 1330.2a3.5 3.5 0 1 0 7 0a3.5 3.5 0 1 0 -7 0M287.7 1328.2a3.5 3.5 0 1 0 7 0a3.5 3.5 0 1 0 -7 0M290.1 1326.7a3.5 3.5 0 1 0 7 0a3.5 3.5 0 1 0 -7 0M292.2 1327a3.5 3.5 0 1 0 7 0a3.5 3.5 0 1 0 -7 0M294.5 1329.5a3.5 3.5 0 1 0 7 0a3.5 3.5 0 1 0 -7 0M296.7 1331.7a3.5 3.5 0 1 0 7 0a3.5 3.5 0 1 0 -7 0M299 1330.1a3.5 3.5 0 1 0 7 0a3.5 3.5 0 1 0 -7 0M301.3 1331.9a3.5 3.5 0 1 0 7 0a3.5 3.5 0 1 0 -7 0M303.7 1333.9a3.5 3.5 0 1 0 7 0a3.5 3.5 0 1 0 -7 0M306 1337.6a3.5 3.5 0 1 0 7 0a3.5 3.5 0 1 0 -7 0M308.3 1340.3a3.5 3.5 0 1 0 7 0a3.5 3.5 0 1 0 -7 0M310.7 1344.6a3.5 3.5 0 1 0 7 0a3.5 3.5 0 1 0 -7 0M313 1348.9a3.5 3.5 0 1 0 7 0a3.5 3.5 0 1 0 -7 0M315.4 1350.5a3.5 3.5 0 1 0 7 0a3.5 3.5 0 1 0 -7 0M317.8 1353.7a3.5 3.5 0 1 0 7 0a3.5 3.5 0 1 0 -7 0M320.2 1357.5a3.5 3.5 0 1 0 7 0a3.5 3.5 0 1 0 -7 0M322.6 1356.1a3.5 3.5 0 1 0 7 0a3.5 3.5 0 1 0 -7 0M325.1 1358.3a3.5 3.5 0 1 0 7 0a3.5 3.5 0 1 0 -7 0M327.5 1357.8a3.5 3.5 0 1 0 7 0a3.5 3.5 0 1 0 -7 0M329.9 1356.3a3.5 3.5 0 1 0 7 0a3.5 3.5 0 1 0 -7 0M332.4 1356.9a3.5 3.5 0 1 0 7 0a3.5 3.5 0 1 0 -7 0M334.9 1355.9a3.5 3.5 0 1 0 7 0a3.5 3.5 0 1 0 -7 0M337.4 1355.2a3.5 3.5 0 1 0 7 0a3.5 3.5 0 1 0 -7 0M339.9 1353.7a3.5 3.5 0 1 0 7 0a3.5 3.5 0 1 0 -7 0M342.4 1351.1a3.5 3.5 0 1 0 7 0a3.5 3.5 0 1 0 -7 0M345 1350.7a3.5 3.5 0 1 0 7 0a3.5 3.5 0 1 0 -7 0M347.4 1351.3a3.5 3.5 0 1 0 7 0a3.5 3.5 0 1 0 -7 0M350 1353.5a3.5 3.5 0 1 0 7 0a3.5 3.5 0 1 0 -7 0M352.6 1352.6a3.5 3.5 0 1 0 7 0a3.5 3.5 0 1 0 -7 0M355.1 1357.3a3.5 3.5 0 1 0 7 0a3.5 3.5 0 1 0 -7 0M357.7 1362.2a3.5 3.5 0 1 0 7 0a3.5 3.5 0 1 0 -7 0M360.3 1363.9a3.5 3.5 0 1 0 7 0a3.5 3.5 0 1 0 -7 0M362.9 1367.4a3.5 3.5 0 1 0 7 0a3.5 3.5 0 1 0 -7 0M365.6 1367.4a3.5 3.5 0 1 0 7 0a3.5 3.5 0 1 0 -7 0M368.2 1368.4a3.5 3.5 0 1 0 7 0a3.5 3.5 0 1 0 -7 0M370.9 1369.7a3.5 3.5 0 1 0 7 0a3.5 3.5 0 1 0 -7 0M373.5 1368.5a3.5 3.5 0 1 0 7 0a3.5 3.5 0 1 0 -7 0M376.2 1373.6a3.5 3.5 0 1 0 7 0a3.5 3.5 0 1 0 -7 0M378.9 1371.3a3.5 3.5 0 1 0 7 0a3.5 3.5 0 1 0 -7 0M381.6 1372.2a3.5 3.5 0 1 0 7 0a3.5 3.5 0 1 0 -7 0M384.4 1369.5a3.5 3.5 0 1 0 7 0a3.5 3.5 0 1 0 -7 0M387.1 1372.2a3.5 3.5 0 1 0 7 0a3.5 3.5 0 1 0 -7 0M389.8 1371.5a3.5 3.5 0 1 0 7 0a3.5 3.5 0 1 0 -7 0M392.6 1373.5a3.5 3.5 0 1 0 7 0a3.5 3.5 0 1 0 -7 0M395.4 1373.3a3.5 3.5 0 1 0 7 0a3.5 3.5 0 1 0 -7 0M398.2 1374.9a3.5 3.5 0 1 0 7 0a3.5 3.5 0 1 0 -7 0M401 1372.9a3.5 3.5 0 1 0 7 0a3.5 3.5 0 1 0 -7 0M403.8 1373.1a3.5 3.5 0 1 0 7 0a3.5 3.5 0 1 0 -7 0M406.6 1366.4a3.5 3.5 0 1 0 7 0a3.5 3.5 0 1 0 -7 0M410.1 1359.6a3.5 3.5 0 1 0 7 0a3.5 3.5 0 1 0 -7 0M412.4 1363.6a3.5 3.5 0 1 0 7 0a3.5 3.5 0 1 0 -7 0M415.2 1372.2a3.5 3.5 0 1 0 7 0a3.5 3.5 0 1 0 -7 0M418.1 1374.1a3.5 3.5 0 1 0 7 0a3.5 3.5 0 1 0 -7 0M421 1374.3a3.5 3.5 0 1 0 7 0a3.5 3.5 0 1 0 -7 0M424 1371.5a3.5 3.5 0 1 0 7 0a3.5 3.5 0 1 0 -7 0M426.9 1372.4a3.5 3.5 0 1 0 7 0a3.5 3.5 0 1 0 -7 0M429.8 1372.5a3.5 3.5 0 1 0 7 0a3.5 3.5 0 1 0 -7 0M432.8 1370.6a3.5 3.5 0 1 0 7 0a3.5 3.5 0 1 0 -7 0M435.8 1372.3a3.5 3.5 0 1 0 7 0a3.5 3.5 0 1 0 -7 0M438.8 1370.7a3.5 3.5 0 1 0 7 0a3.5 3.5 0 1 0 -7 0M441.8 1371.6a3.5 3.5 0 1 0 7 0a3.5 3.5 0 1 0 -7 0M444.8 1372.4a3.5 3.5 0 1 0 7 0a3.5 3.5 0 1 0 -7 0M447.9 1369.5a3.5 3.5 0 1 0 7 0a3.5 3.5 0 1 0 -7 0M450.9 1369.3a3.5 3.5 0 1 0 7 0a3.5 3.5 0 1 0 -7 0M454 1368.5a3.5 3.5 0 1 0 7 0a3.5 3.5 0 1 0 -7 0M457.1 1364.8a3.5 3.5 0 1 0 7 0a3.5 3.5 0 1 0 -7 0M460.2 1363.7a3.5 3.5 0 1 0 7 0a3.5 3.5 0 1 0 -7 0M463.3 1364.5a3.5 3.5 0 1 0 7 0a3.5 3.5 0 1 0 -7 0M466.5 1364.2a3.5 3.5 0 1 0 7 0a3.5 3.5 0 1 0 -7 0M469.6 1361.4a3.5 3.5 0 1 0 7 0a3.5 3.5 0 1 0 -7 0M472.8 1358.2a3.5 3.5 0 1 0 7 0a3.5 3.5 0 1 0 -7 0M476 1359.9a3.5 3.5 0 1 0 7 0a3.5 3.5 0 1 0 -7 0M479.2 1359.2a3.5 3.5 0 1 0 7 0a3.5 3.5 0 1 0 -7 0M482.4 1360.3a3.5 3.5 0 1 0 7 0a3.5 3.5 0 1 0 -7 0M485.6 1353.6a3.5 3.5 0 1 0 7 0a3.5 3.5 0 1 0 -7 0M488.9 1349.6a3.5 3.5 0 1 0 7 0a3.5 3.5 0 1 0 -7 0M492.1 1335.2a3.5 3.5 0 1 0 7 0a3.5 3.5 0 1 0 -7 0M495.4 1310.5a3.5 3.5 0 1 0 7 0a3.5 3.5 0 1 0 -7 0M498.7 1268a3.5 3.5 0 1 0 7 0a3.5 3.5 0 1 0 -7 0M500.7 1249.1a3.5 3.5 0 1 0 7 0a3.5 3.5 0 1 0 -7 0M505.4 1270.8a3.5 3.5 0 1 0 7 0a3.5 3.5 0 1 0 -7 0M508.7 1290.9a3.5 3.5 0 1 0 7 0a3.5 3.5 0 1 0 -7 0M512.1 1312.5a3.5 3.5 0 1 0 7 0a3.5 3.5 0 1 0 -7 0M515.5 1328.2a3.5 3.5 0 1 0 7 0a3.5 3.5 0 1 0 -7 0M518.9 1341.4a3.5 3.5 0 1 0 7 0a3.5 3.5 0 1 0 -7 0M522.3 1347.6a3.5 3.5 0 1 0 7 0a3.5 3.5 0 1 0 -7 0M525.7 1347.1a3.5 3.5 0 1 0 7 0a3.5 3.5 0 1 0 -7 0M529.2 1347.9a3.5 3.5 0 1 0 7 0a3.5 3.5 0 1 0 -7 0M532.6 1348.5a3.5 3.5 0 1 0 7 0a3.5 3.5 0 1 0 -7 0M536.1 1346.6a3.5 3.5 0 1 0 7 0a3.5 3.5 0 1 0 -7 0M539.6 1346a3.5 3.5 0 1 0 7 0a3.5 3.5 0 1 0 -7 0M544.5 1341.5a3.5 3.5 0 1 0 7 0a3.5 3.5 0 1 0 -7 0M546.7 1341.7a3.5 3.5 0 1 0 7 0a3.5 3.5 0 1 0 -7 0M550.2 1341.7a3.5 3.5 0 1 0 7 0a3.5 3.5 0 1 0 -7 0M553.8 1344.6a3.5 3.5 0 1 0 7 0a3.5 3.5 0 1 0 -7 0M557.4 1346.3a3.5 3.5 0 1 0 7 0a3.5 3.5 0 1 0 -7 0M561.9 1336.4a3.5 3.5 0 1 0 7 0a3.5 3.5 0 1 0 -7 0M564.6 1336.5a3.5 3.5 0 1 0 7 0a3.5 3.5 0 1 0 -7 0M568.3 1338.2a3.5 3.5 0 1 0 7 0a3.5 3.5 0 1 0 -7 0M572 1338.2a3.5 3.5 0 1 0 7 0a3.5 3.5 0 1 0 -7 0M575.6 1332.1a3.5 3.5 0 1 0 7 0a3.5 3.5 0 1 0 -7 0M579.3 1326.6a3.5 3.5 0 1 0 7 0a3.5 3.5 0 1 0 -7 0M583.1 1325.2a3.5 3.5 0 1 0 7 0a3.5 3.5 0 1 0 -7 0M586.8 1321.1a3.5 3.5 0 1 0 7 0a3.5 3.5 0 1 0 -7 0M591 1297.4a3.5 3.5 0 1 0 7 0a3.5 3.5 0 1 0 -7 0M594.3 1299a3.5 3.5 0 1 0 7 0a3.5 3.5 0 1 0 -7 0M598.1 1319a3.5 3.5 0 1 0 7 0a3.5 3.5 0 1 0 -7 0M602 1342.6a3.5 3.5 0 1 0 7 0a3.5 3.5 0 1 0 -7 0M605.8 1351.9a3.5 3.5 0 1 0 7 0a3.5 3.5 0 1 0 -7 0M609.6 1352.9a3.5 3.5 0 1 0 7 0a3.5 3.5 0 1 0 -7 0M613.5 1353.3a3.5 3.5 0 1 0 7 0a3.5 3.5 0 1 0 -7 0M617.4 1355.3a3.5 3.5 0 1 0 7 0a3.5 3.5 0 1 0 -7 0M621.3 1350.6a3.5 3.5 0 1 0 7 0a3.5 3.5 0 1 0 -7 0M625.3 1350.6a3.5 3.5 0 1 0 7 0a3.5 3.5 0 1 0 -7 0M629.2 1350a3.5 3.5 0 1 0 7 0a3.5 3.5 0 1 0 -7 0M633.1 1349.9a3.5 3.5 0 1 0 7 0a3.5 3.5 0 1 0 -7 0M637.2 1352.3a3.5 3.5 0 1 0 7 0a3.5 3.5 0 1 0 -7 0M641.2 1352.1a3.5 3.5 0 1 0 7 0a3.5 3.5 0 1 0 -7 0M645.2 1356a3.5 3.5 0 1 0 7 0a3.5 3.5 0 1 0 -7 0M649.3 1354.5a3.5 3.5 0 1 0 7 0a3.5 3.5 0 1 0 -7 0M653.4 1355a3.5 3.5 0 1 0 7 0a3.5 3.5 0 1 0 -7 0M657.5 1356.7a3.5 3.5 0 1 0 7 0a3.5 3.5 0 1 0 -7 0M661.6 1354.7a3.5 3.5 0 1 0 7 0a3.5 3.5 0 1 0 -7 0M665.7 1349.4a3.5 3.5 0 1 0 7 0a3.5 3.5 0 1 0 -7 0M669.9 1350.1a3.5 3.5 0 1 0 7 0a3.5 3.5 0 1 0 -7 0M674.9 1347.1a3.5 3.5 0 1 0 7 0a3.5 3.5 0 1 0 -7 0M678.3 1352.3a3.5 3.5 0 1 0 7 0a3.5 3.5 0 1 0 -7 0M682.5 1356.2a3.5 3.5 0 1 0 7 0a3.5 3.5 0 1 0 -7 0M686.7 1352.4a3.5 3.5 0 1 0 7 0a3.5 3.5 0 1 0 -7 0M691 1355.6a3.5 3.5 0 1 0 7 0a3.5 3.5 0 1 0 -7 0M695.3 1354.5a3.5 3.5 0 1 0 7 0a3.5 3.5 0 1 0 -7 0M699.6 1351.3a3.5 3.5 0 1 0 7 0a3.5 3.5 0 1 0 -7 0M703.9 1355.7a3.5 3.5 0 1 0 7 0a3.5 3.5 0 1 0 -7 0M708.3 1357.9a3.5 3.5 0 1 0 7 0a3.5 3.5 0 1 0 -7 0M712.6 1360.2a3.5 3.5 0 1 0 7 0a3.5 3.5 0 1 0 -7 0M717 1357.7a3.5 3.5 0 1 0 7 0a3.5 3.5 0 1 0 -7 0M721.4 1354.6a3.5 3.5 0 1 0 7 0a3.5 3.5 0 1 0 -7 0M725.9 1357.8a3.5 3.5 0 1 0 7 0a3.5 3.5 0 1 0 -7 0M730.4 1356a3.5 3.5 0 1 0 7 0a3.5 3.5 0 1 0 -7 0M734.8 1355.4a3.5 3.5 0 1 0 7 0a3.5 3.5 0 1 0 -7 0M739.3 1355.5a3.5 3.5 0 1 0 7 0a3.5 3.5 0 1 0 -7 0M743.9 1351.8a3.5 3.5 0 1 0 7 0a3.5 3.5 0 1 0 -7 0M748.4 1345.5a3.5 3.5 0 1 0 7 0a3.5 3.5 0 1 0 -7 0M753 1328.1a3.5 3.5 0 1 0 7 0a3.5 3.5 0 1 0 -7 0M757 1320.9a3.5 3.5 0 1 0 7 0a3.5 3.5 0 1 0 -7 0M762.2 1346.4a3.5 3.5 0 1 0 7 0a3.5 3.5 0 1 0 -7 0M766.9 1345.9a3.5 3.5 0 1 0 7 0a3.5 3.5 0 1 0 -7 0M771.5 1345.2a3.5 3.5 0 1 0 7 0a3.5 3.5 0 1 0 -7 0M776.2 1346.2a3.5 3.5 0 1 0 7 0a3.5 3.5 0 1 0 -7 0M780.9 1343a3.5 3.5 0 1 0 7 0a3.5 3.5 0 1 0 -7 0M785.7 1344.8a3.5 3.5 0 1 0 7 0a3.5 3.5 0 1 0 -7 0M790.5 1339.6a3.5 3.5 0 1 0 7 0a3.5 3.5 0 1 0 -7 0M795.2 1338.6a3.5 3.5 0 1 0 7 0a3.5 3.5 0 1 0 -7 0M800.1 1334.4a3.5 3.5 0 1 0 7 0a3.5 3.5 0 1 0 -7 0M804.9 1322a3.5 3.5 0 1 0 7 0a3.5 3.5 0 1 0 -7 0M810.3 1320.3a3.5 3.5 0 1 0 7 0a3.5 3.5 0 1 0 -7 0M814.6 1327.7a3.5 3.5 0 1 0 7 0a3.5 3.5 0 1 0 -7 0M819.6 1325a3.5 3.5 0 1 0 7 0a3.5 3.5 0 1 0 -7 0M824.5 1325a3.5 3.5 0 1 0 7 0a3.5 3.5 0 1 0 -7 0M829.4 1317.9a3.5 3.5 0 1 0 7 0a3.5 3.5 0 1 0 -7 0M834.4 1305.2a3.5 3.5 0 1 0 7 0a3.5 3.5 0 1 0 -7 0M839.4 1285.7a3.5 3.5 0 1 0 7 0a3.5 3.5 0 1 0 -7 0M842.5 1278.3a3.5 3.5 0 1 0 7 0a3.5 3.5 0 1 0 -7 0M849.5 1310.6a3.5 3.5 0 1 0 7 0a3.5 3.5 0 1 0 -7 0M854.6 1320.5a3.5 3.5 0 1 0 7 0a3.5 3.5 0 1 0 -7 0M859.7 1325.4a3.5 3.5 0 1 0 7 0a3.5 3.5 0 1 0 -7 0M864.9 1322.6a3.5 3.5 0 1 0 7 0a3.5 3.5 0 1 0 -7 0M870 1334.5a3.5 3.5 0 1 0 7 0a3.5 3.5 0 1 0 -7 0M875.2 1328.6a3.5 3.5 0 1 0 7 0a3.5 3.5 0 1 0 -7 0M880.4 1330.1a3.5 3.5 0 1 0 7 0a3.5 3.5 0 1 0 -7 0M885.7 1333.5a3.5 3.5 0 1 0 7 0a3.5 3.5 0 1 0 -7 0M891 1329.1a3.5 3.5 0 1 0 7 0a3.5 3.5 0 1 0 -7 0M896.3 1334.4a3.5 3.5 0 1 0 7 0a3.5 3.5 0 1 0 -7 0M901.6 1336.8a3.5 3.5 0 1 0 7 0a3.5 3.5 0 1 0 -7 0M906.9 1340.4a3.5 3.5 0 1 0 7 0a3.5 3.5 0 1 0 -7 0M912.3 1346.3a3.5 3.5 0 1 0 7 0a3.5 3.5 0 1 0 -7 0M917.7 1339.7a3.5 3.5 0 1 0 7 0a3.5 3.5 0 1 0 -7 0M923.1 1339.3a3.5 3.5 0 1 0 7 0a3.5 3.5 0 1 0 -7 0M928.6 1340.2a3.5 3.5 0 1 0 7 0a3.5 3.5 0 1 0 -7 0M934.1 1326.7a3.5 3.5 0 1 0 7 0a3.5 3.5 0 1 0 -7 0M939.5 1309.5a3.5 3.5 0 1 0 7 0a3.5 3.5 0 1 0 -7 0M945.1 1322.5a3.5 3.5 0 1 0 7 0a3.5 3.5 0 1 0 -7 0M950.7 1339.7a3.5 3.5 0 1 0 7 0a3.5 3.5 0 1 0 -7 0" fill="#080808"/>
<path d="M152 1360.4 L152.6 1360.8 L154.1 1361.8 L155.7 1362.6 L157.3 1363.1 L158.8 1363.5 L160.4 1363.8 L162 1363.9 L163.6 1364 L166 1364 L168 1362.4 L170.1 1363.8 L171.7 1364.6 L173.4 1365 L175 1365.4 L176.7 1365.6 L178.3 1365.8 L180 1366 L181.7 1366.2 L183.4 1366.3 L185.1 1366.4 L186.8 1366.5 L188.5 1366.6 L190 1366.6 L192 1366.5 L193.8 1366.2 L195.5 1365.8 L197.3 1365.2 L199.1 1364.4 L200.8 1362.8 L202.6 1360.5 L204.4 1356.9 L206.2 1351.8 L208.1 1347.6 L210.4 1344 L211.7 1345.2 L213.6 1349.1 L215.4 1353.7 L217.3 1358.7 L219.2 1361.6 L221.1 1363.7 L223 1365.2 L224.9 1365.8 L226.8 1366.2 L228.7 1366.6 L230.6 1366.8 L232.6 1367 L234.5 1367 L236.5 1367 L238.5 1367 L240.5 1367 L242.4 1367 L244.5 1367 L246.5 1367 L248.5 1365 L250 1363 L252.4 1364 L255.6 1356.4 L259 1365.6 L260.8 1365.4 L262.9 1364.8 L265 1363.8 L267.2 1362.7 L269.3 1361.4 L271.4 1360.1 L273.6 1358.5 L275.7 1356.5 L277.9 1354.1 L280.1 1350.5 L282.3 1345.8 L284.5 1340.9 L286.7 1335.5 L288.9 1330.6 L291.2 1327.6 L293.6 1326 L295.7 1326.5 L298 1327.8 L300.2 1329.1 L302.5 1330.1 L304.8 1331.2 L307.2 1333.2 L309.5 1336.7 L311.8 1340.1 L314.2 1343.3 L316.5 1346.4 L318.9 1349.9 L321.3 1353.4 L323.7 1355.4 L326.1 1356.4 L329 1357 L331 1356.9 L333.4 1356.5 L335.9 1356 L338.4 1355.4 L340.9 1354 L343.4 1352.1 L345.9 1350.3 L348.5 1349.5 L350.9 1350.2 L353.5 1351.8 L356.1 1354 L358.6 1357.4 L361.2 1360.8 L363.8 1363 L366.4 1365 L369.1 1366.8 L371.7 1368.2 L374.4 1369.1 L377 1369.8 L379.7 1370.4 L382.4 1371 L385.1 1371.5 L387.9 1371.8 L390.6 1372 L393.3 1372 L396.1 1372 L398.9 1372 L401.7 1372 L404.5 1372 L407.3 1371.9 L410.1 1365.7 L413.6 1358.5 L415.9 1363.6 L419 1372 L421.6 1372 L424.5 1371.9 L427.5 1371.8 L430.4 1371.7 L433.3 1371.6 L436.3 1371.4 L439.3 1371.1 L442.3 1370.9 L445.3 1370.6 L448.3 1370.1 L451.4 1369 L454.4 1367.7 L457.5 1366.2 L460.6 1364.3 L463.7 1362.2 L466.8 1361.3 L470 1361 L473.1 1360.8 L476.3 1360.7 L479.5 1360.5 L482.7 1360.1 L485.9 1358.2 L489.1 1353.2 L492.4 1346.7 L495.6 1336.3 L498.9 1311.6 L502.2 1268.2 L504.2 1250.5 L508.9 1269.3 L512.2 1291.4 L515.6 1312.1 L519 1327.7 L522.4 1339.3 L525.8 1343.2 L529.2 1345 L532.7 1346.1 L536 1346.5 L539.6 1345.5 L543.1 1343.6 L548 1342 L550.2 1342.2 L553.7 1343.1 L557.3 1344.1 L560 1344.4 L565.4 1334.5 L568.1 1335.6 L572 1337.5 L575.5 1335.6 L579.1 1331 L582.8 1326.4 L586.6 1324.3 L590.3 1322.7 L594.5 1297.6 L597.8 1298.6 L601.6 1318.8 L605.5 1343 L609.3 1348.5 L613.1 1349.7 L617 1350.5 L621.4 1350.8 L624.8 1350.6 L628.8 1349.9 L632.7 1349.2 L636.6 1348.9 L640.7 1349.4 L644.7 1350.4 L648.7 1351.3 L652.8 1352.2 L656.9 1352.9 L659.4 1353.1 L661 1353 L665.1 1351.8 L669.2 1349.9 L673.4 1348.1 L678.4 1347 L681.8 1347.7 L686 1349.7 L690.2 1351.3 L694.5 1352.3 L698.8 1353.2 L703.1 1353.9 L707.4 1354.1 L711.8 1354.1 L716.1 1354.1 L720.5 1354.1 L724.9 1354.1 L729.4 1354.1 L733.9 1353.8 L738.3 1353.2 L742.8 1352.5 L747.4 1351.5 L751.9 1342.9 L756.5 1327.2 L760.5 1321.8 L765.7 1345.4 L771.5 1347.8 L775 1346.3 L779.7 1344.3 L784.4 1343.3 L789.2 1342.1 L794 1340.4 L798.7 1337.5 L803.6 1331.3 L808.4 1322.1 L813.8 1321.3 L818.1 1323.7 L819.5 1324.1 L823.1 1323.7 L828 1322.2 L832.9 1318.7 L837.9 1307.4 L842.9 1284.6 L846 1276.6 L853 1309.6 L858.1 1317.6 L863.2 1320 L868.4 1323 L873.5 1327.1 L878.7 1329.1 L883.9 1329.7 L889.2 1330.1 L894.5 1330.8 L899.8 1333.8 L905.1 1337 L910.4 1339 L915.8 1340 L921.2 1340.6 L926.6 1341.1 L931.6 1341.2 L937.6 1329 L943 1309.9 L948.6 1323.4 L954.2 1336 L959.1 1337.8" stroke="#ff0000" stroke-width="1.6" fill="none" stroke-linejoin="round"/>
<path d="M149.1 1510.1a3.5 3.5 0 1 0 7 0a3.5 3.5 0 1 0 -7 0M150.6 1514.9a3.5 3.5 0 1 0 7 0a3.5 3.5 0 1 0 -7 0M152.2 1515.4a3.5 3.5 0 1 0 7 0a3.5 3.5 0 1 0 -7 0M153.8 1507.3a3.5 3.5 0 1 0 7 0a3.5 3.5 0 1 0 -7 0M155.3 1513a3.5 3.5 0 1 0 7 0a3.5 3.5 0 1 0 -7 0M156.9 1516.3a3.5 3.5 0 1 0 7 0a3.5 3.5 0 1 0 -7 0M158.5 1511.2a3.5 3.5 0 1 0 7 0a3.5 3.5 0 1 0 -7 0M160.1 1512.5a3.5 3.5 0 1 0 7 0a3.5 3.5 0 1 0 -7 0M161.7 1512.7a3.5 3.5 0 1 0 7 0a3.5 3.5 0 1 0 -7 0M163.3 1507a3.5 3.5 0 1 0 7 0a3.5 3.5 0 1 0 -7 0M165.5 1506.7a3.5 3.5 0 1 0 7 0a3.5 3.5 0 1 0 -7 0M166.6 1512.8a3.5 3.5 0 1 0 7 0a3.5 3.5 0 1 0 -7 0M168.2 1514.5a3.5 3.5 0 1 0 7 0a3.5 3.5 0 1 0 -7 0M169.9 1517.2a3.5 3.5 0 1 0 7 0a3.5 3.5 0 1 0 -7 0M171.5 1510.9a3.5 3.5 0 1 0 7 0a3.5 3.5 0 1 0 -7 0M173.2 1512.5a3.5 3.5 0 1 0 7 0a3.5 3.5 0 1 0 -7 0M174.8 1518.9a3.5 3.5 0 1 0 7 0a3.5 3.5 0 1 0 -7 0M176.5 1510.2a3.5 3.5 0 1 0 7 0a3.5 3.5 0 1 0 -7 0M178.2 1514.4a3.5 3.5 0 1 0 7 0a3.5 3.5 0 1 0 -7 0M179.9 1510.8a3.5 3.5 0 1 0 7 0a3.5 3.5 0 1 0 -7 0M181.6 1516.1a3.5 3.5 0 1 0 7 0a3.5 3.5 0 1 0 -7 0M183.3 1521a3.5 3.5 0 1 0 7 0a3.5 3.5 0 1 0 -7 0M185 1523.1a3.5 3.5 0 1 0 7 0a3.5 3.5 0 1 0 -7 0M186.8 1513.8a3.5 3.5 0 1 0 7 0a3.5 3.5 0 1 0 -7 0M188.5 1516.3a3.5 3.5 0 1 0 7 0a3.5 3.5 0 1 0 -7 0M190.3 1508.7a3.5 3.5 0 1 0 7 0a3.5 3.5 0 1 0 -7 0M192 1517.3a3.5 3.5 0 1 0 7 0a3.5 3.5 0 1 0 -7 0M193.8 1514.3a3.5 3.5 0 1 0 7 0a3.5 3.5 0 1 0 -7 0M195.6 1525.1a3.5 3.5 0 1 0 7 0a3.5 3.5 0 1 0 -7 0M197.3 1510.6a3.5 3.5 0 1 0 7 0a3.5 3.5 0 1 0 -7 0M199.5 1504.4a3.5 3.5 0 1 0 7 0a3.5 3.5 0 1 0 -7 0M200.9 1506.4a3.5 3.5 0 1 0 7 0a3.5 3.5 0 1 0 -7 0M202.7 1510.5a3.5 3.5 0 1 0 7 0a3.5 3.5 0 1 0 -7 0M204.6 1506.4a3.5 3.5 0 1 0 7 0a3.5 3.5 0 1 0 -7 0M206.9 1506.4a3.5 3.5 0 1 0 7 0a3.5 3.5 0 1 0 -7 0M208.2 1505.8a3.5 3.5 0 1 0 7 0a3.5 3.5 0 1 0 -7 0M210.1 1509a3.5 3.5 0 1 0 7 0a3.5 3.5 0 1 0 -7 0M211.9 1510.3a3.5 3.5 0 1 0 7 0a3.5 3.5 0 1 0 -7 0M213.8 1510.2a3.5 3.5 0 1 0 7 0a3.5 3.5 0 1 0 -7 0M215.7 1517a3.5 3.5 0 1 0 7 0a3.5 3.5 0 1 0 -7 0M217.6 1516.4a3.5 3.5 0 1 0 7 0a3.5 3.5 0 1 0 -7 0M219.5 1517a3.5 3.5 0 1 0 7 0a3.5 3.5 0 1 0 -7 0M221.4 1518.9a3.5 3.5 0 1 0 7 0a3.5 3.5 0 1 0 -7 0M223.3 1525.8a3.5 3.5 0 1 0 7 0a3.5 3.5 0 1 0 -7 0M225.2 1527.3a3.5 3.5 0 1 0 7 0a3.5 3.5 0 1 0 -7 0M227.1 1521.2a3.5 3.5 0 1 0 7 0a3.5 3.5 0 1 0 -7 0M229.1 1522.4a3.5 3.5 0 1 0 7 0a3.5 3.5 0 1 0 -7 0M231 1516.6a3.5 3.5 0 1 0 7 0a3.5 3.5 0 1 0 -7 0M233 1524.2a3.5 3.5 0 1 0 7 0a3.5 3.5 0 1 0 -7 0M234.5 1513.3a3.5 3.5 0 1 0 7 0a3.5 3.5 0 1 0 -7 0M237 1512.3a3.5 3.5 0 1 0 7 0a3.5 3.5 0 1 0 -7 0M238.9 1522.1a3.5 3.5 0 1 0 7 0a3.5 3.5 0 1 0 -7 0M241 1520.4a3.5 3.5 0 1 0 7 0a3.5 3.5 0 1 0 -7 0M243 1523.3a3.5 3.5 0 1 0 7 0a3.5 3.5 0 1 0 -7 0M245 1521.6a3.5 3.5 0 1 0 7 0a3.5 3.5 0 1 0 -7 0M247 1518.9a3.5 3.5 0 1 0 7 0a3.5 3.5 0 1 0 -7 0M248.5 1513.6a3.5 3.5 0 1 0 7 0a3.5 3.5 0 1 0 -7 0M251.1 1516.9a3.5 3.5 0 1 0 7 0a3.5 3.5 0 1 0 -7 0M253.2 1518.2a3.5 3.5 0 1 0 7 0a3.5 3.5 0 1 0 -7 0M255.3 1521.3a3.5 3.5 0 1 0 7 0a3.5 3.5 0 1 0 -7 0M257.3 1525.7a3.5 3.5 0 1 0 7 0a3.5 3.5 0 1 0 -7 0M259.4 1513.2a3.5 3.5 0 1 0 7 0a3.5 3.5 0 1 0 -7 0M261.5 1519.5a3.5 3.5 0 1 0 7 0a3.5 3.5 0 1 0 -7 0M263.7 1518.6a3.5 3.5 0 1 0 7 0a3.5 3.5 0 1 0 -7 0M265.8 1519a3.5 3.5 0 1 0 7 0a3.5 3.5 0 1 0 -7 0M267.9 1514.3a3.5 3.5 0 1 0 7 0a3.5 3.5 0 1 0 -7 0M270.1 1517.5a3.5 3.5 0 1 0 7 0a3.5 3.5 0 1 0 -7 0M272.2 1517.7a3.5 3.5 0 1 0 7 0a3.5 3.5 0 1 0 -7 0M274.4 1512.6a3.5 3.5 0 1 0 7 0a3.5 3.5 0 1 0 -7 0M276.6 1515.1a3.5 3.5 0 1 0 7 0a3.5 3.5 0 1 0 -7 0M278.8 1509.5a3.5 3.5 0 1 0 7 0a3.5 3.5 0 1 0 -7 0M281 1506.3a3.5 3.5 0 1 0 7 0a3.5 3.5 0 1 0 -7 0M283.2 1503.6a3.5 3.5 0 1 0 7 0a3.5 3.5 0 1 0 -7 0M285.4 1502.7a3.5 3.5 0 1 0 7 0a3.5 3.5 0 1 0 -7 0M287.7 1496.7a3.5 3.5 0 1 0 7 0a3.5 3.5 0 1 0 -7 0M290.1 1497.2a3.5 3.5 0 1 0 7 0a3.5 3.5 0 1 0 -7 0M292.2 1500a3.5 3.5 0 1 0 7 0a3.5 3.5 0 1 0 -7 0M294.5 1497.6a3.5 3.5 0 1 0 7 0a3.5 3.5 0 1 0 -7 0M296.7 1495.1a3.5 3.5 0 1 0 7 0a3.5 3.5 0 1 0 -7 0M299 1499a3.5 3.5 0 1 0 7 0a3.5 3.5 0 1 0 -7 0M301.3 1497.5a3.5 3.5 0 1 0 7 0a3.5 3.5 0 1 0 -7 0M303.7 1499.5a3.5 3.5 0 1 0 7 0a3.5 3.5 0 1 0 -7 0M306 1501.4a3.5 3.5 0 1 0 7 0a3.5 3.5 0 1 0 -7 0M308.3 1502.3a3.5 3.5 0 1 0 7 0a3.5 3.5 0 1 0 -7 0M310.7 1504.9a3.5 3.5 0 1 0 7 0a3.5 3.5 0 1 0 -7 0M313 1507.4a3.5 3.5 0 1 0 7 0a3.5 3.5 0 1 0 -7 0M315.4 1506.5a3.5 3.5 0 1 0 7 0a3.5 3.5 0 1 0 -7 0M317.8 1510a3.5 3.5 0 1 0 7 0a3.5 3.5 0 1 0 -7 0M320.2 1513.8a3.5 3.5 0 1 0 7 0a3.5 3.5 0 1 0 -7 0M322.6 1509.8a3.5 3.5 0 1 0 7 0a3.5 3.5 0 1 0 -7 0M325.1 1513.9a3.5 3.5 0 1 0 7 0a3.5 3.5 0 1 0 -7 0M327.5 1519.6a3.5 3.5 0 1 0 7 0a3.5 3.5 0 1 0 -7 0M329.9 1517.2a3.5 3.5 0 1 0 7 0a3.5 3.5 0 1 0 -7 0M332.4 1516.2a3.5 3.5 0 1 0 7 0a3.5 3.5 0 1 0 -7 0M334.9 1516.6a3.5 3.5 0 1 0 7 0a3.5 3.5 0 1 0 -7 0M337.4 1515.2a3.5 3.5 0 1 0 7 0a3.5 3.5 0 1 0 -7 0M339.9 1514.5a3.5 3.5 0 1 0 7 0a3.5 3.5 0 1 0 -7 0M342.4 1517.1a3.5 3.5 0 1 0 7 0a3.5 3.5 0 1 0 -7 0M345 1509.9a3.5 3.5 0 1 0 7 0a3.5 3.5 0 1 0 -7 0M347.4 1512.3a3.5 3.5 0 1 0 7 0a3.5 3.5 0 1 0 -7 0M350 1513.6a3.5 3.5 0 1 0 7 0a3.5 3.5 0 1 0 -7 0M352.6 1516.7a3.5 3.5 0 1 0 7 0a3.5 3.5 0 1 0 -7 0M355.1 1517.2a3.5 3.5 0 1 0 7 0a3.5 3.5 0 1 0 -7 0M357.7 1519.5a3.5 3.5 0 1 0 7 0a3.5 3.5 0 1 0 -7 0M360.3 1519.9a3.5 3.5 0 1 0 7 0a3.5 3.5 0 1 0 -7 0M362.9 1515a3.5 3.5 0 1 0 7 0a3.5 3.5 0 1 0 -7 0M365.6 1516.3a3.5 3.5 0 1 0 7 0a3.5 3.5 0 1 0 -7 0M368.2 1518.8a3.5 3.5 0 1 0 7 0a3.5 3.5 0 1 0 -7 0M370.9 1517.6a3.5 3.5 0 1 0 7 0a3.5 3.5 0 1 0 -7 0M373.5 1519.1a3.5 3.5 0 1 0 7 0a3.5 3.5 0 1 0 -7 0M376.2 1523a3.5 3.5 0 1 0 7 0a3.5 3.5 0 1 0 -7 0M378.9 1519a3.5 3.5 0 1 0 7 0a3.5 3.5 0 1 0 -7 0M381.6 1519a3.5 3.5 0 1 0 7 0a3.5 3.5 0 1 0 -7 0M384.4 1522.3a3.5 3.5 0 1 0 7 0a3.5 3.5 0 1 0 -7 0M387.1 1521.2a3.5 3.5 0 1 0 7 0a3.5 3.5 0 1 0 -7 0M389.8 1522.4a3.5 3.5 0 1 0 7 0a3.5 3.5 0 1 0 -7 0M392.6 1525.8a3.5 3.5 0 1 0 7 0a3.5 3.5 0 1 0 -7 0M395.4 1524.9a3.5 3.5 0 1 0 7 0a3.5 3.5 0 1 0 -7 0M398.2 1521.4a3.5 3.5 0 1 0 7 0a3.5 3.5 0 1 0 -7 0M401 1521.7a3.5 3.5 0 1 0 7 0a3.5 3.5 0 1 0 -7 0M403.8 1518.9a3.5 3.5 0 1 0 7 0a3.5 3.5 0 1 0 -7 0M406.6 1509.7a3.5 3.5 0 1 0 7 0a3.5 3.5 0 1 0 -7 0M409.5 1501.6a3.5 3.5 0 1 0 7 0a3.5 3.5 0 1 0 -7 0M412.4 1512.1a3.5 3.5 0 1 0 7 0a3.5 3.5 0 1 0 -7 0M415.2 1523.6a3.5 3.5 0 1 0 7 0a3.5 3.5 0 1 0 -7 0M418.1 1519.7a3.5 3.5 0 1 0 7 0a3.5 3.5 0 1 0 -7 0M421 1517.9a3.5 3.5 0 1 0 7 0a3.5 3.5 0 1 0 -7 0M424 1521.2a3.5 3.5 0 1 0 7 0a3.5 3.5 0 1 0 -7 0M426.9 1521.7a3.5 3.5 0 1 0 7 0a3.5 3.5 0 1 0 -7 0M429.8 1520.7a3.5 3.5 0 1 0 7 0a3.5 3.5 0 1 0 -7 0M432.8 1517.5a3.5 3.5 0 1 0 7 0a3.5 3.5 0 1 0 -7 0M435.8 1520a3.5 3.5 0 1 0 7 0a3.5 3.5 0 1 0 -7 0M438.8 1517.4a3.5 3.5 0 1 0 7 0a3.5 3.5 0 1 0 -7 0M441.8 1514.2a3.5 3.5 0 1 0 7 0a3.5 3.5 0 1 0 -7 0M444.8 1515.5a3.5 3.5 0 1 0 7 0a3.5 3.5 0 1 0 -7 0M447.9 1517a3.5 3.5 0 1 0 7 0a3.5 3.5 0 1 0 -7 0M450.9 1514.8a3.5 3.5 0 1 0 7 0a3.5 3.5 0 1 0 -7 0M454 1510.7a3.5 3.5 0 1 0 7 0a3.5 3.5 0 1 0 -7 0M456 1508.9a3.5 3.5 0 1 0 7 0a3.5 3.5 0 1 0 -7 0M460.2 1514.8a3.5 3.5 0 1 0 7 0a3.5 3.5 0 1 0 -7 0M463.3 1509.8a3.5 3.5 0 1 0 7 0a3.5 3.5 0 1 0 -7 0M466.5 1506.2a3.5 3.5 0 1 0 7 0a3.5 3.5 0 1 0 -7 0M469.5 1509.2a3.5 3.5 0 1 0 7 0a3.5 3.5 0 1 0 -7 0M472.8 1509.4a3.5 3.5 0 1 0 7 0a3.5 3.5 0 1 0 -7 0M476 1507.9a3.5 3.5 0 1 0 7 0a3.5 3.5 0 1 0 -7 0M479.2 1507.1a3.5 3.5 0 1 0 7 0a3.5 3.5 0 1 0 -7 0M482.4 1506.7a3.5 3.5 0 1 0 7 0a3.5 3.5 0 1 0 -7 0M485.6 1504.3a3.5 3.5 0 1 0 7 0a3.5 3.5 0 1 0 -7 0M488.9 1498.6a3.5 3.5 0 1 0 7 0a3.5 3.5 0 1 0 -7 0M492.1 1489.5a3.5 3.5 0 1 0 7 0a3.5 3.5 0 1 0 -7 0M495.4 1471a3.5 3.5 0 1 0 7 0a3.5 3.5 0 1 0 -7 0M498.7 1439.8a3.5 3.5 0 1 0 7 0a3.5 3.5 0 1 0 -7 0M500.7 1427.8a3.5 3.5 0 1 0 7 0a3.5 3.5 0 1 0 -7 0M505.4 1442.8a3.5 3.5 0 1 0 7 0a3.5 3.5 0 1 0 -7 0M508.7 1456.7a3.5 3.5 0 1 0 7 0a3.5 3.5 0 1 0 -7 0M512.1 1473.8a3.5 3.5 0 1 0 7 0a3.5 3.5 0 1 0 -7 0M515.5 1483.8a3.5 3.5 0 1 0 7 0a3.5 3.5 0 1 0 -7 0M518.9 1491a3.5 3.5 0 1 0 7 0a3.5 3.5 0 1 0 -7 0M522.3 1492.5a3.5 3.5 0 1 0 7 0a3.5 3.5 0 1 0 -7 0M525.7 1497.2a3.5 3.5 0 1 0 7 0a3.5 3.5 0 1 0 -7 0M529.2 1500.1a3.5 3.5 0 1 0 7 0a3.5 3.5 0 1 0 -7 0M532.6 1501.7a3.5 3.5 0 1 0 7 0a3.5 3.5 0 1 0 -7 0M536.1 1499.4a3.5 3.5 0 1 0 7 0a3.5 3.5 0 1 0 -7 0M539.6 1496.9a3.5 3.5 0 1 0 7 0a3.5 3.5 0 1 0 -7 0M543.1 1497.8a3.5 3.5 0 1 0 7 0a3.5 3.5 0 1 0 -7 0M547.5 1498.1a3.5 3.5 0 1 0 7 0a3.5 3.5 0 1 0 -7 0M550.2 1493.2a3.5 3.5 0 1 0 7 0a3.5 3.5 0 1 0 -7 0M553.8 1495.3a3.5 3.5 0 1 0 7 0a3.5 3.5 0 1 0 -7 0M557.4 1495.4a3.5 3.5 0 1 0 7 0a3.5 3.5 0 1 0 -7 0M562.5 1485.5a3.5 3.5 0 1 0 7 0a3.5 3.5 0 1 0 -7 0M564.6 1487.4a3.5 3.5 0 1 0 7 0a3.5 3.5 0 1 0 -7 0M568.3 1498.5a3.5 3.5 0 1 0 7 0a3.5 3.5 0 1 0 -7 0M572 1496.8a3.5 3.5 0 1 0 7 0a3.5 3.5 0 1 0 -7 0M575.6 1494.9a3.5 3.5 0 1 0 7 0a3.5 3.5 0 1 0 -7 0M579.3 1490.1a3.5 3.5 0 1 0 7 0a3.5 3.5 0 1 0 -7 0M583.1 1491.3a3.5 3.5 0 1 0 7 0a3.5 3.5 0 1 0 -7 0M586.8 1487.9a3.5 3.5 0 1 0 7 0a3.5 3.5 0 1 0 -7 0M590.6 1462.3a3.5 3.5 0 1 0 7 0a3.5 3.5 0 1 0 -7 0M595.5 1457.5a3.5 3.5 0 1 0 7 0a3.5 3.5 0 1 0 -7 0M598.1 1478.8a3.5 3.5 0 1 0 7 0a3.5 3.5 0 1 0 -7 0M602 1496.5a3.5 3.5 0 1 0 7 0a3.5 3.5 0 1 0 -7 0M605.8 1500.5a3.5 3.5 0 1 0 7 0a3.5 3.5 0 1 0 -7 0M609.6 1505.9a3.5 3.5 0 1 0 7 0a3.5 3.5 0 1 0 -7 0M613.5 1504.5a3.5 3.5 0 1 0 7 0a3.5 3.5 0 1 0 -7 0M617.4 1507.7a3.5 3.5 0 1 0 7 0a3.5 3.5 0 1 0 -7 0M621.3 1511.5a3.5 3.5 0 1 0 7 0a3.5 3.5 0 1 0 -7 0M625.3 1504.2a3.5 3.5 0 1 0 7 0a3.5 3.5 0 1 0 -7 0M629.2 1507.9a3.5 3.5 0 1 0 7 0a3.5 3.5 0 1 0 -7 0M633.2 1508.6a3.5 3.5 0 1 0 7 0a3.5 3.5 0 1 0 -7 0M637.2 1514.4a3.5 3.5 0 1 0 7 0a3.5 3.5 0 1 0 -7 0M641.2 1510.4a3.5 3.5 0 1 0 7 0a3.5 3.5 0 1 0 -7 0M645.2 1511.9a3.5 3.5 0 1 0 7 0a3.5 3.5 0 1 0 -7 0M649.3 1512.7a3.5 3.5 0 1 0 7 0a3.5 3.5 0 1 0 -7 0M653.4 1511.1a3.5 3.5 0 1 0 7 0a3.5 3.5 0 1 0 -7 0M657.5 1510.3a3.5 3.5 0 1 0 7 0a3.5 3.5 0 1 0 -7 0M661.6 1505.3a3.5 3.5 0 1 0 7 0a3.5 3.5 0 1 0 -7 0M665.7 1505.3a3.5 3.5 0 1 0 7 0a3.5 3.5 0 1 0 -7 0M669.9 1504.5a3.5 3.5 0 1 0 7 0a3.5 3.5 0 1 0 -7 0M673 1503.7a3.5 3.5 0 1 0 7 0a3.5 3.5 0 1 0 -7 0M678.3 1509.2a3.5 3.5 0 1 0 7 0a3.5 3.5 0 1 0 -7 0M682.5 1510.5a3.5 3.5 0 1 0 7 0a3.5 3.5 0 1 0 -7 0M686.7 1509.1a3.5 3.5 0 1 0 7 0a3.5 3.5 0 1 0 -7 0M691 1509.1a3.5 3.5 0 1 0 7 0a3.5 3.5 0 1 0 -7 0M695.3 1507.4a3.5 3.5 0 1 0 7 0a3.5 3.5 0 1 0 -7 0M699.6 1509.2a3.5 3.5 0 1 0 7 0a3.5 3.5 0 1 0 -7 0M703.9 1504.8a3.5 3.5 0 1 0 7 0a3.5 3.5 0 1 0 -7 0M708.3 1508.2a3.5 3.5 0 1 0 7 0a3.5 3.5 0 1 0 -7 0M712.6 1510.1a3.5 3.5 0 1 0 7 0a3.5 3.5 0 1 0 -7 0M717 1506.9a3.5 3.5 0 1 0 7 0a3.5 3.5 0 1 0 -7 0M721.4 1504.8a3.5 3.5 0 1 0 7 0a3.5 3.5 0 1 0 -7 0M725.9 1504.6a3.5 3.5 0 1 0 7 0a3.5 3.5 0 1 0 -7 0M730.4 1511.2a3.5 3.5 0 1 0 7 0a3.5 3.5 0 1 0 -7 0M734.8 1501.5a3.5 3.5 0 1 0 7 0a3.5 3.5 0 1 0 -7 0M739.3 1503.9a3.5 3.5 0 1 0 7 0a3.5 3.5 0 1 0 -7 0M743.9 1503.3a3.5 3.5 0 1 0 7 0a3.5 3.5 0 1 0 -7 0M748.4 1497.7a3.5 3.5 0 1 0 7 0a3.5 3.5 0 1 0 -7 0M753 1475.4a3.5 3.5 0 1 0 7 0a3.5 3.5 0 1 0 -7 0M757 1466.8a3.5 3.5 0 1 0 7 0a3.5 3.5 0 1 0 -7 0M762.2 1496.2a3.5 3.5 0 1 0 7 0a3.5 3.5 0 1 0 -7 0M766.9 1496.4a3.5 3.5 0 1 0 7 0a3.5 3.5 0 1 0 -7 0M771.5 1497.5a3.5 3.5 0 1 0 7 0a3.5 3.5 0 1 0 -7 0M776.2 1495.4a3.5 3.5 0 1 0 7 0a3.5 3.5 0 1 0 -7 0M780.9 1498.8a3.5 3.5 0 1 0 7 0a3.5 3.5 0 1 0 -7 0M785.7 1496.2a3.5 3.5 0 1 0 7 0a3.5 3.5 0 1 0 -7 0M790.5 1501.4a3.5 3.5 0 1 0 7 0a3.5 3.5 0 1 0 -7 0M795.2 1493.3a3.5 3.5 0 1 0 7 0a3.5 3.5 0 1 0 -7 0M800.1 1488.4a3.5 3.5 0 1 0 7 0a3.5 3.5 0 1 0 -7 0M804.9 1478.3a3.5 3.5 0 1 0 7 0a3.5 3.5 0 1 0 -7 0M809.8 1484.6a3.5 3.5 0 1 0 7 0a3.5 3.5 0 1 0 -7 0M814.6 1486.1a3.5 3.5 0 1 0 7 0a3.5 3.5 0 1 0 -7 0M819.6 1480.3a3.5 3.5 0 1 0 7 0a3.5 3.5 0 1 0 -7 0M824.5 1476.8a3.5 3.5 0 1 0 7 0a3.5 3.5 0 1 0 -7 0M829.4 1476.8a3.5 3.5 0 1 0 7 0a3.5 3.5 0 1 0 -7 0M834.4 1465.9a3.5 3.5 0 1 0 7 0a3.5 3.5 0 1 0 -7 0M839.4 1435.7a3.5 3.5 0 1 0 7 0a3.5 3.5 0 1 0 -7 0M842.5 1427.7a3.5 3.5 0 1 0 7 0a3.5 3.5 0 1 0 -7 0M849.5 1471.2a3.5 3.5 0 1 0 7 0a3.5 3.5 0 1 0 -7 0M854.6 1481a3.5 3.5 0 1 0 7 0a3.5 3.5 0 1 0 -7 0M859.7 1474.9a3.5 3.5 0 1 0 7 0a3.5 3.5 0 1 0 -7 0M864.9 1479.5a3.5 3.5 0 1 0 7 0a3.5 3.5 0 1 0 -7 0M870 1479.9a3.5 3.5 0 1 0 7 0a3.5 3.5 0 1 0 -7 0M875.2 1487.5a3.5 3.5 0 1 0 7 0a3.5 3.5 0 1 0 -7 0M880.4 1484.4a3.5 3.5 0 1 0 7 0a3.5 3.5 0 1 0 -7 0M885.7 1481.3a3.5 3.5 0 1 0 7 0a3.5 3.5 0 1 0 -7 0M890.1 1486a3.5 3.5 0 1 0 7 0a3.5 3.5 0 1 0 -7 0M896.3 1489.7a3.5 3.5 0 1 0 7 0a3.5 3.5 0 1 0 -7 0M901.6 1491a3.5 3.5 0 1 0 7 0a3.5 3.5 0 1 0 -7 0M906.9 1495.2a3.5 3.5 0 1 0 7 0a3.5 3.5 0 1 0 -7 0M912.3 1488.2a3.5 3.5 0 1 0 7 0a3.5 3.5 0 1 0 -7 0M917.7 1490.5a3.5 3.5 0 1 0 7 0a3.5 3.5 0 1 0 -7 0M923.1 1494.6a3.5 3.5 0 1 0 7 0a3.5 3.5 0 1 0 -7 0M928.6 1495.7a3.5 3.5 0 1 0 7 0a3.5 3.5 0 1 0 -7 0M934.1 1492.5a3.5 3.5 0 1 0 7 0a3.5 3.5 0 1 0 -7 0M939.5 1475.2a3.5 3.5 0 1 0 7 0a3.5 3.5 0 1 0 -7 0M945.1 1485.4a3.5 3.5 0 1 0 7 0a3.5 3.5 0 1 0 -7 0M950.7 1494.3a3.5 3.5 0 1 0 7 0a3.5 3.5 0 1 0 -7 0" fill="#080808"/>
<path d="M152 1508.4 L152.6 1508.8 L154.1 1509.7 L155.7 1510.3 L157.3 1510.8 L158.8 1511.2 L160.4 1511.4 L162 1511.5 L163.6 1511.6 L166 1511.6 L169 1508.4 L171.7 1511.7 L173.4 1513.1 L175 1513.5 L176.7 1513.8 L178.3 1514 L180 1514.1 L181.7 1514.4 L183.4 1514.6 L185.1 1515 L186.8 1515.3 L188.5 1515.5 L190 1515.6 L192 1515.6 L193.8 1515.5 L195.5 1515.4 L197.3 1515.3 L199.1 1515.1 L200.8 1513.6 L203 1508 L204.4 1508.5 L206 1509 L208.1 1507.2 L210.4 1505 L211.7 1505.6 L213.6 1507.5 L215.4 1510.2 L217.3 1513.4 L219.2 1514.6 L221.1 1515.5 L223 1516.2 L226 1516.6 L228.7 1516.6 L230.6 1516.5 L232.6 1516.5 L234.5 1516.4 L236.5 1516.4 L238 1516.4 L240.5 1516.6 L242.4 1516.9 L244.5 1517.3 L246.5 1517.7 L249.6 1518 L252 1506 L254.6 1515.3 L256.7 1517.5 L259 1518.4 L260.8 1518.3 L262.9 1518.1 L265 1517.7 L267.2 1517.2 L269.3 1516.6 L271.4 1515.9 L273.6 1515 L275.7 1513.7 L277.9 1512.1 L280.1 1509.3 L282.3 1505.5 L284.5 1502.4 L286.7 1499.7 L288.9 1497.6 L291.2 1496.5 L293.6 1496 L295.7 1496.3 L298 1497.2 L300.2 1498.1 L302.5 1499.1 L304.8 1500.4 L307.2 1501.7 L309.5 1503.1 L311.8 1504.4 L314.2 1505.5 L316.5 1506.7 L318.9 1508.9 L321.3 1511.8 L323.7 1513.2 L326.1 1513.8 L328.6 1514.3 L332 1514.5 L333.4 1514.4 L335.9 1514.1 L338.4 1513.5 L340.9 1512.8 L343.4 1512.2 L345.9 1511.7 L348.5 1511.5 L350.9 1512 L353.5 1513.2 L356.1 1514.7 L358.6 1515.9 L361.2 1516.7 L363.8 1517.4 L366.4 1518.1 L369.1 1518.8 L371.7 1519.3 L374.4 1519.6 L377 1520 L379.7 1520.3 L382.4 1520.5 L385.1 1520.7 L387.9 1520.9 L390.6 1521 L392 1521 L393.3 1521 L396.1 1520.9 L398.9 1520.7 L401.7 1520.3 L404.5 1519.8 L407.3 1516.9 L410.1 1507.9 L413 1502.5 L415.9 1510.2 L419 1519 L421.6 1519 L424.5 1518.9 L427.5 1518.9 L430.4 1518.8 L433.3 1518.6 L436.3 1518.4 L439.3 1518.2 L442.3 1517.9 L445.3 1517.6 L448.3 1516.8 L451.4 1514.7 L454.4 1512 L457.5 1507.5 L459.5 1505.5 L463.7 1509 L465.5 1510 L466.8 1509.7 L470 1507.7 L473 1506.4 L476.3 1506.5 L479.5 1506.8 L483.5 1507 L485.9 1506.2 L489.1 1503.3 L492.4 1499 L495.6 1491 L498.9 1471.7 L502.2 1440.3 L504.2 1429 L508.9 1443.5 L512.2 1456.5 L515.6 1470.4 L519 1484.6 L522.4 1491.5 L525.8 1495.8 L529.2 1497.3 L532.7 1498.3 L536 1498.6 L539.6 1498.1 L543.1 1496.9 L546.6 1495.7 L551 1495 L553.7 1495.3 L557.3 1496.2 L560 1496.5 L566 1486 L568.1 1488.6 L572 1495 L575.5 1494.1 L579.1 1492 L582.8 1489.6 L586.6 1488.1 L590.3 1486.4 L594.1 1462.1 L599 1459 L601.6 1477.8 L605.5 1497.4 L609.3 1503.3 L613.1 1504.6 L617 1505.3 L620.9 1505.9 L624.8 1506.8 L628.8 1507.3 L632.7 1507.3 L636.7 1507.3 L640.7 1507.3 L644.7 1507.3 L648.7 1507.3 L652.8 1507.3 L656.9 1507.3 L661 1506.5 L665.1 1505.3 L669.2 1504 L673.4 1503 L676.5 1502.7 L681.8 1503.8 L686 1505.3 L690.2 1506 L694.5 1506 L698.8 1506 L703.1 1506 L707.4 1506 L711.8 1506 L716.1 1506 L720.5 1505.9 L724.9 1505.7 L729.4 1505.4 L733.9 1505 L738.3 1504.6 L742.8 1504 L747.4 1502.9 L751.9 1493 L756.5 1473.8 L760.5 1466.6 L765.7 1495.4 L771.5 1498.9 L775 1497.8 L779.7 1496.5 L784.4 1495.7 L789.2 1494.9 L794 1493.7 L798.7 1491.5 L803.6 1486.1 L808.4 1476.6 L813.3 1476.4 L818.1 1478.6 L820.4 1479.4 L823.1 1479.1 L828 1477.7 L832.9 1474.9 L837.9 1462.1 L842.9 1435.2 L846 1426.6 L853 1466.8 L858.1 1473.4 L863.2 1475.7 L868.4 1478.6 L873.5 1482.6 L877.4 1484 L878.7 1484 L883.9 1483.5 L889.2 1482.9 L893.6 1482.7 L899.8 1486.2 L905.1 1489.8 L910.4 1491.9 L915.8 1493.1 L921.2 1494.1 L926.6 1494.8 L931.6 1495 L937.6 1486.4 L943 1471.8 L948.6 1482.8 L954.2 1492.5 L959.1 1493.5" stroke="#ff0000" stroke-width="1.6" fill="none" stroke-linejoin="round"/>
<path d="M149.1 1654.6a3.5 3.5 0 1 0 7 0a3.5 3.5 0 1 0 -7 0M150.6 1656.5a3.5 3.5 0 1 0 7 0a3.5 3.5 0 1 0 -7 0M152.2 1655.6a3.5 3.5 0 1 0 7 0a3.5 3.5 0 1 0 -7 0M153.8 1654a3.5 3.5 0 1 0 7 0a3.5 3.5 0 1 0 -7 0M155.3 1655a3.5 3.5 0 1 0 7 0a3.5 3.5 0 1 0 -7 0M156.9 1656.8a3.5 3.5 0 1 0 7 0a3.5 3.5 0 1 0 -7 0M158.5 1662.6a3.5 3.5 0 1 0 7 0a3.5 3.5 0 1 0 -7 0M160.1 1661.7a3.5 3.5 0 1 0 7 0a3.5 3.5 0 1 0 -7 0M161.7 1661.2a3.5 3.5 0 1 0 7 0a3.5 3.5 0 1 0 -7 0M163.3 1662.1a3.5 3.5 0 1 0 7 0a3.5 3.5 0 1 0 -7 0M164.9 1661.9a3.5 3.5 0 1 0 7 0a3.5 3.5 0 1 0 -7 0M166.5 1666.4a3.5 3.5 0 1 0 7 0a3.5 3.5 0 1 0 -7 0M168.2 1667a3.5 3.5 0 1 0 7 0a3.5 3.5 0 1 0 -7 0M169.9 1669.8a3.5 3.5 0 1 0 7 0a3.5 3.5 0 1 0 -7 0M171.5 1666.3a3.5 3.5 0 1 0 7 0a3.5 3.5 0 1 0 -7 0M173.2 1665.6a3.5 3.5 0 1 0 7 0a3.5 3.5 0 1 0 -7 0M174.8 1669.8a3.5 3.5 0 1 0 7 0a3.5 3.5 0 1 0 -7 0M176.5 1665.5a3.5 3.5 0 1 0 7 0a3.5 3.5 0 1 0 -7 0M178.2 1665.9a3.5 3.5 0 1 0 7 0a3.5 3.5 0 1 0 -7 0M179.9 1666.7a3.5 3.5 0 1 0 7 0a3.5 3.5 0 1 0 -7 0M181.6 1664.6a3.5 3.5 0 1 0 7 0a3.5 3.5 0 1 0 -7 0M183.3 1661.6a3.5 3.5 0 1 0 7 0a3.5 3.5 0 1 0 -7 0M185 1662.5a3.5 3.5 0 1 0 7 0a3.5 3.5 0 1 0 -7 0M186.8 1664.2a3.5 3.5 0 1 0 7 0a3.5 3.5 0 1 0 -7 0M188.5 1663a3.5 3.5 0 1 0 7 0a3.5 3.5 0 1 0 -7 0M190.3 1660.7a3.5 3.5 0 1 0 7 0a3.5 3.5 0 1 0 -7 0M192 1663.8a3.5 3.5 0 1 0 7 0a3.5 3.5 0 1 0 -7 0M193.8 1663.2a3.5 3.5 0 1 0 7 0a3.5 3.5 0 1 0 -7 0M195.6 1661.3a3.5 3.5 0 1 0 7 0a3.5 3.5 0 1 0 -7 0M197.3 1659.1a3.5 3.5 0 1 0 7 0a3.5 3.5 0 1 0 -7 0M199.1 1659.8a3.5 3.5 0 1 0 7 0a3.5 3.5 0 1 0 -7 0M200.9 1658.1a3.5 3.5 0 1 0 7 0a3.5 3.5 0 1 0 -7 0M202.7 1656.8a3.5 3.5 0 1 0 7 0a3.5 3.5 0 1 0 -7 0M204.6 1656.1a3.5 3.5 0 1 0 7 0a3.5 3.5 0 1 0 -7 0M206.5 1658.3a3.5 3.5 0 1 0 7 0a3.5 3.5 0 1 0 -7 0M208.2 1660a3.5 3.5 0 1 0 7 0a3.5 3.5 0 1 0 -7 0M210.1 1661.1a3.5 3.5 0 1 0 7 0a3.5 3.5 0 1 0 -7 0M211.9 1663.8a3.5 3.5 0 1 0 7 0a3.5 3.5 0 1 0 -7 0M213.8 1663.3a3.5 3.5 0 1 0 7 0a3.5 3.5 0 1 0 -7 0M215.7 1665.4a3.5 3.5 0 1 0 7 0a3.5 3.5 0 1 0 -7 0M217.6 1666.3a3.5 3.5 0 1 0 7 0a3.5 3.5 0 1 0 -7 0M219.5 1665a3.5 3.5 0 1 0 7 0a3.5 3.5 0 1 0 -7 0M221.4 1665.7a3.5 3.5 0 1 0 7 0a3.5 3.5 0 1 0 -7 0M223.3 1666.5a3.5 3.5 0 1 0 7 0a3.5 3.5 0 1 0 -7 0M225.2 1667.8a3.5 3.5 0 1 0 7 0a3.5 3.5 0 1 0 -7 0M227.1 1666.8a3.5 3.5 0 1 0 7 0a3.5 3.5 0 1 0 -7 0M229.1 1664.4a3.5 3.5 0 1 0 7 0a3.5 3.5 0 1 0 -7 0M230.5 1662a3.5 3.5 0 1 0 7 0a3.5 3.5 0 1 0 -7 0M233 1666.3a3.5 3.5 0 1 0 7 0a3.5 3.5 0 1 0 -7 0M235 1669.7a3.5 3.5 0 1 0 7 0a3.5 3.5 0 1 0 -7 0M237 1671.7a3.5 3.5 0 1 0 7 0a3.5 3.5 0 1 0 -7 0M238.9 1670.4a3.5 3.5 0 1 0 7 0a3.5 3.5 0 1 0 -7 0M241 1666.9a3.5 3.5 0 1 0 7 0a3.5 3.5 0 1 0 -7 0M243 1664.4a3.5 3.5 0 1 0 7 0a3.5 3.5 0 1 0 -7 0M245 1655.5a3.5 3.5 0 1 0 7 0a3.5 3.5 0 1 0 -7 0M246.5 1647.2a3.5 3.5 0 1 0 7 0a3.5 3.5 0 1 0 -7 0M249.1 1654.3a3.5 3.5 0 1 0 7 0a3.5 3.5 0 1 0 -7 0M251.5 1663.3a3.5 3.5 0 1 0 7 0a3.5 3.5 0 1 0 -7 0M253.2 1667.4a3.5 3.5 0 1 0 7 0a3.5 3.5 0 1 0 -7 0M255.3 1667.4a3.5 3.5 0 1 0 7 0a3.5 3.5 0 1 0 -7 0M257.3 1669.8a3.5 3.5 0 1 0 7 0a3.5 3.5 0 1 0 -7 0M259.4 1673a3.5 3.5 0 1 0 7 0a3.5 3.5 0 1 0 -7 0M261.5 1669.6a3.5 3.5 0 1 0 7 0a3.5 3.5 0 1 0 -7 0M263.7 1668.2a3.5 3.5 0 1 0 7 0a3.5 3.5 0 1 0 -7 0M265.8 1667.1a3.5 3.5 0 1 0 7 0a3.5 3.5 0 1 0 -7 0M267.9 1670a3.5 3.5 0 1 0 7 0a3.5 3.5 0 1 0 -7 0M270.1 1667.3a3.5 3.5 0 1 0 7 0a3.5 3.5 0 1 0 -7 0M272.2 1665.9a3.5 3.5 0 1 0 7 0a3.5 3.5 0 1 0 -7 0M274.4 1665.6a3.5 3.5 0 1 0 7 0a3.5 3.5 0 1 0 -7 0M276.6 1663.2a3.5 3.5 0 1 0 7 0a3.5 3.5 0 1 0 -7 0M278.8 1660.8a3.5 3.5 0 1 0 7 0a3.5 3.5 0 1 0 -7 0M281 1658.7a3.5 3.5 0 1 0 7 0a3.5 3.5 0 1 0 -7 0M283.2 1654.7a3.5 3.5 0 1 0 7 0a3.5 3.5 0 1 0 -7 0M285.4 1651.8a3.5 3.5 0 1 0 7 0a3.5 3.5 0 1 0 -7 0M288.5 1653.7a3.5 3.5 0 1 0 7 0a3.5 3.5 0 1 0 -7 0M289.9 1653a3.5 3.5 0 1 0 7 0a3.5 3.5 0 1 0 -7 0M292.2 1655.2a3.5 3.5 0 1 0 7 0a3.5 3.5 0 1 0 -7 0M294.5 1659.7a3.5 3.5 0 1 0 7 0a3.5 3.5 0 1 0 -7 0M296.7 1659.5a3.5 3.5 0 1 0 7 0a3.5 3.5 0 1 0 -7 0M299 1661.6a3.5 3.5 0 1 0 7 0a3.5 3.5 0 1 0 -7 0M301.3 1663.2a3.5 3.5 0 1 0 7 0a3.5 3.5 0 1 0 -7 0M303.7 1663.8a3.5 3.5 0 1 0 7 0a3.5 3.5 0 1 0 -7 0M306 1665.6a3.5 3.5 0 1 0 7 0a3.5 3.5 0 1 0 -7 0M308.3 1670.6a3.5 3.5 0 1 0 7 0a3.5 3.5 0 1 0 -7 0M310.7 1670.8a3.5 3.5 0 1 0 7 0a3.5 3.5 0 1 0 -7 0M312.5 1670.2a3.5 3.5 0 1 0 7 0a3.5 3.5 0 1 0 -7 0M315.4 1671.1a3.5 3.5 0 1 0 7 0a3.5 3.5 0 1 0 -7 0M317.8 1669.8a3.5 3.5 0 1 0 7 0a3.5 3.5 0 1 0 -7 0M320.2 1671.3a3.5 3.5 0 1 0 7 0a3.5 3.5 0 1 0 -7 0M322.6 1670.7a3.5 3.5 0 1 0 7 0a3.5 3.5 0 1 0 -7 0M325.1 1672.3a3.5 3.5 0 1 0 7 0a3.5 3.5 0 1 0 -7 0M327.5 1671.3a3.5 3.5 0 1 0 7 0a3.5 3.5 0 1 0 -7 0M329.9 1671a3.5 3.5 0 1 0 7 0a3.5 3.5 0 1 0 -7 0M332.4 1674.2a3.5 3.5 0 1 0 7 0a3.5 3.5 0 1 0 -7 0M334.9 1671.4a3.5 3.5 0 1 0 7 0a3.5 3.5 0 1 0 -7 0M337.4 1672a3.5 3.5 0 1 0 7 0a3.5 3.5 0 1 0 -7 0M339.9 1670a3.5 3.5 0 1 0 7 0a3.5 3.5 0 1 0 -7 0M342.4 1674.5a3.5 3.5 0 1 0 7 0a3.5 3.5 0 1 0 -7 0M344.9 1670.5a3.5 3.5 0 1 0 7 0a3.5 3.5 0 1 0 -7 0M346.5 1670.9a3.5 3.5 0 1 0 7 0a3.5 3.5 0 1 0 -7 0M350 1671.9a3.5 3.5 0 1 0 7 0a3.5 3.5 0 1 0 -7 0M352.6 1673.3a3.5 3.5 0 1 0 7 0a3.5 3.5 0 1 0 -7 0M355.1 1672.2a3.5 3.5 0 1 0 7 0a3.5 3.5 0 1 0 -7 0M357.7 1673.9a3.5 3.5 0 1 0 7 0a3.5 3.5 0 1 0 -7 0M360.3 1677.1a3.5 3.5 0 1 0 7 0a3.5 3.5 0 1 0 -7 0M362.9 1677.6a3.5 3.5 0 1 0 7 0a3.5 3.5 0 1 0 -7 0M365.6 1680.2a3.5 3.5 0 1 0 7 0a3.5 3.5 0 1 0 -7 0M368.2 1679a3.5 3.5 0 1 0 7 0a3.5 3.5 0 1 0 -7 0M370.9 1680a3.5 3.5 0 1 0 7 0a3.5 3.5 0 1 0 -7 0M373.5 1683.4a3.5 3.5 0 1 0 7 0a3.5 3.5 0 1 0 -7 0M376.2 1682.1a3.5 3.5 0 1 0 7 0a3.5 3.5 0 1 0 -7 0M378.9 1682.7a3.5 3.5 0 1 0 7 0a3.5 3.5 0 1 0 -7 0M381.6 1684.2a3.5 3.5 0 1 0 7 0a3.5 3.5 0 1 0 -7 0M384.4 1682.5a3.5 3.5 0 1 0 7 0a3.5 3.5 0 1 0 -7 0M387.1 1680.3a3.5 3.5 0 1 0 7 0a3.5 3.5 0 1 0 -7 0M389.8 1680.8a3.5 3.5 0 1 0 7 0a3.5 3.5 0 1 0 -7 0M392.6 1680a3.5 3.5 0 1 0 7 0a3.5 3.5 0 1 0 -7 0M395.4 1676.3a3.5 3.5 0 1 0 7 0a3.5 3.5 0 1 0 -7 0M398.2 1674.2a3.5 3.5 0 1 0 7 0a3.5 3.5 0 1 0 -7 0M401 1674.4a3.5 3.5 0 1 0 7 0a3.5 3.5 0 1 0 -7 0M403.8 1672.5a3.5 3.5 0 1 0 7 0a3.5 3.5 0 1 0 -7 0M406.6 1661.4a3.5 3.5 0 1 0 7 0a3.5 3.5 0 1 0 -7 0M410.1 1661.8a3.5 3.5 0 1 0 7 0a3.5 3.5 0 1 0 -7 0M412.4 1673.9a3.5 3.5 0 1 0 7 0a3.5 3.5 0 1 0 -7 0M415.2 1674.9a3.5 3.5 0 1 0 7 0a3.5 3.5 0 1 0 -7 0M418.1 1673.8a3.5 3.5 0 1 0 7 0a3.5 3.5 0 1 0 -7 0M421 1672.1a3.5 3.5 0 1 0 7 0a3.5 3.5 0 1 0 -7 0M424 1674.2a3.5 3.5 0 1 0 7 0a3.5 3.5 0 1 0 -7 0M426.9 1674.4a3.5 3.5 0 1 0 7 0a3.5 3.5 0 1 0 -7 0M429.8 1669.5a3.5 3.5 0 1 0 7 0a3.5 3.5 0 1 0 -7 0M432.8 1667.4a3.5 3.5 0 1 0 7 0a3.5 3.5 0 1 0 -7 0M435.8 1668.9a3.5 3.5 0 1 0 7 0a3.5 3.5 0 1 0 -7 0M438.8 1667.5a3.5 3.5 0 1 0 7 0a3.5 3.5 0 1 0 -7 0M441.8 1664.1a3.5 3.5 0 1 0 7 0a3.5 3.5 0 1 0 -7 0M444.8 1664.3a3.5 3.5 0 1 0 7 0a3.5 3.5 0 1 0 -7 0M447.9 1664.4a3.5 3.5 0 1 0 7 0a3.5 3.5 0 1 0 -7 0M450.9 1664.5a3.5 3.5 0 1 0 7 0a3.5 3.5 0 1 0 -7 0M454 1664.5a3.5 3.5 0 1 0 7 0a3.5 3.5 0 1 0 -7 0M457.5 1663.7a3.5 3.5 0 1 0 7 0a3.5 3.5 0 1 0 -7 0M460.2 1665.4a3.5 3.5 0 1 0 7 0a3.5 3.5 0 1 0 -7 0M463.3 1661.1a3.5 3.5 0 1 0 7 0a3.5 3.5 0 1 0 -7 0M466.5 1660.9a3.5 3.5 0 1 0 7 0a3.5 3.5 0 1 0 -7 0M469.5 1660.3a3.5 3.5 0 1 0 7 0a3.5 3.5 0 1 0 -7 0M472.8 1660.4a3.5 3.5 0 1 0 7 0a3.5 3.5 0 1 0 -7 0M476 1661.7a3.5 3.5 0 1 0 7 0a3.5 3.5 0 1 0 -7 0M479.2 1662.6a3.5 3.5 0 1 0 7 0a3.5 3.5 0 1 0 -7 0M482.4 1661.4a3.5 3.5 0 1 0 7 0a3.5 3.5 0 1 0 -7 0M485.6 1659a3.5 3.5 0 1 0 7 0a3.5 3.5 0 1 0 -7 0M488.9 1655.8a3.5 3.5 0 1 0 7 0a3.5 3.5 0 1 0 -7 0M492.1 1649.4a3.5 3.5 0 1 0 7 0a3.5 3.5 0 1 0 -7 0M495.4 1641.8a3.5 3.5 0 1 0 7 0a3.5 3.5 0 1 0 -7 0M498.7 1623.3a3.5 3.5 0 1 0 7 0a3.5 3.5 0 1 0 -7 0M500.7 1615a3.5 3.5 0 1 0 7 0a3.5 3.5 0 1 0 -7 0M505.4 1626.5a3.5 3.5 0 1 0 7 0a3.5 3.5 0 1 0 -7 0M508.7 1639.9a3.5 3.5 0 1 0 7 0a3.5 3.5 0 1 0 -7 0M512.1 1644.1a3.5 3.5 0 1 0 7 0a3.5 3.5 0 1 0 -7 0M515.5 1645.2a3.5 3.5 0 1 0 7 0a3.5 3.5 0 1 0 -7 0M518.9 1651.3a3.5 3.5 0 1 0 7 0a3.5 3.5 0 1 0 -7 0M522.3 1648.5a3.5 3.5 0 1 0 7 0a3.5 3.5 0 1 0 -7 0M525.7 1650.7a3.5 3.5 0 1 0 7 0a3.5 3.5 0 1 0 -7 0M529.2 1653.8a3.5 3.5 0 1 0 7 0a3.5 3.5 0 1 0 -7 0M532.6 1651.6a3.5 3.5 0 1 0 7 0a3.5 3.5 0 1 0 -7 0M536.1 1653.4a3.5 3.5 0 1 0 7 0a3.5 3.5 0 1 0 -7 0M539.6 1655.9a3.5 3.5 0 1 0 7 0a3.5 3.5 0 1 0 -7 0M544.5 1653.4a3.5 3.5 0 1 0 7 0a3.5 3.5 0 1 0 -7 0M546.7 1651.6a3.5 3.5 0 1 0 7 0a3.5 3.5 0 1 0 -7 0M550.2 1654a3.5 3.5 0 1 0 7 0a3.5 3.5 0 1 0 -7 0M553.8 1653.9a3.5 3.5 0 1 0 7 0a3.5 3.5 0 1 0 -7 0M557.4 1652.5a3.5 3.5 0 1 0 7 0a3.5 3.5 0 1 0 -7 0M562.5 1654.4a3.5 3.5 0 1 0 7 0a3.5 3.5 0 1 0 -7 0M564.6 1653.2a3.5 3.5 0 1 0 7 0a3.5 3.5 0 1 0 -7 0M568.3 1656.1a3.5 3.5 0 1 0 7 0a3.5 3.5 0 1 0 -7 0M572 1656.6a3.5 3.5 0 1 0 7 0a3.5 3.5 0 1 0 -7 0M575.6 1659.1a3.5 3.5 0 1 0 7 0a3.5 3.5 0 1 0 -7 0M579.3 1652.7a3.5 3.5 0 1 0 7 0a3.5 3.5 0 1 0 -7 0M583.1 1648.8a3.5 3.5 0 1 0 7 0a3.5 3.5 0 1 0 -7 0M586.8 1645.4a3.5 3.5 0 1 0 7 0a3.5 3.5 0 1 0 -7 0M590.6 1628.7a3.5 3.5 0 1 0 7 0a3.5 3.5 0 1 0 -7 0M594.9 1620.6a3.5 3.5 0 1 0 7 0a3.5 3.5 0 1 0 -7 0M598.1 1632a3.5 3.5 0 1 0 7 0a3.5 3.5 0 1 0 -7 0M602 1652a3.5 3.5 0 1 0 7 0a3.5 3.5 0 1 0 -7 0M605.8 1659.3a3.5 3.5 0 1 0 7 0a3.5 3.5 0 1 0 -7 0M609.6 1663.1a3.5 3.5 0 1 0 7 0a3.5 3.5 0 1 0 -7 0M613.5 1659.4a3.5 3.5 0 1 0 7 0a3.5 3.5 0 1 0 -7 0M617.4 1662.3a3.5 3.5 0 1 0 7 0a3.5 3.5 0 1 0 -7 0M621.3 1661a3.5 3.5 0 1 0 7 0a3.5 3.5 0 1 0 -7 0M625.3 1662.2a3.5 3.5 0 1 0 7 0a3.5 3.5 0 1 0 -7 0M629.2 1664.1a3.5 3.5 0 1 0 7 0a3.5 3.5 0 1 0 -7 0M633.2 1667.1a3.5 3.5 0 1 0 7 0a3.5 3.5 0 1 0 -7 0M637.2 1665.5a3.5 3.5 0 1 0 7 0a3.5 3.5 0 1 0 -7 0M641.2 1664a3.5 3.5 0 1 0 7 0a3.5 3.5 0 1 0 -7 0M645.2 1663.9a3.5 3.5 0 1 0 7 0a3.5 3.5 0 1 0 -7 0M649.3 1665.2a3.5 3.5 0 1 0 7 0a3.5 3.5 0 1 0 -7 0M653.4 1665.8a3.5 3.5 0 1 0 7 0a3.5 3.5 0 1 0 -7 0M657.5 1664.6a3.5 3.5 0 1 0 7 0a3.5 3.5 0 1 0 -7 0M661.6 1666a3.5 3.5 0 1 0 7 0a3.5 3.5 0 1 0 -7 0M665.7 1666.6a3.5 3.5 0 1 0 7 0a3.5 3.5 0 1 0 -7 0M669.9 1665.9a3.5 3.5 0 1 0 7 0a3.5 3.5 0 1 0 -7 0M674.1 1664.4a3.5 3.5 0 1 0 7 0a3.5 3.5 0 1 0 -7 0M678.3 1666a3.5 3.5 0 1 0 7 0a3.5 3.5 0 1 0 -7 0M682.5 1665.8a3.5 3.5 0 1 0 7 0a3.5 3.5 0 1 0 -7 0M686.7 1665.4a3.5 3.5 0 1 0 7 0a3.5 3.5 0 1 0 -7 0M691 1665a3.5 3.5 0 1 0 7 0a3.5 3.5 0 1 0 -7 0M695.3 1664.7a3.5 3.5 0 1 0 7 0a3.5 3.5 0 1 0 -7 0M699.6 1663.5a3.5 3.5 0 1 0 7 0a3.5 3.5 0 1 0 -7 0M703.9 1664a3.5 3.5 0 1 0 7 0a3.5 3.5 0 1 0 -7 0M708.3 1663.5a3.5 3.5 0 1 0 7 0a3.5 3.5 0 1 0 -7 0M712.6 1660a3.5 3.5 0 1 0 7 0a3.5 3.5 0 1 0 -7 0M717 1662.5a3.5 3.5 0 1 0 7 0a3.5 3.5 0 1 0 -7 0M721.4 1661.7a3.5 3.5 0 1 0 7 0a3.5 3.5 0 1 0 -7 0M725.9 1661.8a3.5 3.5 0 1 0 7 0a3.5 3.5 0 1 0 -7 0M730.4 1661a3.5 3.5 0 1 0 7 0a3.5 3.5 0 1 0 -7 0M734.8 1663.2a3.5 3.5 0 1 0 7 0a3.5 3.5 0 1 0 -7 0M739.3 1663a3.5 3.5 0 1 0 7 0a3.5 3.5 0 1 0 -7 0M743.9 1660.7a3.5 3.5 0 1 0 7 0a3.5 3.5 0 1 0 -7 0M748.4 1641.3a3.5 3.5 0 1 0 7 0a3.5 3.5 0 1 0 -7 0M753 1621.4a3.5 3.5 0 1 0 7 0a3.5 3.5 0 1 0 -7 0M757 1612.1a3.5 3.5 0 1 0 7 0a3.5 3.5 0 1 0 -7 0M762.2 1647.6a3.5 3.5 0 1 0 7 0a3.5 3.5 0 1 0 -7 0M766.9 1648.3a3.5 3.5 0 1 0 7 0a3.5 3.5 0 1 0 -7 0M773.7 1647.5a3.5 3.5 0 1 0 7 0a3.5 3.5 0 1 0 -7 0M776.2 1644.1a3.5 3.5 0 1 0 7 0a3.5 3.5 0 1 0 -7 0M780.9 1644.6a3.5 3.5 0 1 0 7 0a3.5 3.5 0 1 0 -7 0M785.7 1651a3.5 3.5 0 1 0 7 0a3.5 3.5 0 1 0 -7 0M790.5 1647.6a3.5 3.5 0 1 0 7 0a3.5 3.5 0 1 0 -7 0M795.2 1643.6a3.5 3.5 0 1 0 7 0a3.5 3.5 0 1 0 -7 0M800.1 1640a3.5 3.5 0 1 0 7 0a3.5 3.5 0 1 0 -7 0M805.5 1634.7a3.5 3.5 0 1 0 7 0a3.5 3.5 0 1 0 -7 0M809.8 1629.8a3.5 3.5 0 1 0 7 0a3.5 3.5 0 1 0 -7 0M814.6 1639.6a3.5 3.5 0 1 0 7 0a3.5 3.5 0 1 0 -7 0M819.6 1643.2a3.5 3.5 0 1 0 7 0a3.5 3.5 0 1 0 -7 0M824.5 1640.4a3.5 3.5 0 1 0 7 0a3.5 3.5 0 1 0 -7 0M829.4 1642.7a3.5 3.5 0 1 0 7 0a3.5 3.5 0 1 0 -7 0M834.4 1637.2a3.5 3.5 0 1 0 7 0a3.5 3.5 0 1 0 -7 0M839.4 1600.7a3.5 3.5 0 1 0 7 0a3.5 3.5 0 1 0 -7 0M842.5 1587.8a3.5 3.5 0 1 0 7 0a3.5 3.5 0 1 0 -7 0M849.5 1638.9a3.5 3.5 0 1 0 7 0a3.5 3.5 0 1 0 -7 0M854.6 1642.3a3.5 3.5 0 1 0 7 0a3.5 3.5 0 1 0 -7 0M859.7 1644.4a3.5 3.5 0 1 0 7 0a3.5 3.5 0 1 0 -7 0M864.9 1649.4a3.5 3.5 0 1 0 7 0a3.5 3.5 0 1 0 -7 0M870 1650.7a3.5 3.5 0 1 0 7 0a3.5 3.5 0 1 0 -7 0M875.2 1653.8a3.5 3.5 0 1 0 7 0a3.5 3.5 0 1 0 -7 0M880.4 1651.4a3.5 3.5 0 1 0 7 0a3.5 3.5 0 1 0 -7 0M885.7 1654.2a3.5 3.5 0 1 0 7 0a3.5 3.5 0 1 0 -7 0M891 1650.1a3.5 3.5 0 1 0 7 0a3.5 3.5 0 1 0 -7 0M896.3 1652.7a3.5 3.5 0 1 0 7 0a3.5 3.5 0 1 0 -7 0M901.6 1655.6a3.5 3.5 0 1 0 7 0a3.5 3.5 0 1 0 -7 0M906.9 1661.1a3.5 3.5 0 1 0 7 0a3.5 3.5 0 1 0 -7 0M912.3 1656.6a3.5 3.5 0 1 0 7 0a3.5 3.5 0 1 0 -7 0M917.7 1654.7a3.5 3.5 0 1 0 7 0a3.5 3.5 0 1 0 -7 0M923.1 1646.3a3.5 3.5 0 1 0 7 0a3.5 3.5 0 1 0 -7 0M928.6 1663.7a3.5 3.5 0 1 0 7 0a3.5 3.5 0 1 0 -7 0M934.1 1637.7a3.5 3.5 0 1 0 7 0a3.5 3.5 0 1 0 -7 0M939.6 1652.7a3.5 3.5 0 1 0 7 0a3.5 3.5 0 1 0 -7 0M945.1 1621.8a3.5 3.5 0 1 0 7 0a3.5 3.5 0 1 0 -7 0M949.9 1633.3a3.5 3.5 0 1 0 7 0a3.5 3.5 0 1 0 -7 0" fill="#080808"/>
<path d="M152 1642 L152.6 1642.1 L154.1 1642.7 L155.7 1643.8 L157.3 1645.3 L158.8 1647 L160.4 1649.7 L162 1653 L163.6 1656.4 L165.2 1660.8 L167 1663.6 L168.4 1659.6 L170 1655 L171.7 1660.3 L173.4 1664.1 L175 1664.5 L176.7 1664.8 L178.3 1665 L180 1665 L181.7 1664.7 L183.4 1664.1 L185.1 1663.1 L186.8 1662.1 L188.5 1661.1 L190.3 1660.3 L192 1659.7 L193.8 1659.1 L195.5 1658.6 L197.3 1658 L199.1 1657.4 L200.8 1656.6 L202.6 1655.6 L204.4 1654.4 L206.2 1653.2 L208.1 1652.4 L210 1652 L211.7 1653.1 L213.6 1655.5 L215.4 1658.2 L217.3 1661.8 L219.2 1665.3 L222 1668 L224.9 1666.7 L226.8 1665.5 L228.7 1663.8 L230.6 1662.1 L232.6 1660.7 L234 1660.4 L236.5 1660.6 L238.5 1661 L240.5 1661.5 L242.4 1662.2 L244.5 1664.2 L247 1666 L248.5 1654.6 L250 1643 L252.4 1660 L255 1656 L256.7 1662.5 L259 1673 L260.8 1672.8 L262.9 1672.2 L265 1671.3 L267.2 1670.3 L269.3 1669.3 L271.4 1668.4 L273.6 1667.6 L275.7 1666.7 L277.9 1665.8 L280.1 1664.7 L282.3 1663.4 L284.5 1661.3 L286.7 1658.6 L288.9 1656.1 L292 1654.4 L293.4 1654.5 L295.7 1655.2 L298 1656.2 L300.2 1657.2 L302.5 1658.2 L304.8 1659.3 L307.2 1660.6 L309.5 1661.5 L312 1662 L314.2 1661.4 L316 1661 L318.9 1665.1 L321.3 1668.1 L323.7 1669.1 L326.1 1669.8 L328.6 1670.3 L332 1670.6 L333.4 1670.6 L335.9 1670.3 L338.4 1670 L340.9 1669.6 L343.4 1669.1 L345.9 1668.8 L348.4 1668.5 L350 1668.5 L353.5 1668.9 L356.1 1669.4 L358.6 1670.1 L361.2 1670.8 L363.8 1671.4 L366.4 1671.6 L369.1 1671.9 L371.7 1672.1 L374.4 1672.2 L377 1672.4 L380 1672.4 L382.4 1672.4 L385.1 1672.4 L387.9 1672.3 L390.6 1672.3 L393.3 1672.2 L396.1 1672.1 L398.9 1672 L401.7 1671.8 L404.5 1671.6 L407.3 1669.3 L410.1 1661.4 L413.6 1655 L415.9 1661.8 L418.4 1670 L421.6 1669.9 L424.5 1669.8 L427.5 1669.5 L430.4 1669.2 L433.3 1668.8 L436.3 1668.4 L439.3 1668.1 L442.3 1667.8 L445.3 1667.5 L448.3 1667.2 L451.4 1666.7 L454.4 1666.1 L457.5 1664.3 L461 1658 L463.7 1659 L467 1660.4 L470 1659.2 L473 1658 L476.3 1658.4 L479.5 1659.3 L482.7 1660.2 L485 1660.4 L489.1 1658.8 L492.4 1656.3 L495.6 1651.8 L498.9 1640.3 L502.2 1618.4 L504.2 1610 L508.9 1618.7 L512.2 1627 L515.6 1635.3 L519 1642.9 L522.4 1647.4 L525.8 1650.4 L530 1652 L532.7 1651.8 L536.1 1651.2 L539.6 1650.3 L543.1 1649.5 L548 1649 L550.2 1649.2 L553.7 1650.1 L557.3 1651.1 L560 1651.4 L566 1645.4 L568.1 1647.5 L572 1652.6 L575.5 1652.4 L579.1 1651.8 L582.8 1650.8 L586.6 1649.5 L590.3 1646.7 L594.1 1634.9 L598.4 1615.4 L601.6 1634.4 L605.5 1656.4 L609.3 1659.3 L613.1 1659.9 L617 1660.2 L620.9 1660.5 L624.8 1660.7 L628.8 1660.9 L632.7 1661.1 L636.7 1661.4 L640.7 1661.5 L644.7 1661.7 L648 1661.7 L652.8 1661.7 L656.9 1661.6 L661 1661.5 L665.1 1661.4 L669.2 1661.3 L673.4 1661.1 L677.6 1661 L681.8 1660.8 L686 1660.7 L690.2 1660.6 L694.5 1660.4 L698.8 1660.3 L703.1 1660.1 L707.4 1660 L711.8 1659.8 L716.1 1659.6 L720.5 1659.4 L724.9 1659.2 L729.4 1659 L733.9 1658.8 L738.3 1658.4 L742.8 1657.9 L747.4 1655.5 L751.9 1644.6 L756.5 1617.4 L760.5 1607.5 L765.7 1643.5 L771.5 1647.4 L777.2 1642.1 L779.7 1642.2 L784.4 1643.4 L789.2 1647.1 L790.5 1647.4 L794 1646.9 L798.7 1644.8 L803.6 1639 L809 1626.9 L813.3 1628.5 L818.1 1635.5 L823.1 1639.6 L826.1 1640.2 L828 1640.1 L832.9 1639.3 L837.9 1630 L842.9 1597 L846 1582.4 L853 1635.8 L858.1 1640.7 L863.2 1642.7 L868.4 1644.2 L873.5 1645.9 L878.7 1647.7 L883.9 1649.1 L889.2 1650 L894.5 1650.9 L899.8 1651.4 L904 1651.6 L910.4 1651.4 L915.8 1651.1 L921.2 1650.5 L926.6 1649.3 L932.1 1646.2 L937.6 1641.7 L943.1 1634.2 L948.6 1622.6 L953.4 1614.2 L959.1 1617" stroke="#ff0000" stroke-width="1.6" fill="none" stroke-linejoin="round"/>
<rect x="112.3" y="0.4" width="887" height="1762.1" fill="none" stroke="#000" stroke-width="1.5"/>
<path d="M139.1 1762.5v3.6M168.4 1762.5v3.6M197.8 1762.5v6.2M227.1 1762.5v3.6M256.4 1762.5v3.6M285.7 1762.5v3.6M315.1 1762.5v6.2M344.4 1762.5v3.6M373.7 1762.5v3.6M403 1762.5v3.6M432.4 1762.5v6.2M461.7 1762.5v3.6M491 1762.5v3.6M520.3 1762.5v3.6M549.6 1762.5v6.2M579 1762.5v3.6M608.3 1762.5v3.6M637.6 1762.5v3.6M667 1762.5v6.2M696.3 1762.5v3.6M725.6 1762.5v3.6M754.9 1762.5v3.6M784.2 1762.5v6.2M813.6 1762.5v3.6M842.9 1762.5v3.6M872.2 1762.5v3.6M901.5 1762.5v6.2M930.9 1762.5v3.6M960.2 1762.5v3.6M989.5 1762.5v3.6M112.3 1744.4h-3.6M112.3 1715.3h-3.6M112.3 1686.2h-3.6M112.3 1657.1h-6.2M112.3 1628h-3.6M112.3 1598.9h-3.6M112.3 1569.8h-3.6M112.3 1540.7h-3.6M112.3 1511.6h-6.2M112.3 1482.5h-3.6M112.3 1453.5h-3.6M112.3 1424.4h-3.6M112.3 1395.3h-3.6M112.3 1366.2h-6.2M112.3 1337.1h-3.6M112.3 1308h-3.6M112.3 1278.9h-3.6M112.3 1249.8h-3.6M112.3 1220.7h-6.2M112.3 1191.6h-3.6M112.3 1162.5h-3.6M112.3 1133.4h-3.6M112.3 1104.4h-3.6M112.3 1075.3h-6.2M112.3 1046.2h-3.6M112.3 1017.1h-3.6M112.3 988h-3.6M112.3 958.9h-3.6M112.3 929.8h-6.2M112.3 900.7h-3.6M112.3 871.6h-3.6M112.3 842.5h-3.6M112.3 813.4h-3.6M112.3 784.3h-6.2M112.3 755.2h-3.6M112.3 726.2h-3.6M112.3 697.1h-3.6M112.3 668h-3.6M112.3 638.9h-6.2M112.3 609.8h-3.6M112.3 580.7h-3.6M112.3 551.6h-3.6M112.3 522.5h-3.6M112.3 493.4h-6.2M112.3 464.3h-3.6M112.3 435.2h-3.6M112.3 406.1h-3.6M112.3 377.1h-3.6M112.3 348h-6.2M112.3 318.9h-3.6M112.3 289.8h-3.6M112.3 260.7h-3.6M112.3 231.6h-3.6M112.3 202.5h-6.2M112.3 173.4h-3.6M112.3 144.3h-3.6M112.3 115.2h-3.6M112.3 86.1h-3.6M112.3 57h-6.2M112.3 27.9h-3.6" stroke="#000" stroke-width="1.4" fill="none"/>
<text x="197.8" y="1798.2" font-size="32" text-anchor="middle">6</text>
<text x="315.1" y="1798.2" font-size="32" text-anchor="middle">8</text>
<text x="432.4" y="1798.2" font-size="32" text-anchor="middle">10</text>
<text x="549.6" y="1798.2" font-size="32" text-anchor="middle">12</text>
<text x="667" y="1798.2" font-size="32" text-anchor="middle">14</text>
<text x="784.2" y="1798.2" font-size="32" text-anchor="middle">16</text>
<text x="901.5" y="1798.2" font-size="32" text-anchor="middle">18</text>
<text x="103.3" y="1669.1" font-size="32" letter-spacing="1" text-anchor="end">Nuc</text>
<text x="101.6" y="1524" font-size="32" text-anchor="end">1</text>
<text x="101.6" y="1378.6" font-size="32" text-anchor="end">2</text>
<text x="101.6" y="1233.1" font-size="32" text-anchor="end">3</text>
<text x="101.6" y="1087.7" font-size="32" text-anchor="end">4</text>
<text x="101.6" y="942.2" font-size="32" text-anchor="end">5</text>
<text x="101.6" y="796.7" font-size="32" text-anchor="end">6</text>
<text x="101.6" y="651.3" font-size="32" text-anchor="end">7</text>
<text x="101.6" y="505.8" font-size="32" text-anchor="end">8</text>
<text x="101.6" y="360.4" font-size="32" text-anchor="end">9</text>
<text x="101.6" y="214.9" font-size="32" text-anchor="end">10</text>
<text x="555.7" y="1835" font-size="32" text-anchor="middle">Rest Wavelength (µm)</text>
<text transform="translate(24.2 881.5) rotate(-90)" font-size="32" text-anchor="middle">Normalized F<tspan font-size="22.4" font-style="italic" dy="5.4">ν</tspan><tspan dy="-5.4"> (Region Number)</tspan></text>
<text x="141.2" y="41.8" font-size="32">PAH<tspan font-size="22.4" dy="4.7">6.2µm</tspan></text>
<text x="228.1" y="113.4" font-size="32">PAH<tspan font-size="22.4" dy="4.7">7.7µm</tspan></text>
<text x="432.7" y="56.4" font-size="32">PAH<tspan font-size="22.4" dy="4.7">11.3µm</tspan></text>
<text x="784.9" y="41" font-size="32">PAH<tspan font-size="22.4" dy="4.7">17µm</tspan></text>
<line x1="845" y1="114.6" x2="878" y2="114.6" stroke="#404040" stroke-width="2.4" stroke-dasharray="8.3 3.6"/>
<text x="877.8" y="122.5" font-size="29.5">H</text>
<text x="899.6" y="127" font-size="20.6">2</text>
<text x="922.8" y="122.5" font-size="28.5">(S1)</text>
</svg></body></html>
